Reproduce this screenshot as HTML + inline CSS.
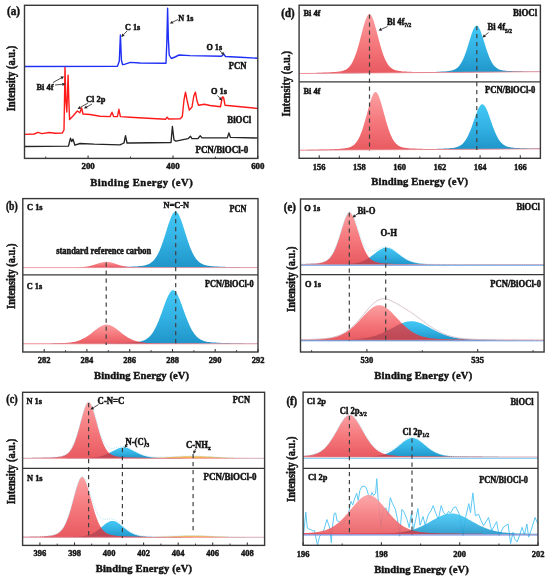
<!DOCTYPE html>
<html><head><meta charset="utf-8"><style>html,body{margin:0;padding:0;background:#fff;width:550px;height:582px;overflow:hidden}</style></head>
<body>
<svg width="550" height="582" viewBox="0 0 550 582" style="display:block;will-change:transform">
<defs>
<linearGradient id="gr" x1="0" y1="0" x2="0" y2="1"><stop offset="0" stop-color="#fba0a2"/><stop offset="0.5" stop-color="#f5797d"/><stop offset="1" stop-color="#e85a60"/></linearGradient>
<linearGradient id="gb" x1="0" y1="0" x2="0" y2="1"><stop offset="0" stop-color="#42c8f5"/><stop offset="0.5" stop-color="#33b2e4"/><stop offset="1" stop-color="#1f94c8"/></linearGradient>
<linearGradient id="go" x1="0" y1="0" x2="0" y2="1"><stop offset="0" stop-color="#fcd27a"/><stop offset="1" stop-color="#f0a838"/></linearGradient>
</defs>
<style>text{stroke:#141414;stroke-width:0.45px}</style>
<rect width="550" height="582" fill="#fff"/>
<g style="font-family:'Liberation Serif',serif;font-weight:bold" fill="#141414" stroke="none">
<polyline points="24.5,146.5 68.5,146.1 69.5,142 70.5,138.1 71.7,141.6 73,139.1 74.9,145.2 80,143.5 94,144.2 120,144.9 124,143 125.5,135.7 127,143 130,143 171,142.5 172.4,126.4 174,140 176,141.2 188,138.7 190.5,136.3 192,138.7 198,138.5 200.3,135.8 202,137.9 227.3,137.9 228.9,133 230.5,137.4 257.8,138" fill="none" stroke="#252525" stroke-width="1.35" stroke-linejoin="round" />
<polyline points="24.5,134.4 34.2,134 38,132.4 41.8,133.6 49.5,132.5 55,133.2 62.2,133.1 64,130 64.5,100 65,67.3 65.8,100 66.8,112 67.4,95 68.1,75.3 68.8,100 69.6,119.6 73,116 77.3,111 79.8,112.8 81.6,108 83,114 90,114.5 100,116.3 110,116.6 112,112.2 113.6,116.6 117.4,116.6 118.9,109.3 120.4,116.6 130,117.2 165.5,119.2 167.2,117.3 168.6,119 180,118.9 182.3,116.5 184,100 185.5,92.1 187,100 189.3,110.1 192,107 193.8,96 195.4,92.1 197,101 198.5,105.2 204.4,104.2 210,105.5 220.5,106.8 222.3,97 223.6,97.5 225,105.2 257.8,108.5" fill="none" stroke="#ff1a1a" stroke-width="1.4" stroke-linejoin="round" />
<polyline points="24.5,66.5 117.5,66.3 119.3,61 120.4,35 121.4,60 122.5,64.6 125,64.2 130.5,62.4 140,63 166,63.2 166.9,40 167.6,8.2 168.4,40 169.2,55 171.3,58.5 175,57 179,55 190,55.6 221.5,56.2 223.8,54.2 225.5,56.5 240,57.3 257.8,58.2" fill="none" stroke="#1f2ff5" stroke-width="1.4" stroke-linejoin="round" />
<rect x="24.5" y="5.3" width="233.3" height="153.1" fill="none" stroke="#383838" stroke-width="1.4"/>
<line x1="88.1" y1="158.4" x2="88.1" y2="155.4" stroke="#383838" stroke-width="1.1"/>
<line x1="173" y1="158.4" x2="173" y2="155.4" stroke="#383838" stroke-width="1.1"/>
<line x1="257.8" y1="158.4" x2="257.8" y2="155.4" stroke="#383838" stroke-width="1.1"/>
<line x1="45.7" y1="158.4" x2="45.7" y2="156.6" stroke="#383838" stroke-width="1"/>
<line x1="130.5" y1="158.4" x2="130.5" y2="156.6" stroke="#383838" stroke-width="1"/>
<line x1="215.4" y1="158.4" x2="215.4" y2="156.6" stroke="#383838" stroke-width="1"/>
<text transform="translate(88.1,169.3) scale(1,0.92)" font-size="8.9" text-anchor="middle" >200</text>
<text transform="translate(173,169.3) scale(1,0.92)" font-size="8.9" text-anchor="middle" >400</text>
<text transform="translate(257.8,169.3) scale(1,0.92)" font-size="8.9" text-anchor="middle" >600</text>
<text transform="translate(7,15.4) scale(1,1.1)" font-size="11" text-anchor="start" textLength="13" lengthAdjust="spacingAndGlyphs" >(a)</text>
<text transform="translate(90.2,185.7) scale(1,1.03)" font-size="10.6" text-anchor="start" textLength="102.5" lengthAdjust="spacing" >Binding Energy (eV)</text>
<text transform="translate(15,78.5) rotate(-90)" font-size="11.8" text-anchor="middle" textLength="65.5" lengthAdjust="spacingAndGlyphs">Intensity (a.u.)</text>
<text transform="translate(125,29.9) scale(1,1.1)" font-size="8.2" text-anchor="start" >C 1s</text>
<line x1="127" y1="31" x2="123.5" y2="34.7" stroke="#222" stroke-width="0.8"/>
<path d="M121.3,37 L122.3,33.6 L124.7,35.8 Z" fill="#222"/>
<text transform="translate(178.2,21) scale(1,1.1)" font-size="8.2" text-anchor="start" >N 1s</text>
<line x1="178" y1="19.5" x2="172.7" y2="22.1" stroke="#222" stroke-width="0.8"/>
<path d="M169.8,23.5 L172,20.7 L173.4,23.5 Z" fill="#222"/>
<text transform="translate(206.4,49.8) scale(1,1.1)" font-size="8.2" text-anchor="start" >O 1s</text>
<line x1="219.5" y1="50.5" x2="222.1" y2="52.9" stroke="#222" stroke-width="0.8"/>
<path d="M224.5,55 L221.1,54 L223.2,51.7 Z" fill="#222"/>
<text transform="translate(228.7,69) scale(1,1.1)" font-size="8.6" text-anchor="start" >PCN</text>
<text transform="translate(36.5,89.6) scale(1,1.1)" font-size="8.4" text-anchor="start" >Bi 4f</text>
<line x1="53" y1="82.5" x2="61.2" y2="78" stroke="#222" stroke-width="0.8"/>
<path d="M64,76.5 L62,79.4 L60.4,76.6 Z" fill="#222"/>
<line x1="55" y1="85" x2="62.3" y2="84.3" stroke="#222" stroke-width="0.8"/>
<path d="M65.5,84 L62.5,85.9 L62.2,82.7 Z" fill="#222"/>
<text transform="translate(86,101.6) scale(1,1.1)" font-size="8.4" text-anchor="start" >Cl 2p</text>
<line x1="88" y1="103" x2="80.3" y2="107.4" stroke="#222" stroke-width="0.8"/>
<path d="M77.5,109 L79.5,106 L81.1,108.8 Z" fill="#222"/>
<line x1="92" y1="104" x2="86.8" y2="106.9" stroke="#222" stroke-width="0.8"/>
<path d="M84,108.5 L86,105.5 L87.6,108.3 Z" fill="#222"/>
<text transform="translate(211,94) scale(1,1.1)" font-size="8.4" text-anchor="start" >O 1s</text>
<line x1="217.5" y1="95.5" x2="219.9" y2="98.1" stroke="#222" stroke-width="0.8"/>
<path d="M222,100.5 L218.7,99.2 L221,97.1 Z" fill="#222"/>
<text transform="translate(227.3,122.7) scale(1,1.1)" font-size="8.8" text-anchor="start" >BiOCl</text>
<text transform="translate(195.4,153) scale(1,1.1)" font-size="8.8" text-anchor="start" textLength="52.8" lengthAdjust="spacingAndGlyphs" >PCN/BiOCl-0</text>
<path d="M22.8,267.5 L23.8,267.5 L24.8,267.5 L25.8,267.5 L26.8,267.5 L27.8,267.5 L28.8,267.5 L29.8,267.5 L30.8,267.5 L31.8,267.5 L32.8,267.5 L33.8,267.5 L34.8,267.5 L35.8,267.5 L36.8,267.5 L37.8,267.5 L38.8,267.5 L39.8,267.5 L40.8,267.5 L41.8,267.5 L42.8,267.5 L43.8,267.5 L44.8,267.5 L45.8,267.5 L46.8,267.5 L47.8,267.5 L48.8,267.5 L49.8,267.5 L50.8,267.5 L51.8,267.5 L52.8,267.5 L53.8,267.5 L54.8,267.5 L55.8,267.5 L56.8,267.5 L57.8,267.5 L58.8,267.5 L59.8,267.5 L60.8,267.5 L61.8,267.4 L62.8,267.4 L63.8,267.4 L64.8,267.4 L65.8,267.4 L66.8,267.4 L67.8,267.4 L68.8,267.4 L69.8,267.4 L70.8,267.4 L71.8,267.4 L72.8,267.4 L73.8,267.4 L74.8,267.4 L75.8,267.4 L76.8,267.4 L77.8,267.4 L78.8,267.4 L79.8,267.4 L80.8,267.4 L81.8,267.4 L82.8,267.4 L83.8,267.4 L84.8,267.4 L85.8,267.4 L86.8,267.4 L87.8,267.3 L88.8,267.3 L89.8,267.3 L90.8,267.3 L91.8,267.3 L92.8,267.3 L93.8,267.3 L94.8,267.3 L95.8,267.3 L96.8,267.3 L97.8,267.3 L98.8,267.3 L99.8,267.3 L100.8,267.3 L101.8,267.2 L102.8,267.2 L103.8,267.2 L104.8,267.2 L105.8,267.2 L106.8,267.2 L107.8,267.2 L108.8,267.2 L109.8,267.2 L110.8,267.1 L111.8,267.1 L112.8,267.1 L113.8,267.1 L114.8,267.1 L115.8,267.1 L116.8,267 L117.8,267 L118.8,267 L119.8,267 L120.8,267 L121.8,266.9 L122.8,266.9 L123.8,266.9 L124.8,266.9 L125.8,266.8 L126.8,266.8 L127.8,266.8 L128.8,266.7 L129.8,266.7 L130.8,266.7 L131.8,266.6 L132.8,266.6 L133.8,266.5 L134.8,266.5 L135.8,266.4 L136.8,266.4 L137.8,266.3 L138.8,266.2 L139.8,266.1 L140.8,266 L141.8,265.9 L142.8,265.7 L143.8,265.6 L144.8,265.4 L145.8,265.1 L146.8,264.8 L147.8,264.4 L148.8,264 L149.8,263.5 L150.8,262.8 L151.8,262.1 L152.8,261.2 L153.8,260.2 L154.8,259 L155.8,257.6 L156.8,256 L157.8,254.2 L158.8,252.2 L159.8,249.9 L160.8,247.5 L161.8,244.8 L162.8,242 L163.8,239 L164.8,235.9 L165.8,232.7 L166.8,229.5 L167.8,226.3 L168.8,223.3 L169.8,220.4 L170.8,217.8 L171.8,215.6 L172.8,213.8 L173.8,212.5 L174.8,211.7 L175.8,211.6 L176.8,212.1 L177.8,213.2 L178.8,214.8 L179.8,216.9 L180.8,219.3 L181.8,222.1 L182.8,225.1 L183.8,228.2 L184.8,231.4 L185.8,234.6 L186.8,237.8 L187.8,240.8 L188.8,243.7 L189.8,246.4 L190.8,249 L191.8,251.3 L192.8,253.4 L193.8,255.3 L194.8,257 L195.8,258.4 L196.8,259.7 L197.8,260.8 L198.8,261.8 L199.8,262.6 L200.8,263.2 L201.8,263.8 L202.8,264.3 L203.8,264.7 L204.8,265 L205.8,265.3 L206.8,265.5 L207.8,265.7 L208.8,265.8 L209.8,266 L210.8,266.1 L211.8,266.2 L212.8,266.3 L213.8,266.3 L214.8,266.4 L215.8,266.5 L216.8,266.5 L217.8,266.6 L218.8,266.6 L219.8,266.7 L220.8,266.7 L221.8,266.7 L222.8,266.8 L223.8,266.8 L224.8,266.8 L225.8,266.9 L226.8,266.9 L227.8,266.9 L228.8,266.9 L229.8,267 L230.8,267 L231.8,267 L232.8,267 L233.8,267 L234.8,267.1 L235.8,267.1 L236.8,267.1 L237.8,267.1 L238.8,267.1 L239.8,267.1 L240.8,267.2 L241.8,267.2 L242.8,267.2 L243.8,267.2 L244.8,267.2 L245.8,267.2 L246.8,267.2 L247.8,267.2 L248.8,267.2 L249.8,267.2 L250.8,267.3 L251.8,267.3 L252.8,267.3 L253.8,267.3 L254.8,267.3 L255.8,267.3 L256.8,267.3 L257.8,267.3 L258,267.3 L258,267.6 L22.8,267.6 Z" fill="url(#gb)" fill-opacity="1.0"/>
<path d="M22.8,267.6 L23.8,267.6 L24.8,267.6 L25.8,267.6 L26.8,267.6 L27.8,267.6 L28.8,267.6 L29.8,267.6 L30.8,267.6 L31.8,267.6 L32.8,267.6 L33.8,267.6 L34.8,267.6 L35.8,267.6 L36.8,267.6 L37.8,267.6 L38.8,267.6 L39.8,267.6 L40.8,267.6 L41.8,267.6 L42.8,267.6 L43.8,267.5 L44.8,267.5 L45.8,267.5 L46.8,267.5 L47.8,267.5 L48.8,267.5 L49.8,267.5 L50.8,267.5 L51.8,267.5 L52.8,267.5 L53.8,267.5 L54.8,267.5 L55.8,267.5 L56.8,267.5 L57.8,267.5 L58.8,267.5 L59.8,267.5 L60.8,267.5 L61.8,267.5 L62.8,267.5 L63.8,267.5 L64.8,267.5 L65.8,267.5 L66.8,267.5 L67.8,267.5 L68.8,267.5 L69.8,267.5 L70.8,267.4 L71.8,267.4 L72.8,267.4 L73.8,267.4 L74.8,267.4 L75.8,267.4 L76.8,267.3 L77.8,267.3 L78.8,267.3 L79.8,267.2 L80.8,267.2 L81.8,267.1 L82.8,267 L83.8,266.9 L84.8,266.8 L85.8,266.7 L86.8,266.5 L87.8,266.4 L88.8,266.2 L89.8,266 L90.8,265.7 L91.8,265.5 L92.8,265.2 L93.8,264.9 L94.8,264.6 L95.8,264.3 L96.8,264 L97.8,263.6 L98.8,263.3 L99.8,263 L100.8,262.7 L101.8,262.4 L102.8,262.2 L103.8,262 L104.8,261.9 L105.8,261.8 L106.8,261.8 L107.8,261.9 L108.8,262 L109.8,262.1 L110.8,262.4 L111.8,262.6 L112.8,262.9 L113.8,263.2 L114.8,263.6 L115.8,263.9 L116.8,264.2 L117.8,264.5 L118.8,264.9 L119.8,265.2 L120.8,265.4 L121.8,265.7 L122.8,265.9 L123.8,266.1 L124.8,266.3 L125.8,266.5 L126.8,266.7 L127.8,266.8 L128.8,266.9 L129.8,267 L130.8,267.1 L131.8,267.2 L132.8,267.2 L133.8,267.3 L134.8,267.3 L135.8,267.3 L136.8,267.4 L137.8,267.4 L138.8,267.4 L139.8,267.4 L140.8,267.4 L141.8,267.4 L142.8,267.5 L143.8,267.5 L144.8,267.5 L145.8,267.5 L146.8,267.5 L147.8,267.5 L148.8,267.5 L149.8,267.5 L150.8,267.5 L151.8,267.5 L152.8,267.5 L153.8,267.5 L154.8,267.5 L155.8,267.5 L156.8,267.5 L157.8,267.5 L158.8,267.5 L159.8,267.5 L160.8,267.5 L161.8,267.5 L162.8,267.5 L163.8,267.5 L164.8,267.5 L165.8,267.5 L166.8,267.5 L167.8,267.5 L168.8,267.5 L169.8,267.6 L170.8,267.6 L171.8,267.6 L172.8,267.6 L173.8,267.6 L174.8,267.6 L175.8,267.6 L176.8,267.6 L177.8,267.6 L178.8,267.6 L179.8,267.6 L180.8,267.6 L181.8,267.6 L182.8,267.6 L183.8,267.6 L184.8,267.6 L185.8,267.6 L186.8,267.6 L187.8,267.6 L188.8,267.6 L189.8,267.6 L190.8,267.6 L191.8,267.6 L192.8,267.6 L193.8,267.6 L194.8,267.6 L195.8,267.6 L196.8,267.6 L197.8,267.6 L198.8,267.6 L199.8,267.6 L200.8,267.6 L201.8,267.6 L202.8,267.6 L203.8,267.6 L204.8,267.6 L205.8,267.6 L206.8,267.6 L207.8,267.6 L208.8,267.6 L209.8,267.6 L210.8,267.6 L211.8,267.6 L212.8,267.6 L213.8,267.6 L214.8,267.6 L215.8,267.6 L216.8,267.6 L217.8,267.6 L218.8,267.6 L219.8,267.6 L220.8,267.6 L221.8,267.6 L222.8,267.6 L223.8,267.6 L224.8,267.6 L225.8,267.6 L226.8,267.6 L227.8,267.6 L228.8,267.6 L229.8,267.6 L230.8,267.6 L231.8,267.6 L232.8,267.6 L233.8,267.6 L234.8,267.6 L235.8,267.6 L236.8,267.6 L237.8,267.6 L238.8,267.6 L239.8,267.6 L240.8,267.6 L241.8,267.6 L242.8,267.6 L243.8,267.6 L244.8,267.6 L245.8,267.6 L246.8,267.6 L247.8,267.6 L248.8,267.6 L249.8,267.6 L250.8,267.6 L251.8,267.6 L252.8,267.6 L253.8,267.6 L254.8,267.6 L255.8,267.6 L256.8,267.6 L257.8,267.6 L258,267.6 L258,267.6 L22.8,267.6 Z" fill="url(#gr)" fill-opacity="1.0"/>
<line x1="22.8" y1="267.6" x2="258" y2="267.6" stroke="#f08890" stroke-width="0.8"/>
<path d="M22.8,343.7 L23.8,343.7 L24.8,343.7 L25.8,343.7 L26.8,343.7 L27.8,343.7 L28.8,343.7 L29.8,343.7 L30.8,343.7 L31.8,343.7 L32.8,343.7 L33.8,343.7 L34.8,343.7 L35.8,343.7 L36.8,343.7 L37.8,343.7 L38.8,343.7 L39.8,343.7 L40.8,343.7 L41.8,343.7 L42.8,343.7 L43.8,343.7 L44.8,343.7 L45.8,343.7 L46.8,343.7 L47.8,343.7 L48.8,343.7 L49.8,343.7 L50.8,343.7 L51.8,343.6 L52.8,343.6 L53.8,343.6 L54.8,343.6 L55.8,343.6 L56.8,343.6 L57.8,343.6 L58.8,343.6 L59.8,343.6 L60.8,343.6 L61.8,343.6 L62.8,343.6 L63.8,343.6 L64.8,343.6 L65.8,343.6 L66.8,343.6 L67.8,343.6 L68.8,343.6 L69.8,343.6 L70.8,343.6 L71.8,343.6 L72.8,343.6 L73.8,343.6 L74.8,343.6 L75.8,343.6 L76.8,343.6 L77.8,343.6 L78.8,343.6 L79.8,343.5 L80.8,343.5 L81.8,343.5 L82.8,343.5 L83.8,343.5 L84.8,343.5 L85.8,343.5 L86.8,343.5 L87.8,343.5 L88.8,343.5 L89.8,343.5 L90.8,343.5 L91.8,343.5 L92.8,343.5 L93.8,343.4 L94.8,343.4 L95.8,343.4 L96.8,343.4 L97.8,343.4 L98.8,343.4 L99.8,343.4 L100.8,343.4 L101.8,343.4 L102.8,343.4 L103.8,343.3 L104.8,343.3 L105.8,343.3 L106.8,343.3 L107.8,343.3 L108.8,343.3 L109.8,343.3 L110.8,343.2 L111.8,343.2 L112.8,343.2 L113.8,343.2 L114.8,343.2 L115.8,343.1 L116.8,343.1 L117.8,343.1 L118.8,343.1 L119.8,343 L120.8,343 L121.8,343 L122.8,343 L123.8,342.9 L124.8,342.9 L125.8,342.9 L126.8,342.8 L127.8,342.8 L128.8,342.7 L129.8,342.7 L130.8,342.6 L131.8,342.6 L132.8,342.5 L133.8,342.4 L134.8,342.3 L135.8,342.2 L136.8,342.1 L137.8,342 L138.8,341.8 L139.8,341.6 L140.8,341.4 L141.8,341.1 L142.8,340.8 L143.8,340.4 L144.8,340 L145.8,339.4 L146.8,338.8 L147.8,338.1 L148.8,337.3 L149.8,336.3 L150.8,335.2 L151.8,333.9 L152.8,332.5 L153.8,330.9 L154.8,329.1 L155.8,327.2 L156.8,325.1 L157.8,322.8 L158.8,320.4 L159.8,317.8 L160.8,315.1 L161.8,312.4 L162.8,309.6 L163.8,306.7 L164.8,304 L165.8,301.3 L166.8,298.8 L167.8,296.5 L168.8,294.5 L169.8,292.8 L170.8,291.5 L171.8,290.6 L172.8,290.2 L173.8,290.3 L174.8,290.9 L175.8,291.9 L176.8,293.4 L177.8,295.2 L178.8,297.4 L179.8,299.8 L180.8,302.4 L181.8,305.1 L182.8,307.9 L183.8,310.7 L184.8,313.5 L185.8,316.2 L186.8,318.8 L187.8,321.3 L188.8,323.7 L189.8,325.9 L190.8,328 L191.8,329.9 L192.8,331.6 L193.8,333.1 L194.8,334.4 L195.8,335.6 L196.8,336.7 L197.8,337.6 L198.8,338.4 L199.8,339.1 L200.8,339.7 L201.8,340.1 L202.8,340.6 L203.8,340.9 L204.8,341.2 L205.8,341.5 L206.8,341.7 L207.8,341.9 L208.8,342 L209.8,342.1 L210.8,342.3 L211.8,342.4 L212.8,342.4 L213.8,342.5 L214.8,342.6 L215.8,342.6 L216.8,342.7 L217.8,342.7 L218.8,342.8 L219.8,342.8 L220.8,342.9 L221.8,342.9 L222.8,342.9 L223.8,343 L224.8,343 L225.8,343 L226.8,343.1 L227.8,343.1 L228.8,343.1 L229.8,343.1 L230.8,343.2 L231.8,343.2 L232.8,343.2 L233.8,343.2 L234.8,343.2 L235.8,343.2 L236.8,343.3 L237.8,343.3 L238.8,343.3 L239.8,343.3 L240.8,343.3 L241.8,343.3 L242.8,343.3 L243.8,343.4 L244.8,343.4 L245.8,343.4 L246.8,343.4 L247.8,343.4 L248.8,343.4 L249.8,343.4 L250.8,343.4 L251.8,343.4 L252.8,343.5 L253.8,343.5 L254.8,343.5 L255.8,343.5 L256.8,343.5 L257.8,343.5 L258,343.5 L258,343.8 L22.8,343.8 Z" fill="url(#gb)" fill-opacity="1.0"/>
<path d="M22.8,343.6 L23.8,343.6 L24.8,343.6 L25.8,343.6 L26.8,343.6 L27.8,343.6 L28.8,343.6 L29.8,343.6 L30.8,343.6 L31.8,343.6 L32.8,343.6 L33.8,343.6 L34.8,343.6 L35.8,343.6 L36.8,343.5 L37.8,343.5 L38.8,343.5 L39.8,343.5 L40.8,343.5 L41.8,343.5 L42.8,343.5 L43.8,343.5 L44.8,343.5 L45.8,343.5 L46.8,343.5 L47.8,343.4 L48.8,343.4 L49.8,343.4 L50.8,343.4 L51.8,343.4 L52.8,343.4 L53.8,343.4 L54.8,343.3 L55.8,343.3 L56.8,343.3 L57.8,343.3 L58.8,343.2 L59.8,343.2 L60.8,343.2 L61.8,343.1 L62.8,343.1 L63.8,343 L64.8,343 L65.8,342.9 L66.8,342.8 L67.8,342.8 L68.8,342.7 L69.8,342.5 L70.8,342.4 L71.8,342.3 L72.8,342.1 L73.8,341.9 L74.8,341.7 L75.8,341.4 L76.8,341.2 L77.8,340.9 L78.8,340.5 L79.8,340.2 L80.8,339.8 L81.8,339.3 L82.8,338.8 L83.8,338.3 L84.8,337.8 L85.8,337.2 L86.8,336.5 L87.8,335.9 L88.8,335.2 L89.8,334.4 L90.8,333.7 L91.8,332.9 L92.8,332.1 L93.8,331.3 L94.8,330.5 L95.8,329.7 L96.8,329 L97.8,328.2 L98.8,327.5 L99.8,326.9 L100.8,326.3 L101.8,325.8 L102.8,325.4 L103.8,325 L104.8,324.8 L105.8,324.6 L106.8,324.6 L107.8,324.7 L108.8,324.9 L109.8,325.1 L110.8,325.5 L111.8,326 L112.8,326.5 L113.8,327.1 L114.8,327.8 L115.8,328.5 L116.8,329.3 L117.8,330.1 L118.8,330.8 L119.8,331.6 L120.8,332.4 L121.8,333.2 L122.8,334 L123.8,334.7 L124.8,335.4 L125.8,336.1 L126.8,336.8 L127.8,337.4 L128.8,338 L129.8,338.5 L130.8,339 L131.8,339.5 L132.8,339.9 L133.8,340.3 L134.8,340.7 L135.8,341 L136.8,341.3 L137.8,341.5 L138.8,341.8 L139.8,342 L140.8,342.2 L141.8,342.3 L142.8,342.5 L143.8,342.6 L144.8,342.7 L145.8,342.8 L146.8,342.9 L147.8,342.9 L148.8,343 L149.8,343.1 L150.8,343.1 L151.8,343.2 L152.8,343.2 L153.8,343.2 L154.8,343.3 L155.8,343.3 L156.8,343.3 L157.8,343.3 L158.8,343.3 L159.8,343.4 L160.8,343.4 L161.8,343.4 L162.8,343.4 L163.8,343.4 L164.8,343.4 L165.8,343.5 L166.8,343.5 L167.8,343.5 L168.8,343.5 L169.8,343.5 L170.8,343.5 L171.8,343.5 L172.8,343.5 L173.8,343.5 L174.8,343.5 L175.8,343.5 L176.8,343.5 L177.8,343.6 L178.8,343.6 L179.8,343.6 L180.8,343.6 L181.8,343.6 L182.8,343.6 L183.8,343.6 L184.8,343.6 L185.8,343.6 L186.8,343.6 L187.8,343.6 L188.8,343.6 L189.8,343.6 L190.8,343.6 L191.8,343.6 L192.8,343.6 L193.8,343.6 L194.8,343.6 L195.8,343.6 L196.8,343.6 L197.8,343.6 L198.8,343.7 L199.8,343.7 L200.8,343.7 L201.8,343.7 L202.8,343.7 L203.8,343.7 L204.8,343.7 L205.8,343.7 L206.8,343.7 L207.8,343.7 L208.8,343.7 L209.8,343.7 L210.8,343.7 L211.8,343.7 L212.8,343.7 L213.8,343.7 L214.8,343.7 L215.8,343.7 L216.8,343.7 L217.8,343.7 L218.8,343.7 L219.8,343.7 L220.8,343.7 L221.8,343.7 L222.8,343.7 L223.8,343.7 L224.8,343.7 L225.8,343.7 L226.8,343.7 L227.8,343.7 L228.8,343.7 L229.8,343.7 L230.8,343.7 L231.8,343.7 L232.8,343.7 L233.8,343.7 L234.8,343.7 L235.8,343.7 L236.8,343.7 L237.8,343.7 L238.8,343.7 L239.8,343.7 L240.8,343.7 L241.8,343.7 L242.8,343.7 L243.8,343.7 L244.8,343.7 L245.8,343.7 L246.8,343.7 L247.8,343.7 L248.8,343.7 L249.8,343.7 L250.8,343.7 L251.8,343.7 L252.8,343.7 L253.8,343.7 L254.8,343.7 L255.8,343.7 L256.8,343.7 L257.8,343.7 L258,343.7 L258,343.8 L22.8,343.8 Z" fill="url(#gr)" fill-opacity="1.0"/>
<path d="M22.8,343.7 L23.8,343.7 L24.8,343.7 L25.8,343.7 L26.8,343.7 L27.8,343.7 L28.8,343.7 L29.8,343.7 L30.8,343.7 L31.8,343.7 L32.8,343.7 L33.8,343.7 L34.8,343.7 L35.8,343.7 L36.8,343.7 L37.8,343.7 L38.8,343.7 L39.8,343.7 L40.8,343.7 L41.8,343.7 L42.8,343.7 L43.8,343.7 L44.8,343.7 L45.8,343.7 L46.8,343.7 L47.8,343.7 L48.8,343.7 L49.8,343.7 L50.8,343.7 L51.8,343.6 L52.8,343.6 L53.8,343.6 L54.8,343.6 L55.8,343.6 L56.8,343.6 L57.8,343.6 L58.8,343.6 L59.8,343.6 L60.8,343.6 L61.8,343.6 L62.8,343.6 L63.8,343.6 L64.8,343.6 L65.8,343.6 L66.8,343.6 L67.8,343.6 L68.8,343.6 L69.8,343.6 L70.8,343.6 L71.8,343.6 L72.8,343.6 L73.8,343.6 L74.8,343.6 L75.8,343.6 L76.8,343.6 L77.8,343.6 L78.8,343.6 L79.8,343.5 L80.8,343.5 L81.8,343.5 L82.8,343.5 L83.8,343.5 L84.8,343.5 L85.8,343.5 L86.8,343.5 L87.8,343.5 L88.8,343.5 L89.8,343.5 L90.8,343.5 L91.8,343.5 L92.8,343.5 L93.8,343.4 L94.8,343.4 L95.8,343.4 L96.8,343.4 L97.8,343.4 L98.8,343.4 L99.8,343.4 L100.8,343.4 L101.8,343.4 L102.8,343.4 L103.8,343.3 L104.8,343.3 L105.8,343.3 L106.8,343.3 L107.8,343.3 L108.8,343.3 L109.8,343.3 L110.8,343.2 L111.8,343.2 L112.8,343.2 L113.8,343.2 L114.8,343.2 L115.8,343.1 L116.8,343.1 L117.8,343.1 L118.8,343.1 L119.8,343 L120.8,343 L121.8,343 L122.8,343 L123.8,342.9 L124.8,342.9 L125.8,342.9 L126.8,342.8 L127.8,342.8 L128.8,342.7 L129.8,342.7 L130.8,342.6 L131.8,342.6 L132.8,342.5 L133.8,342.4 L134.8,342.3 L135.8,342.2 L136.8,342.1 L137.8,342 L138.8,341.8 L139.8,342 L140.8,342.2 L141.8,342.3 L142.8,342.5 L143.8,342.6 L144.8,342.7 L145.8,342.8 L146.8,342.9 L147.8,342.9 L148.8,343 L149.8,343.1 L150.8,343.1 L151.8,343.2 L152.8,343.2 L153.8,343.2 L154.8,343.3 L155.8,343.3 L156.8,343.3 L157.8,343.3 L158.8,343.3 L159.8,343.4 L160.8,343.4 L161.8,343.4 L162.8,343.4 L163.8,343.4 L164.8,343.4 L165.8,343.5 L166.8,343.5 L167.8,343.5 L168.8,343.5 L169.8,343.5 L170.8,343.5 L171.8,343.5 L172.8,343.5 L173.8,343.5 L174.8,343.5 L175.8,343.5 L176.8,343.5 L177.8,343.6 L178.8,343.6 L179.8,343.6 L180.8,343.6 L181.8,343.6 L182.8,343.6 L183.8,343.6 L184.8,343.6 L185.8,343.6 L186.8,343.6 L187.8,343.6 L188.8,343.6 L189.8,343.6 L190.8,343.6 L191.8,343.6 L192.8,343.6 L193.8,343.6 L194.8,343.6 L195.8,343.6 L196.8,343.6 L197.8,343.6 L198.8,343.7 L199.8,343.7 L200.8,343.7 L201.8,343.7 L202.8,343.7 L203.8,343.7 L204.8,343.7 L205.8,343.7 L206.8,343.7 L207.8,343.7 L208.8,343.7 L209.8,343.7 L210.8,343.7 L211.8,343.7 L212.8,343.7 L213.8,343.7 L214.8,343.7 L215.8,343.7 L216.8,343.7 L217.8,343.7 L218.8,343.7 L219.8,343.7 L220.8,343.7 L221.8,343.7 L222.8,343.7 L223.8,343.7 L224.8,343.7 L225.8,343.7 L226.8,343.7 L227.8,343.7 L228.8,343.7 L229.8,343.7 L230.8,343.7 L231.8,343.7 L232.8,343.7 L233.8,343.7 L234.8,343.7 L235.8,343.7 L236.8,343.7 L237.8,343.7 L238.8,343.7 L239.8,343.7 L240.8,343.7 L241.8,343.7 L242.8,343.7 L243.8,343.7 L244.8,343.7 L245.8,343.7 L246.8,343.7 L247.8,343.7 L248.8,343.7 L249.8,343.7 L250.8,343.7 L251.8,343.7 L252.8,343.7 L253.8,343.7 L254.8,343.7 L255.8,343.7 L256.8,343.7 L257.8,343.7 L257.8,343.8 L22.8,343.8 Z" fill="#8e2f45" fill-opacity="0.45"/>
<line x1="22.8" y1="343.8" x2="258" y2="343.8" stroke="#f08890" stroke-width="0.8"/>
<line x1="106.2" y1="262.5" x2="106.2" y2="345" stroke="#404040" stroke-width="1.2" stroke-dasharray="4.2,3.8"/>
<line x1="175.7" y1="211" x2="175.7" y2="345" stroke="#404040" stroke-width="1.2" stroke-dasharray="4.2,3.8"/>
<rect x="22.8" y="198.6" width="235.2" height="153.4" fill="none" stroke="#383838" stroke-width="1.4"/>
<line x1="22.8" y1="274.8" x2="258" y2="274.8" stroke="#383838" stroke-width="1.3"/>
<line x1="44.2" y1="352" x2="44.2" y2="349" stroke="#383838" stroke-width="1.1"/>
<line x1="86.9" y1="352" x2="86.9" y2="349" stroke="#383838" stroke-width="1.1"/>
<line x1="129.7" y1="352" x2="129.7" y2="349" stroke="#383838" stroke-width="1.1"/>
<line x1="172.5" y1="352" x2="172.5" y2="349" stroke="#383838" stroke-width="1.1"/>
<line x1="215.2" y1="352" x2="215.2" y2="349" stroke="#383838" stroke-width="1.1"/>
<line x1="258" y1="352" x2="258" y2="349" stroke="#383838" stroke-width="1.1"/>
<line x1="65.6" y1="352" x2="65.6" y2="350.2" stroke="#383838" stroke-width="1"/>
<line x1="108.3" y1="352" x2="108.3" y2="350.2" stroke="#383838" stroke-width="1"/>
<line x1="151.1" y1="352" x2="151.1" y2="350.2" stroke="#383838" stroke-width="1"/>
<line x1="193.9" y1="352" x2="193.9" y2="350.2" stroke="#383838" stroke-width="1"/>
<line x1="236.6" y1="352" x2="236.6" y2="350.2" stroke="#383838" stroke-width="1"/>
<text transform="translate(44.2,362.7) scale(1,0.92)" font-size="8.5" text-anchor="middle" >282</text>
<text transform="translate(86.9,362.7) scale(1,0.92)" font-size="8.5" text-anchor="middle" >284</text>
<text transform="translate(129.7,362.7) scale(1,0.92)" font-size="8.5" text-anchor="middle" >286</text>
<text transform="translate(172.5,362.7) scale(1,0.92)" font-size="8.5" text-anchor="middle" >288</text>
<text transform="translate(215.2,362.7) scale(1,0.92)" font-size="8.5" text-anchor="middle" >290</text>
<text transform="translate(258,362.7) scale(1,0.92)" font-size="8.5" text-anchor="middle" >292</text>
<text transform="translate(5.9,209.9) scale(1,1.1)" font-size="10.8" text-anchor="start" textLength="11.8" lengthAdjust="spacingAndGlyphs" >(b)</text>
<text transform="translate(27,209.8) scale(1,1.1)" font-size="8.4" text-anchor="start" >C 1s</text>
<text transform="translate(56.2,254) scale(1,1.1)" font-size="8.6" text-anchor="start" textLength="95" lengthAdjust="spacingAndGlyphs" >standard reference carbon</text>
<text transform="translate(163.6,208.4) scale(1,1.1)" font-size="8.4" text-anchor="start" textLength="25.5" lengthAdjust="spacingAndGlyphs" >N=C-N</text>
<text transform="translate(229.5,211.7) scale(1,1.1)" font-size="8.6" text-anchor="start" textLength="16.8" lengthAdjust="spacingAndGlyphs" >PCN</text>
<text transform="translate(26.7,289.2) scale(1,1.1)" font-size="8.4" text-anchor="start" >C 1s</text>
<text transform="translate(204.9,287.4) scale(1,1.1)" font-size="8.6" text-anchor="start" textLength="48.8" lengthAdjust="spacingAndGlyphs" >PCN/BiOCl-0</text>
<text transform="translate(94.1,379.2) scale(1,1.03)" font-size="10.6" text-anchor="start" textLength="95" lengthAdjust="spacing" >Binding Energy (eV)</text>
<text transform="translate(15,276.2) rotate(-90)" font-size="11.8" text-anchor="middle" textLength="65.5" lengthAdjust="spacingAndGlyphs">Intensity (a.u.)</text>
<path d="M22.6,458.3 L23.6,458.3 L24.6,458.3 L25.6,458.3 L26.6,458.3 L27.6,458.3 L28.6,458.3 L29.6,458.3 L30.6,458.3 L31.6,458.3 L32.6,458.3 L33.6,458.3 L34.6,458.3 L35.6,458.3 L36.6,458.3 L37.6,458.3 L38.6,458.3 L39.6,458.3 L40.6,458.3 L41.6,458.3 L42.6,458.3 L43.6,458.3 L44.6,458.3 L45.6,458.3 L46.6,458.3 L47.6,458.3 L48.6,458.3 L49.6,458.3 L50.6,458.3 L51.6,458.3 L52.6,458.3 L53.6,458.3 L54.6,458.3 L55.6,458.3 L56.6,458.3 L57.6,458.3 L58.6,458.3 L59.6,458.3 L60.6,458.3 L61.6,458.3 L62.6,458.3 L63.6,458.3 L64.6,458.3 L65.6,458.3 L66.6,458.3 L67.6,458.3 L68.6,458.3 L69.6,458.3 L70.6,458.3 L71.6,458.3 L72.6,458.3 L73.6,458.3 L74.6,458.3 L75.6,458.3 L76.6,458.3 L77.6,458.3 L78.6,458.3 L79.6,458.3 L80.6,458.3 L81.6,458.3 L82.6,458.3 L83.6,458.3 L84.6,458.3 L85.6,458.3 L86.6,458.3 L87.6,458.3 L88.6,458.3 L89.6,458.3 L90.6,458.3 L91.6,458.3 L92.6,458.3 L93.6,458.3 L94.6,458.3 L95.6,458.3 L96.6,458.3 L97.6,458.3 L98.6,458.3 L99.6,458.3 L100.6,458.3 L101.6,458.3 L102.6,458.3 L103.6,458.3 L104.6,458.3 L105.6,458.3 L106.6,458.3 L107.6,458.3 L108.6,458.3 L109.6,458.2 L110.6,458.2 L111.6,458.2 L112.6,458.2 L113.6,458.2 L114.6,458.2 L115.6,458.2 L116.6,458.2 L117.6,458.2 L118.6,458.2 L119.6,458.2 L120.6,458.2 L121.6,458.2 L122.6,458.2 L123.6,458.2 L124.6,458.2 L125.6,458.2 L126.6,458.2 L127.6,458.2 L128.6,458.2 L129.6,458.2 L130.6,458.2 L131.6,458.2 L132.6,458.2 L133.6,458.2 L134.6,458.2 L135.6,458.2 L136.6,458.1 L137.6,458.1 L138.6,458.1 L139.6,458.1 L140.6,458.1 L141.6,458.1 L142.6,458.1 L143.6,458.1 L144.6,458 L145.6,458 L146.6,458 L147.6,458 L148.6,458 L149.6,457.9 L150.6,457.9 L151.6,457.9 L152.6,457.8 L153.6,457.8 L154.6,457.8 L155.6,457.7 L156.6,457.7 L157.6,457.7 L158.6,457.6 L159.6,457.6 L160.6,457.5 L161.6,457.5 L162.6,457.4 L163.6,457.4 L164.6,457.3 L165.6,457.2 L166.6,457.2 L167.6,457.1 L168.6,457.1 L169.6,457 L170.6,456.9 L171.6,456.9 L172.6,456.8 L173.6,456.7 L174.6,456.7 L175.6,456.6 L176.6,456.5 L177.6,456.5 L178.6,456.4 L179.6,456.4 L180.6,456.3 L181.6,456.2 L182.6,456.2 L183.6,456.1 L184.6,456.1 L185.6,456.1 L186.6,456 L187.6,456 L188.6,456 L189.6,455.9 L190.6,455.9 L191.6,455.9 L192.6,455.9 L193.6,455.9 L194.6,455.9 L195.6,455.9 L196.6,455.9 L197.6,456 L198.6,456 L199.6,456 L200.6,456.1 L201.6,456.1 L202.6,456.2 L203.6,456.2 L204.6,456.3 L205.6,456.3 L206.6,456.4 L207.6,456.4 L208.6,456.5 L209.6,456.6 L210.6,456.6 L211.6,456.7 L212.6,456.8 L213.6,456.8 L214.6,456.9 L215.6,456.9 L216.6,457 L217.6,457.1 L218.6,457.1 L219.6,457.2 L220.6,457.3 L221.6,457.3 L222.6,457.4 L223.6,457.4 L224.6,457.5 L225.6,457.5 L226.6,457.6 L227.6,457.6 L228.6,457.7 L229.6,457.7 L230.6,457.7 L231.6,457.8 L232.6,457.8 L233.6,457.8 L234.6,457.9 L235.6,457.9 L236.6,457.9 L237.6,458 L238.6,458 L239.6,458 L240.6,458 L241.6,458 L242.6,458.1 L243.6,458.1 L244.6,458.1 L245.6,458.1 L246.6,458.1 L247.6,458.1 L248.6,458.1 L249.6,458.2 L250.6,458.2 L251.6,458.2 L252.6,458.2 L253.6,458.2 L254.6,458.2 L255.6,458.2 L256.6,458.2 L257.6,458.2 L258.6,458.2 L259.6,458.2 L260.6,458.2 L261.6,458.2 L262.6,458.2 L263.6,458.2 L264.6,458.2 L264.6,458.3 L22.6,458.3 Z" fill="url(#go)" />
<path d="M22.6,458.2 L23.6,458.2 L24.6,458.2 L25.6,458.2 L26.6,458.2 L27.6,458.2 L28.6,458.2 L29.6,458.2 L30.6,458.2 L31.6,458.2 L32.6,458.2 L33.6,458.2 L34.6,458.2 L35.6,458.2 L36.6,458.2 L37.6,458.2 L38.6,458.2 L39.6,458.2 L40.6,458.2 L41.6,458.2 L42.6,458.2 L43.6,458.2 L44.6,458.2 L45.6,458.2 L46.6,458.2 L47.6,458.2 L48.6,458.2 L49.6,458.2 L50.6,458.2 L51.6,458.2 L52.6,458.2 L53.6,458.2 L54.6,458.2 L55.6,458.2 L56.6,458.2 L57.6,458.2 L58.6,458.2 L59.6,458.2 L60.6,458.2 L61.6,458.2 L62.6,458.2 L63.6,458.2 L64.6,458.2 L65.6,458.2 L66.6,458.1 L67.6,458.1 L68.6,458.1 L69.6,458.1 L70.6,458.1 L71.6,458.1 L72.6,458.1 L73.6,458.1 L74.6,458.1 L75.6,458.1 L76.6,458.1 L77.6,458.1 L78.6,458.1 L79.6,458 L80.6,458 L81.6,458 L82.6,458 L83.6,458 L84.6,458 L85.6,457.9 L86.6,457.9 L87.6,457.9 L88.6,457.8 L89.6,457.8 L90.6,457.7 L91.6,457.6 L92.6,457.6 L93.6,457.5 L94.6,457.4 L95.6,457.2 L96.6,457.1 L97.6,456.9 L98.6,456.7 L99.6,456.5 L100.6,456.3 L101.6,456 L102.6,455.7 L103.6,455.4 L104.6,455 L105.6,454.6 L106.6,454.2 L107.6,453.8 L108.6,453.3 L109.6,452.8 L110.6,452.3 L111.6,451.8 L112.6,451.2 L113.6,450.7 L114.6,450.2 L115.6,449.7 L116.6,449.2 L117.6,448.7 L118.6,448.3 L119.6,448 L120.6,447.7 L121.6,447.5 L122.6,447.4 L123.6,447.4 L124.6,447.5 L125.6,447.6 L126.6,447.8 L127.6,448.1 L128.6,448.5 L129.6,448.9 L130.6,449.4 L131.6,449.9 L132.6,450.4 L133.6,450.9 L134.6,451.4 L135.6,452 L136.6,452.5 L137.6,453 L138.6,453.5 L139.6,454 L140.6,454.4 L141.6,454.8 L142.6,455.2 L143.6,455.5 L144.6,455.9 L145.6,456.1 L146.6,456.4 L147.6,456.6 L148.6,456.8 L149.6,457 L150.6,457.2 L151.6,457.3 L152.6,457.4 L153.6,457.5 L154.6,457.6 L155.6,457.7 L156.6,457.7 L157.6,457.8 L158.6,457.8 L159.6,457.9 L160.6,457.9 L161.6,457.9 L162.6,458 L163.6,458 L164.6,458 L165.6,458 L166.6,458 L167.6,458 L168.6,458.1 L169.6,458.1 L170.6,458.1 L171.6,458.1 L172.6,458.1 L173.6,458.1 L174.6,458.1 L175.6,458.1 L176.6,458.1 L177.6,458.1 L178.6,458.1 L179.6,458.1 L180.6,458.1 L181.6,458.2 L182.6,458.2 L183.6,458.2 L184.6,458.2 L185.6,458.2 L186.6,458.2 L187.6,458.2 L188.6,458.2 L189.6,458.2 L190.6,458.2 L191.6,458.2 L192.6,458.2 L193.6,458.2 L194.6,458.2 L195.6,458.2 L196.6,458.2 L197.6,458.2 L198.6,458.2 L199.6,458.2 L200.6,458.2 L201.6,458.2 L202.6,458.2 L203.6,458.2 L204.6,458.2 L205.6,458.2 L206.6,458.2 L207.6,458.2 L208.6,458.2 L209.6,458.2 L210.6,458.2 L211.6,458.2 L212.6,458.2 L213.6,458.2 L214.6,458.2 L215.6,458.2 L216.6,458.2 L217.6,458.2 L218.6,458.2 L219.6,458.2 L220.6,458.2 L221.6,458.2 L222.6,458.2 L223.6,458.2 L224.6,458.2 L225.6,458.3 L226.6,458.3 L227.6,458.3 L228.6,458.3 L229.6,458.3 L230.6,458.3 L231.6,458.3 L232.6,458.3 L233.6,458.3 L234.6,458.3 L235.6,458.3 L236.6,458.3 L237.6,458.3 L238.6,458.3 L239.6,458.3 L240.6,458.3 L241.6,458.3 L242.6,458.3 L243.6,458.3 L244.6,458.3 L245.6,458.3 L246.6,458.3 L247.6,458.3 L248.6,458.3 L249.6,458.3 L250.6,458.3 L251.6,458.3 L252.6,458.3 L253.6,458.3 L254.6,458.3 L255.6,458.3 L256.6,458.3 L257.6,458.3 L258.6,458.3 L259.6,458.3 L260.6,458.3 L261.6,458.3 L262.6,458.3 L263.6,458.3 L264.6,458.3 L264.6,458.3 L22.6,458.3 Z" fill="url(#gb)" fill-opacity="1.0"/>
<path d="M22.6,458 L23.6,458 L24.6,458 L25.6,457.9 L26.6,457.9 L27.6,457.9 L28.6,457.9 L29.6,457.9 L30.6,457.9 L31.6,457.9 L32.6,457.8 L33.6,457.8 L34.6,457.8 L35.6,457.8 L36.6,457.8 L37.6,457.8 L38.6,457.7 L39.6,457.7 L40.6,457.7 L41.6,457.7 L42.6,457.6 L43.6,457.6 L44.6,457.6 L45.6,457.6 L46.6,457.5 L47.6,457.5 L48.6,457.4 L49.6,457.4 L50.6,457.4 L51.6,457.3 L52.6,457.3 L53.6,457.2 L54.6,457.1 L55.6,457 L56.6,457 L57.6,456.9 L58.6,456.7 L59.6,456.6 L60.6,456.4 L61.6,456.2 L62.6,456 L63.6,455.6 L64.6,455.2 L65.6,454.8 L66.6,454.1 L67.6,453.4 L68.6,452.5 L69.6,451.4 L70.6,450 L71.6,448.5 L72.6,446.6 L73.6,444.5 L74.6,442 L75.6,439.3 L76.6,436.3 L77.6,433 L78.6,429.5 L79.6,425.9 L80.6,422.1 L81.6,418.4 L82.6,414.8 L83.6,411.4 L84.6,408.3 L85.6,405.8 L86.6,403.8 L87.6,402.6 L88.6,402.2 L89.6,402.6 L90.6,403.8 L91.6,405.8 L92.6,408.3 L93.6,411.4 L94.6,414.8 L95.6,418.4 L96.6,422.1 L97.6,425.9 L98.6,429.5 L99.6,433 L100.6,436.3 L101.6,439.3 L102.6,442 L103.6,444.5 L104.6,446.6 L105.6,448.5 L106.6,450 L107.6,451.4 L108.6,452.5 L109.6,453.4 L110.6,454.1 L111.6,454.8 L112.6,455.2 L113.6,455.6 L114.6,456 L115.6,456.2 L116.6,456.4 L117.6,456.6 L118.6,456.7 L119.6,456.9 L120.6,457 L121.6,457 L122.6,457.1 L123.6,457.2 L124.6,457.3 L125.6,457.3 L126.6,457.4 L127.6,457.4 L128.6,457.4 L129.6,457.5 L130.6,457.5 L131.6,457.6 L132.6,457.6 L133.6,457.6 L134.6,457.6 L135.6,457.7 L136.6,457.7 L137.6,457.7 L138.6,457.7 L139.6,457.8 L140.6,457.8 L141.6,457.8 L142.6,457.8 L143.6,457.8 L144.6,457.8 L145.6,457.9 L146.6,457.9 L147.6,457.9 L148.6,457.9 L149.6,457.9 L150.6,457.9 L151.6,457.9 L152.6,458 L153.6,458 L154.6,458 L155.6,458 L156.6,458 L157.6,458 L158.6,458 L159.6,458 L160.6,458 L161.6,458 L162.6,458 L163.6,458 L164.6,458.1 L165.6,458.1 L166.6,458.1 L167.6,458.1 L168.6,458.1 L169.6,458.1 L170.6,458.1 L171.6,458.1 L172.6,458.1 L173.6,458.1 L174.6,458.1 L175.6,458.1 L176.6,458.1 L177.6,458.1 L178.6,458.1 L179.6,458.1 L180.6,458.1 L181.6,458.1 L182.6,458.1 L183.6,458.1 L184.6,458.1 L185.6,458.1 L186.6,458.1 L187.6,458.2 L188.6,458.2 L189.6,458.2 L190.6,458.2 L191.6,458.2 L192.6,458.2 L193.6,458.2 L194.6,458.2 L195.6,458.2 L196.6,458.2 L197.6,458.2 L198.6,458.2 L199.6,458.2 L200.6,458.2 L201.6,458.2 L202.6,458.2 L203.6,458.2 L204.6,458.2 L205.6,458.2 L206.6,458.2 L207.6,458.2 L208.6,458.2 L209.6,458.2 L210.6,458.2 L211.6,458.2 L212.6,458.2 L213.6,458.2 L214.6,458.2 L215.6,458.2 L216.6,458.2 L217.6,458.2 L218.6,458.2 L219.6,458.2 L220.6,458.2 L221.6,458.2 L222.6,458.2 L223.6,458.2 L224.6,458.2 L225.6,458.2 L226.6,458.2 L227.6,458.2 L228.6,458.2 L229.6,458.2 L230.6,458.2 L231.6,458.2 L232.6,458.2 L233.6,458.2 L234.6,458.2 L235.6,458.2 L236.6,458.2 L237.6,458.2 L238.6,458.2 L239.6,458.2 L240.6,458.2 L241.6,458.2 L242.6,458.2 L243.6,458.2 L244.6,458.2 L245.6,458.2 L246.6,458.2 L247.6,458.2 L248.6,458.2 L249.6,458.2 L250.6,458.2 L251.6,458.2 L252.6,458.2 L253.6,458.2 L254.6,458.2 L255.6,458.2 L256.6,458.2 L257.6,458.2 L258.6,458.2 L259.6,458.3 L260.6,458.3 L261.6,458.3 L262.6,458.3 L263.6,458.3 L264.6,458.3 L264.6,458.3 L22.6,458.3 Z" fill="url(#gr)" fill-opacity="1.0"/>
<path d="M22.6,458.2 L23.6,458.2 L24.6,458.2 L25.6,458.2 L26.6,458.2 L27.6,458.2 L28.6,458.2 L29.6,458.2 L30.6,458.2 L31.6,458.2 L32.6,458.2 L33.6,458.2 L34.6,458.2 L35.6,458.2 L36.6,458.2 L37.6,458.2 L38.6,458.2 L39.6,458.2 L40.6,458.2 L41.6,458.2 L42.6,458.2 L43.6,458.2 L44.6,458.2 L45.6,458.2 L46.6,458.2 L47.6,458.2 L48.6,458.2 L49.6,458.2 L50.6,458.2 L51.6,458.2 L52.6,458.2 L53.6,458.2 L54.6,458.2 L55.6,458.2 L56.6,458.2 L57.6,458.2 L58.6,458.2 L59.6,458.2 L60.6,458.2 L61.6,458.2 L62.6,458.2 L63.6,458.2 L64.6,458.2 L65.6,458.2 L66.6,458.1 L67.6,458.1 L68.6,458.1 L69.6,458.1 L70.6,458.1 L71.6,458.1 L72.6,458.1 L73.6,458.1 L74.6,458.1 L75.6,458.1 L76.6,458.1 L77.6,458.1 L78.6,458.1 L79.6,458 L80.6,458 L81.6,458 L82.6,458 L83.6,458 L84.6,458 L85.6,457.9 L86.6,457.9 L87.6,457.9 L88.6,457.8 L89.6,457.8 L90.6,457.7 L91.6,457.6 L92.6,457.6 L93.6,457.5 L94.6,457.4 L95.6,457.2 L96.6,457.1 L97.6,456.9 L98.6,456.7 L99.6,456.5 L100.6,456.3 L101.6,456 L102.6,455.7 L103.6,455.4 L104.6,455 L105.6,454.6 L106.6,454.2 L107.6,453.8 L108.6,453.3 L109.6,453.4 L110.6,454.1 L111.6,454.8 L112.6,455.2 L113.6,455.6 L114.6,456 L115.6,456.2 L116.6,456.4 L117.6,456.6 L118.6,456.7 L119.6,456.9 L120.6,457 L121.6,457 L122.6,457.1 L123.6,457.2 L124.6,457.3 L125.6,457.3 L126.6,457.4 L127.6,457.4 L128.6,457.4 L129.6,457.5 L130.6,457.5 L131.6,457.6 L132.6,457.6 L133.6,457.6 L134.6,457.6 L135.6,457.7 L136.6,457.7 L137.6,457.7 L138.6,457.7 L139.6,457.8 L140.6,457.8 L141.6,457.8 L142.6,457.8 L143.6,457.8 L144.6,457.8 L145.6,457.9 L146.6,457.9 L147.6,457.9 L148.6,457.9 L149.6,457.9 L150.6,457.9 L151.6,457.9 L152.6,458 L153.6,458 L154.6,458 L155.6,458 L156.6,458 L157.6,458 L158.6,458 L159.6,458 L160.6,458 L161.6,458 L162.6,458 L163.6,458 L164.6,458.1 L165.6,458.1 L166.6,458.1 L167.6,458.1 L168.6,458.1 L169.6,458.1 L170.6,458.1 L171.6,458.1 L172.6,458.1 L173.6,458.1 L174.6,458.1 L175.6,458.1 L176.6,458.1 L177.6,458.1 L178.6,458.1 L179.6,458.1 L180.6,458.1 L181.6,458.2 L182.6,458.2 L183.6,458.2 L184.6,458.2 L185.6,458.2 L186.6,458.2 L187.6,458.2 L188.6,458.2 L189.6,458.2 L190.6,458.2 L191.6,458.2 L192.6,458.2 L193.6,458.2 L194.6,458.2 L195.6,458.2 L196.6,458.2 L197.6,458.2 L198.6,458.2 L199.6,458.2 L200.6,458.2 L201.6,458.2 L202.6,458.2 L203.6,458.2 L204.6,458.2 L205.6,458.2 L206.6,458.2 L207.6,458.2 L208.6,458.2 L209.6,458.2 L210.6,458.2 L211.6,458.2 L212.6,458.2 L213.6,458.2 L214.6,458.2 L215.6,458.2 L216.6,458.2 L217.6,458.2 L218.6,458.2 L219.6,458.2 L220.6,458.2 L221.6,458.2 L222.6,458.2 L223.6,458.2 L224.6,458.2 L225.6,458.3 L226.6,458.3 L227.6,458.3 L228.6,458.3 L229.6,458.3 L230.6,458.3 L231.6,458.3 L232.6,458.3 L233.6,458.3 L234.6,458.3 L235.6,458.3 L236.6,458.3 L237.6,458.3 L238.6,458.3 L239.6,458.3 L240.6,458.3 L241.6,458.3 L242.6,458.3 L243.6,458.3 L244.6,458.3 L245.6,458.3 L246.6,458.3 L247.6,458.3 L248.6,458.3 L249.6,458.3 L250.6,458.3 L251.6,458.3 L252.6,458.3 L253.6,458.3 L254.6,458.3 L255.6,458.3 L256.6,458.3 L257.6,458.3 L258.6,458.3 L259.6,458.3 L260.6,458.3 L261.6,458.3 L262.6,458.3 L263.6,458.3 L264.6,458.3 L264.6,458.3 L22.6,458.3 Z" fill="#8e2f45" fill-opacity="0.45"/>
<line x1="22.6" y1="458.3" x2="264.6" y2="458.3" stroke="#f08890" stroke-width="0.8"/>
<polyline points="22.6,458.2 23.6,458.2 24.6,458.2 25.6,458.2 26.6,458.2 27.6,458.1 28.6,458.1 29.6,458.1 30.6,458.1 31.6,458.1 32.6,458.1 33.6,458.1 34.6,458 35.6,458 36.6,458 37.6,458 38.6,458 39.6,457.9 40.6,457.9 41.6,457.9 42.6,457.8 43.6,457.8 44.6,457.8 45.6,457.8 46.6,457.7 47.6,457.7 48.6,457.6 49.6,457.6 50.6,457.5 51.6,457.5 52.6,457.4 53.6,457.4 54.6,457.3 55.6,457.2 56.6,457.1 57.6,457 58.6,456.9 59.6,456.8 60.6,456.6 61.6,456.4 62.6,456.1 63.6,455.8 64.6,455.4 65.6,454.9 66.6,454.3 67.6,453.5 68.6,452.6 69.6,451.5 70.6,450.1 71.6,448.5 72.6,446.7 73.6,444.5 74.6,442.1 75.6,439.4 76.6,436.3 77.6,433.1 78.6,429.6 79.6,425.9 80.6,422.1 81.6,418.4 82.6,414.7 83.6,411.3 84.6,408.2 85.6,405.7 86.6,403.7 87.6,402.4 88.6,402 89.6,402.3 90.6,403.5 91.6,405.4 92.6,407.9 93.6,410.8 94.6,414.1 95.6,417.6 96.6,421.2 97.6,424.8 98.6,428.2 99.6,431.5 100.6,434.6 101.6,437.3 102.6,439.7 103.6,441.8 104.6,443.6 105.6,445.1 106.6,446.2 107.6,447.1 108.6,447.7 109.6,448.1 110.6,448.4 111.6,448.5 112.6,448.4 113.6,448.3 114.6,448.1 115.6,447.8 116.6,447.5 117.6,447.3 118.6,447 119.6,446.8 120.6,446.6 121.6,446.5 122.6,446.5 123.6,446.5 124.6,446.6 125.6,446.8 126.6,447.1 127.6,447.4 128.6,447.8 129.6,448.3 130.6,448.8 131.6,449.3 132.6,449.8 133.6,450.4 134.6,450.9 135.6,451.5 136.6,452 137.6,452.6 138.6,453.1 139.6,453.5 140.6,454 141.6,454.4 142.6,454.8 143.6,455.1 144.6,455.4 145.6,455.7 146.6,456 147.6,456.2 148.6,456.4 149.6,456.6 150.6,456.7 151.6,456.8 152.6,456.9 153.6,457 154.6,457 155.6,457.1 156.6,457.1 157.6,457.1 158.6,457.2 159.6,457.2 160.6,457.1 161.6,457.1 162.6,457.1 163.6,457.1 164.6,457.1 165.6,457 166.6,457 167.6,456.9 168.6,456.9 169.6,456.9 170.6,456.8 171.6,456.8 172.6,456.7 173.6,456.6 174.6,456.6 175.6,456.5 176.6,456.5 177.6,456.4 178.6,456.4 179.6,456.3 180.6,456.3 181.6,456.2 182.6,456.2 183.6,456.1 184.6,456.1 185.6,456.1 186.6,456 187.6,456 188.6,456 189.6,456 190.6,456 191.6,456 192.6,456 193.6,456 194.6,456 195.6,456 196.6,456 197.6,456 198.6,456.1 199.6,456.1 200.6,456.2 201.6,456.2 202.6,456.3 203.6,456.3 204.6,456.4 205.6,456.4 206.6,456.5 207.6,456.6 208.6,456.6 209.6,456.7 210.6,456.8 211.6,456.8 212.6,456.9 213.6,457 214.6,457 215.6,457.1 216.6,457.2 217.6,457.2 218.6,457.3 219.6,457.4 220.6,457.4 221.6,457.5 222.6,457.5 223.6,457.6 224.6,457.6 225.6,457.7 226.6,457.7 227.6,457.8 228.6,457.8 229.6,457.9 230.6,457.9 231.6,458 232.6,458 233.6,458 234.6,458.1 235.6,458.1 236.6,458.1 237.6,458.2 238.6,458.2 239.6,458.2 240.6,458.2 241.6,458.2 242.6,458.3 243.6,458.3 244.6,458.3 245.6,458.3 246.6,458.3 247.6,458.3 248.6,458.4 249.6,458.4 250.6,458.4 251.6,458.4 252.6,458.4 253.6,458.4 254.6,458.4 255.6,458.4 256.6,458.4 257.6,458.4 258.6,458.4 259.6,458.4 260.6,458.4 261.6,458.4 262.6,458.4 263.6,458.5 264.6,458.5" fill="none" stroke="#a8def2" stroke-width="0.9" stroke-linejoin="round" stroke-dasharray="1,1.3"/>
<path d="M22.6,537.3 L23.6,537.3 L24.6,537.3 L25.6,537.3 L26.6,537.3 L27.6,537.3 L28.6,537.3 L29.6,537.3 L30.6,537.3 L31.6,537.3 L32.6,537.3 L33.6,537.3 L34.6,537.3 L35.6,537.3 L36.6,537.3 L37.6,537.3 L38.6,537.3 L39.6,537.3 L40.6,537.3 L41.6,537.3 L42.6,537.3 L43.6,537.3 L44.6,537.3 L45.6,537.3 L46.6,537.3 L47.6,537.3 L48.6,537.3 L49.6,537.3 L50.6,537.3 L51.6,537.3 L52.6,537.3 L53.6,537.3 L54.6,537.3 L55.6,537.3 L56.6,537.3 L57.6,537.3 L58.6,537.3 L59.6,537.3 L60.6,537.3 L61.6,537.3 L62.6,537.3 L63.6,537.3 L64.6,537.3 L65.6,537.3 L66.6,537.3 L67.6,537.3 L68.6,537.3 L69.6,537.3 L70.6,537.3 L71.6,537.3 L72.6,537.3 L73.6,537.3 L74.6,537.3 L75.6,537.3 L76.6,537.3 L77.6,537.3 L78.6,537.3 L79.6,537.3 L80.6,537.3 L81.6,537.3 L82.6,537.3 L83.6,537.3 L84.6,537.3 L85.6,537.3 L86.6,537.3 L87.6,537.3 L88.6,537.3 L89.6,537.3 L90.6,537.3 L91.6,537.3 L92.6,537.3 L93.6,537.3 L94.6,537.3 L95.6,537.3 L96.6,537.3 L97.6,537.3 L98.6,537.3 L99.6,537.3 L100.6,537.3 L101.6,537.3 L102.6,537.3 L103.6,537.3 L104.6,537.3 L105.6,537.3 L106.6,537.3 L107.6,537.3 L108.6,537.3 L109.6,537.3 L110.6,537.3 L111.6,537.3 L112.6,537.3 L113.6,537.3 L114.6,537.3 L115.6,537.3 L116.6,537.3 L117.6,537.3 L118.6,537.3 L119.6,537.2 L120.6,537.2 L121.6,537.2 L122.6,537.2 L123.6,537.2 L124.6,537.2 L125.6,537.2 L126.6,537.2 L127.6,537.2 L128.6,537.2 L129.6,537.2 L130.6,537.2 L131.6,537.2 L132.6,537.2 L133.6,537.2 L134.6,537.2 L135.6,537.2 L136.6,537.2 L137.6,537.2 L138.6,537.2 L139.6,537.2 L140.6,537.2 L141.6,537.1 L142.6,537.1 L143.6,537.1 L144.6,537.1 L145.6,537.1 L146.6,537.1 L147.6,537.1 L148.6,537 L149.6,537 L150.6,537 L151.6,537 L152.6,537 L153.6,536.9 L154.6,536.9 L155.6,536.9 L156.6,536.8 L157.6,536.8 L158.6,536.8 L159.6,536.7 L160.6,536.7 L161.6,536.7 L162.6,536.6 L163.6,536.6 L164.6,536.6 L165.6,536.5 L166.6,536.5 L167.6,536.4 L168.6,536.4 L169.6,536.3 L170.6,536.3 L171.6,536.2 L172.6,536.2 L173.6,536.1 L174.6,536.1 L175.6,536 L176.6,536 L177.6,535.9 L178.6,535.9 L179.6,535.8 L180.6,535.8 L181.6,535.8 L182.6,535.7 L183.6,535.7 L184.6,535.6 L185.6,535.6 L186.6,535.6 L187.6,535.6 L188.6,535.5 L189.6,535.5 L190.6,535.5 L191.6,535.5 L192.6,535.5 L193.6,535.5 L194.6,535.5 L195.6,535.5 L196.6,535.5 L197.6,535.5 L198.6,535.6 L199.6,535.6 L200.6,535.6 L201.6,535.7 L202.6,535.7 L203.6,535.7 L204.6,535.8 L205.6,535.8 L206.6,535.9 L207.6,535.9 L208.6,535.9 L209.6,536 L210.6,536 L211.6,536.1 L212.6,536.1 L213.6,536.2 L214.6,536.2 L215.6,536.3 L216.6,536.3 L217.6,536.4 L218.6,536.4 L219.6,536.5 L220.6,536.5 L221.6,536.6 L222.6,536.6 L223.6,536.6 L224.6,536.7 L225.6,536.7 L226.6,536.8 L227.6,536.8 L228.6,536.8 L229.6,536.9 L230.6,536.9 L231.6,536.9 L232.6,536.9 L233.6,537 L234.6,537 L235.6,537 L236.6,537 L237.6,537 L238.6,537.1 L239.6,537.1 L240.6,537.1 L241.6,537.1 L242.6,537.1 L243.6,537.1 L244.6,537.1 L245.6,537.2 L246.6,537.2 L247.6,537.2 L248.6,537.2 L249.6,537.2 L250.6,537.2 L251.6,537.2 L252.6,537.2 L253.6,537.2 L254.6,537.2 L255.6,537.2 L256.6,537.2 L257.6,537.2 L258.6,537.2 L259.6,537.2 L260.6,537.2 L261.6,537.2 L262.6,537.2 L263.6,537.2 L264.6,537.2 L264.6,537.3 L22.6,537.3 Z" fill="url(#go)" />
<path d="M22.6,537.2 L23.6,537.2 L24.6,537.2 L25.6,537.2 L26.6,537.2 L27.6,537.2 L28.6,537.2 L29.6,537.2 L30.6,537.2 L31.6,537.2 L32.6,537.2 L33.6,537.2 L34.6,537.2 L35.6,537.2 L36.6,537.2 L37.6,537.2 L38.6,537.2 L39.6,537.2 L40.6,537.2 L41.6,537.2 L42.6,537.2 L43.6,537.2 L44.6,537.1 L45.6,537.1 L46.6,537.1 L47.6,537.1 L48.6,537.1 L49.6,537.1 L50.6,537.1 L51.6,537.1 L52.6,537.1 L53.6,537.1 L54.6,537.1 L55.6,537.1 L56.6,537.1 L57.6,537.1 L58.6,537.1 L59.6,537.1 L60.6,537 L61.6,537 L62.6,537 L63.6,537 L64.6,537 L65.6,537 L66.6,537 L67.6,537 L68.6,536.9 L69.6,536.9 L70.6,536.9 L71.6,536.9 L72.6,536.9 L73.6,536.8 L74.6,536.8 L75.6,536.8 L76.6,536.7 L77.6,536.7 L78.6,536.6 L79.6,536.5 L80.6,536.5 L81.6,536.4 L82.6,536.2 L83.6,536.1 L84.6,535.9 L85.6,535.8 L86.6,535.5 L87.6,535.3 L88.6,535 L89.6,534.7 L90.6,534.3 L91.6,533.9 L92.6,533.4 L93.6,532.9 L94.6,532.3 L95.6,531.7 L96.6,531 L97.6,530.3 L98.6,529.5 L99.6,528.7 L100.6,527.9 L101.6,527 L102.6,526.2 L103.6,525.4 L104.6,524.6 L105.6,523.8 L106.6,523.1 L107.6,522.4 L108.6,521.9 L109.6,521.4 L110.6,521.1 L111.6,520.9 L112.6,520.9 L113.6,521 L114.6,521.2 L115.6,521.6 L116.6,522.1 L117.6,522.7 L118.6,523.4 L119.6,524.1 L120.6,524.9 L121.6,525.7 L122.6,526.5 L123.6,527.4 L124.6,528.2 L125.6,529 L126.6,529.8 L127.6,530.5 L128.6,531.3 L129.6,531.9 L130.6,532.5 L131.6,533.1 L132.6,533.6 L133.6,534 L134.6,534.4 L135.6,534.8 L136.6,535.1 L137.6,535.4 L138.6,535.6 L139.6,535.8 L140.6,536 L141.6,536.2 L142.6,536.3 L143.6,536.4 L144.6,536.5 L145.6,536.6 L146.6,536.6 L147.6,536.7 L148.6,536.7 L149.6,536.8 L150.6,536.8 L151.6,536.8 L152.6,536.9 L153.6,536.9 L154.6,536.9 L155.6,536.9 L156.6,537 L157.6,537 L158.6,537 L159.6,537 L160.6,537 L161.6,537 L162.6,537 L163.6,537 L164.6,537 L165.6,537.1 L166.6,537.1 L167.6,537.1 L168.6,537.1 L169.6,537.1 L170.6,537.1 L171.6,537.1 L172.6,537.1 L173.6,537.1 L174.6,537.1 L175.6,537.1 L176.6,537.1 L177.6,537.1 L178.6,537.1 L179.6,537.1 L180.6,537.1 L181.6,537.2 L182.6,537.2 L183.6,537.2 L184.6,537.2 L185.6,537.2 L186.6,537.2 L187.6,537.2 L188.6,537.2 L189.6,537.2 L190.6,537.2 L191.6,537.2 L192.6,537.2 L193.6,537.2 L194.6,537.2 L195.6,537.2 L196.6,537.2 L197.6,537.2 L198.6,537.2 L199.6,537.2 L200.6,537.2 L201.6,537.2 L202.6,537.2 L203.6,537.2 L204.6,537.2 L205.6,537.2 L206.6,537.2 L207.6,537.2 L208.6,537.2 L209.6,537.2 L210.6,537.2 L211.6,537.2 L212.6,537.2 L213.6,537.2 L214.6,537.2 L215.6,537.2 L216.6,537.2 L217.6,537.2 L218.6,537.2 L219.6,537.2 L220.6,537.2 L221.6,537.2 L222.6,537.2 L223.6,537.2 L224.6,537.2 L225.6,537.2 L226.6,537.2 L227.6,537.2 L228.6,537.2 L229.6,537.2 L230.6,537.2 L231.6,537.2 L232.6,537.3 L233.6,537.3 L234.6,537.3 L235.6,537.3 L236.6,537.3 L237.6,537.3 L238.6,537.3 L239.6,537.3 L240.6,537.3 L241.6,537.3 L242.6,537.3 L243.6,537.3 L244.6,537.3 L245.6,537.3 L246.6,537.3 L247.6,537.3 L248.6,537.3 L249.6,537.3 L250.6,537.3 L251.6,537.3 L252.6,537.3 L253.6,537.3 L254.6,537.3 L255.6,537.3 L256.6,537.3 L257.6,537.3 L258.6,537.3 L259.6,537.3 L260.6,537.3 L261.6,537.3 L262.6,537.3 L263.6,537.3 L264.6,537.3 L264.6,537.3 L22.6,537.3 Z" fill="url(#gb)" fill-opacity="1.0"/>
<path d="M22.6,536.8 L23.6,536.8 L24.6,536.8 L25.6,536.8 L26.6,536.7 L27.6,536.7 L28.6,536.7 L29.6,536.7 L30.6,536.6 L31.6,536.6 L32.6,536.6 L33.6,536.6 L34.6,536.5 L35.6,536.5 L36.6,536.5 L37.6,536.4 L38.6,536.4 L39.6,536.4 L40.6,536.3 L41.6,536.3 L42.6,536.2 L43.6,536.2 L44.6,536.1 L45.6,536 L46.6,536 L47.6,535.9 L48.6,535.8 L49.6,535.7 L50.6,535.5 L51.6,535.4 L52.6,535.2 L53.6,534.9 L54.6,534.7 L55.6,534.3 L56.6,533.9 L57.6,533.4 L58.6,532.7 L59.6,532 L60.6,531.1 L61.6,530 L62.6,528.7 L63.6,527.2 L64.6,525.4 L65.6,523.4 L66.6,521.1 L67.6,518.5 L68.6,515.7 L69.6,512.6 L70.6,509.2 L71.6,505.7 L72.6,502.1 L73.6,498.3 L74.6,494.6 L75.6,491 L76.6,487.5 L77.6,484.4 L78.6,481.7 L79.6,479.5 L80.6,478 L81.6,477.1 L82.6,477.1 L83.6,477.7 L84.6,479.2 L85.6,481.2 L86.6,483.8 L87.6,486.9 L88.6,490.3 L89.6,493.9 L90.6,497.6 L91.6,501.3 L92.6,505 L93.6,508.6 L94.6,511.9 L95.6,515.1 L96.6,518 L97.6,520.6 L98.6,522.9 L99.6,525 L100.6,526.8 L101.6,528.4 L102.6,529.7 L103.6,530.9 L104.6,531.8 L105.6,532.6 L106.6,533.3 L107.6,533.8 L108.6,534.2 L109.6,534.6 L110.6,534.9 L111.6,535.1 L112.6,535.3 L113.6,535.5 L114.6,535.6 L115.6,535.7 L116.6,535.9 L117.6,535.9 L118.6,536 L119.6,536.1 L120.6,536.1 L121.6,536.2 L122.6,536.3 L123.6,536.3 L124.6,536.3 L125.6,536.4 L126.6,536.4 L127.6,536.5 L128.6,536.5 L129.6,536.5 L130.6,536.6 L131.6,536.6 L132.6,536.6 L133.6,536.6 L134.6,536.7 L135.6,536.7 L136.6,536.7 L137.6,536.7 L138.6,536.7 L139.6,536.8 L140.6,536.8 L141.6,536.8 L142.6,536.8 L143.6,536.8 L144.6,536.8 L145.6,536.9 L146.6,536.9 L147.6,536.9 L148.6,536.9 L149.6,536.9 L150.6,536.9 L151.6,536.9 L152.6,536.9 L153.6,537 L154.6,537 L155.6,537 L156.6,537 L157.6,537 L158.6,537 L159.6,537 L160.6,537 L161.6,537 L162.6,537 L163.6,537 L164.6,537 L165.6,537 L166.6,537 L167.6,537.1 L168.6,537.1 L169.6,537.1 L170.6,537.1 L171.6,537.1 L172.6,537.1 L173.6,537.1 L174.6,537.1 L175.6,537.1 L176.6,537.1 L177.6,537.1 L178.6,537.1 L179.6,537.1 L180.6,537.1 L181.6,537.1 L182.6,537.1 L183.6,537.1 L184.6,537.1 L185.6,537.1 L186.6,537.1 L187.6,537.1 L188.6,537.1 L189.6,537.1 L190.6,537.1 L191.6,537.1 L192.6,537.2 L193.6,537.2 L194.6,537.2 L195.6,537.2 L196.6,537.2 L197.6,537.2 L198.6,537.2 L199.6,537.2 L200.6,537.2 L201.6,537.2 L202.6,537.2 L203.6,537.2 L204.6,537.2 L205.6,537.2 L206.6,537.2 L207.6,537.2 L208.6,537.2 L209.6,537.2 L210.6,537.2 L211.6,537.2 L212.6,537.2 L213.6,537.2 L214.6,537.2 L215.6,537.2 L216.6,537.2 L217.6,537.2 L218.6,537.2 L219.6,537.2 L220.6,537.2 L221.6,537.2 L222.6,537.2 L223.6,537.2 L224.6,537.2 L225.6,537.2 L226.6,537.2 L227.6,537.2 L228.6,537.2 L229.6,537.2 L230.6,537.2 L231.6,537.2 L232.6,537.2 L233.6,537.2 L234.6,537.2 L235.6,537.2 L236.6,537.2 L237.6,537.2 L238.6,537.2 L239.6,537.2 L240.6,537.2 L241.6,537.2 L242.6,537.2 L243.6,537.2 L244.6,537.2 L245.6,537.2 L246.6,537.2 L247.6,537.2 L248.6,537.2 L249.6,537.2 L250.6,537.2 L251.6,537.2 L252.6,537.2 L253.6,537.2 L254.6,537.2 L255.6,537.2 L256.6,537.2 L257.6,537.2 L258.6,537.2 L259.6,537.2 L260.6,537.2 L261.6,537.2 L262.6,537.2 L263.6,537.2 L264.6,537.2 L264.6,537.3 L22.6,537.3 Z" fill="url(#gr)" fill-opacity="1.0"/>
<path d="M22.6,537.2 L23.6,537.2 L24.6,537.2 L25.6,537.2 L26.6,537.2 L27.6,537.2 L28.6,537.2 L29.6,537.2 L30.6,537.2 L31.6,537.2 L32.6,537.2 L33.6,537.2 L34.6,537.2 L35.6,537.2 L36.6,537.2 L37.6,537.2 L38.6,537.2 L39.6,537.2 L40.6,537.2 L41.6,537.2 L42.6,537.2 L43.6,537.2 L44.6,537.1 L45.6,537.1 L46.6,537.1 L47.6,537.1 L48.6,537.1 L49.6,537.1 L50.6,537.1 L51.6,537.1 L52.6,537.1 L53.6,537.1 L54.6,537.1 L55.6,537.1 L56.6,537.1 L57.6,537.1 L58.6,537.1 L59.6,537.1 L60.6,537 L61.6,537 L62.6,537 L63.6,537 L64.6,537 L65.6,537 L66.6,537 L67.6,537 L68.6,536.9 L69.6,536.9 L70.6,536.9 L71.6,536.9 L72.6,536.9 L73.6,536.8 L74.6,536.8 L75.6,536.8 L76.6,536.7 L77.6,536.7 L78.6,536.6 L79.6,536.5 L80.6,536.5 L81.6,536.4 L82.6,536.2 L83.6,536.1 L84.6,535.9 L85.6,535.8 L86.6,535.5 L87.6,535.3 L88.6,535 L89.6,534.7 L90.6,534.3 L91.6,533.9 L92.6,533.4 L93.6,532.9 L94.6,532.3 L95.6,531.7 L96.6,531 L97.6,530.3 L98.6,529.5 L99.6,528.7 L100.6,527.9 L101.6,528.4 L102.6,529.7 L103.6,530.9 L104.6,531.8 L105.6,532.6 L106.6,533.3 L107.6,533.8 L108.6,534.2 L109.6,534.6 L110.6,534.9 L111.6,535.1 L112.6,535.3 L113.6,535.5 L114.6,535.6 L115.6,535.7 L116.6,535.9 L117.6,535.9 L118.6,536 L119.6,536.1 L120.6,536.1 L121.6,536.2 L122.6,536.3 L123.6,536.3 L124.6,536.3 L125.6,536.4 L126.6,536.4 L127.6,536.5 L128.6,536.5 L129.6,536.5 L130.6,536.6 L131.6,536.6 L132.6,536.6 L133.6,536.6 L134.6,536.7 L135.6,536.7 L136.6,536.7 L137.6,536.7 L138.6,536.7 L139.6,536.8 L140.6,536.8 L141.6,536.8 L142.6,536.8 L143.6,536.8 L144.6,536.8 L145.6,536.9 L146.6,536.9 L147.6,536.9 L148.6,536.9 L149.6,536.9 L150.6,536.9 L151.6,536.9 L152.6,536.9 L153.6,537 L154.6,537 L155.6,537 L156.6,537 L157.6,537 L158.6,537 L159.6,537 L160.6,537 L161.6,537 L162.6,537 L163.6,537 L164.6,537 L165.6,537.1 L166.6,537.1 L167.6,537.1 L168.6,537.1 L169.6,537.1 L170.6,537.1 L171.6,537.1 L172.6,537.1 L173.6,537.1 L174.6,537.1 L175.6,537.1 L176.6,537.1 L177.6,537.1 L178.6,537.1 L179.6,537.1 L180.6,537.1 L181.6,537.2 L182.6,537.2 L183.6,537.2 L184.6,537.2 L185.6,537.2 L186.6,537.2 L187.6,537.2 L188.6,537.2 L189.6,537.2 L190.6,537.2 L191.6,537.2 L192.6,537.2 L193.6,537.2 L194.6,537.2 L195.6,537.2 L196.6,537.2 L197.6,537.2 L198.6,537.2 L199.6,537.2 L200.6,537.2 L201.6,537.2 L202.6,537.2 L203.6,537.2 L204.6,537.2 L205.6,537.2 L206.6,537.2 L207.6,537.2 L208.6,537.2 L209.6,537.2 L210.6,537.2 L211.6,537.2 L212.6,537.2 L213.6,537.2 L214.6,537.2 L215.6,537.2 L216.6,537.2 L217.6,537.2 L218.6,537.2 L219.6,537.2 L220.6,537.2 L221.6,537.2 L222.6,537.2 L223.6,537.2 L224.6,537.2 L225.6,537.2 L226.6,537.2 L227.6,537.2 L228.6,537.2 L229.6,537.2 L230.6,537.2 L231.6,537.2 L232.6,537.3 L233.6,537.3 L234.6,537.3 L235.6,537.3 L236.6,537.3 L237.6,537.3 L238.6,537.3 L239.6,537.3 L240.6,537.3 L241.6,537.3 L242.6,537.3 L243.6,537.3 L244.6,537.3 L245.6,537.3 L246.6,537.3 L247.6,537.3 L248.6,537.3 L249.6,537.3 L250.6,537.3 L251.6,537.3 L252.6,537.3 L253.6,537.3 L254.6,537.3 L255.6,537.3 L256.6,537.3 L257.6,537.3 L258.6,537.3 L259.6,537.3 L260.6,537.3 L261.6,537.3 L262.6,537.3 L263.6,537.3 L264.6,537.3 L264.6,537.3 L22.6,537.3 Z" fill="#8e2f45" fill-opacity="0.45"/>
<line x1="22.6" y1="537.3" x2="264.6" y2="537.3" stroke="#f08890" stroke-width="0.8"/>
<polyline points="22.6,537 23.6,537 24.6,537 25.6,536.9 26.6,536.9 27.6,536.9 28.6,536.9 29.6,536.9 30.6,536.8 31.6,536.8 32.6,536.8 33.6,536.7 34.6,536.7 35.6,536.7 36.6,536.6 37.6,536.6 38.6,536.6 39.6,536.5 40.6,536.5 41.6,536.4 42.6,536.4 43.6,536.3 44.6,536.2 45.6,536.2 46.6,536.1 47.6,536 48.6,535.9 49.6,535.8 50.6,535.6 51.6,535.5 52.6,535.3 53.6,535 54.6,534.7 55.6,534.4 56.6,534 57.6,533.4 58.6,532.8 59.6,532 60.6,531.1 61.6,530 62.6,528.7 63.6,527.2 64.6,525.4 65.6,523.3 66.6,521 67.6,518.4 68.6,515.6 69.6,512.5 70.6,509.1 71.6,505.6 72.6,501.9 73.6,498.2 74.6,494.4 75.6,490.7 76.6,487.2 77.6,484.1 78.6,481.3 79.6,479 80.6,477.4 81.6,476.5 82.6,476.3 83.6,476.8 84.6,478.1 85.6,479.9 86.6,482.3 87.6,485.1 88.6,488.2 89.6,491.5 90.6,494.8 91.6,498.2 92.6,501.4 93.6,504.4 94.6,507.2 95.6,509.7 96.6,511.9 97.6,513.8 98.6,515.4 99.6,516.7 100.6,517.7 101.6,518.4 102.6,518.9 103.6,519.2 104.6,519.3 105.6,519.4 106.6,519.3 107.6,519.2 108.6,519.1 109.6,519 110.6,519 111.6,519 112.6,519.2 113.6,519.5 114.6,519.8 115.6,520.3 116.6,520.9 117.6,521.6 118.6,522.3 119.6,523.1 120.6,524 121.6,524.8 122.6,525.7 123.6,526.6 124.6,527.5 125.6,528.3 126.6,529.2 127.6,529.9 128.6,530.7 129.6,531.4 130.6,532 131.6,532.6 132.6,533.1 133.6,533.6 134.6,534 135.6,534.4 136.6,534.7 137.6,535 138.6,535.2 139.6,535.5 140.6,535.6 141.6,535.8 142.6,535.9 143.6,536 144.6,536.1 145.6,536.2 146.6,536.3 147.6,536.3 148.6,536.4 149.6,536.4 150.6,536.4 151.6,536.5 152.6,536.5 153.6,536.5 154.6,536.5 155.6,536.5 156.6,536.5 157.6,536.5 158.6,536.5 159.6,536.4 160.6,536.4 161.6,536.4 162.6,536.4 163.6,536.4 164.6,536.3 165.6,536.3 166.6,536.3 167.6,536.2 168.6,536.2 169.6,536.2 170.6,536.1 171.6,536.1 172.6,536.1 173.6,536 174.6,536 175.6,536 176.6,535.9 177.6,535.9 178.6,535.8 179.6,535.8 180.6,535.8 181.6,535.7 182.6,535.7 183.6,535.7 184.6,535.6 185.6,535.6 186.6,535.6 187.6,535.6 188.6,535.6 189.6,535.6 190.6,535.5 191.6,535.5 192.6,535.5 193.6,535.5 194.6,535.6 195.6,535.6 196.6,535.6 197.6,535.6 198.6,535.6 199.6,535.7 200.6,535.7 201.6,535.7 202.6,535.8 203.6,535.8 204.6,535.9 205.6,535.9 206.6,536 207.6,536 208.6,536.1 209.6,536.1 210.6,536.2 211.6,536.2 212.6,536.3 213.6,536.3 214.6,536.4 215.6,536.4 216.6,536.5 217.6,536.5 218.6,536.6 219.6,536.6 220.6,536.7 221.6,536.7 222.6,536.8 223.6,536.8 224.6,536.8 225.6,536.9 226.6,536.9 227.6,536.9 228.6,537 229.6,537 230.6,537 231.6,537.1 232.6,537.1 233.6,537.1 234.6,537.2 235.6,537.2 236.6,537.2 237.6,537.2 238.6,537.2 239.6,537.3 240.6,537.3 241.6,537.3 242.6,537.3 243.6,537.3 244.6,537.3 245.6,537.3 246.6,537.4 247.6,537.4 248.6,537.4 249.6,537.4 250.6,537.4 251.6,537.4 252.6,537.4 253.6,537.4 254.6,537.4 255.6,537.4 256.6,537.4 257.6,537.4 258.6,537.4 259.6,537.4 260.6,537.4 261.6,537.5 262.6,537.5 263.6,537.5 264.6,537.5" fill="none" stroke="#a8def2" stroke-width="0.9" stroke-linejoin="round" stroke-dasharray="1,1.3"/>
<line x1="88.6" y1="403" x2="88.6" y2="538" stroke="#404040" stroke-width="1.2" stroke-dasharray="4.2,3.8"/>
<line x1="122.4" y1="448" x2="122.4" y2="538" stroke="#404040" stroke-width="1.2" stroke-dasharray="4.2,3.8"/>
<line x1="193.1" y1="454" x2="193.1" y2="534" stroke="#404040" stroke-width="1.2" stroke-dasharray="4.2,3.8"/>
<rect x="22.6" y="392.3" width="242" height="153.1" fill="none" stroke="#383838" stroke-width="1.4"/>
<line x1="22.6" y1="468.3" x2="264.6" y2="468.3" stroke="#383838" stroke-width="1.3"/>
<line x1="39.9" y1="545.4" x2="39.9" y2="542.4" stroke="#383838" stroke-width="1.1"/>
<line x1="74.5" y1="545.4" x2="74.5" y2="542.4" stroke="#383838" stroke-width="1.1"/>
<line x1="109" y1="545.4" x2="109" y2="542.4" stroke="#383838" stroke-width="1.1"/>
<line x1="143.6" y1="545.4" x2="143.6" y2="542.4" stroke="#383838" stroke-width="1.1"/>
<line x1="178.2" y1="545.4" x2="178.2" y2="542.4" stroke="#383838" stroke-width="1.1"/>
<line x1="212.7" y1="545.4" x2="212.7" y2="542.4" stroke="#383838" stroke-width="1.1"/>
<line x1="247.3" y1="545.4" x2="247.3" y2="542.4" stroke="#383838" stroke-width="1.1"/>
<line x1="57.2" y1="545.4" x2="57.2" y2="543.6" stroke="#383838" stroke-width="1"/>
<line x1="91.7" y1="545.4" x2="91.7" y2="543.6" stroke="#383838" stroke-width="1"/>
<line x1="126.3" y1="545.4" x2="126.3" y2="543.6" stroke="#383838" stroke-width="1"/>
<line x1="160.9" y1="545.4" x2="160.9" y2="543.6" stroke="#383838" stroke-width="1"/>
<line x1="195.5" y1="545.4" x2="195.5" y2="543.6" stroke="#383838" stroke-width="1"/>
<line x1="230" y1="545.4" x2="230" y2="543.6" stroke="#383838" stroke-width="1"/>
<text transform="translate(39.9,556) scale(1,0.92)" font-size="8.5" text-anchor="middle" >396</text>
<text transform="translate(74.5,556) scale(1,0.92)" font-size="8.5" text-anchor="middle" >398</text>
<text transform="translate(109,556) scale(1,0.92)" font-size="8.5" text-anchor="middle" >400</text>
<text transform="translate(143.6,556) scale(1,0.92)" font-size="8.5" text-anchor="middle" >402</text>
<text transform="translate(178.2,556) scale(1,0.92)" font-size="8.5" text-anchor="middle" >404</text>
<text transform="translate(212.7,556) scale(1,0.92)" font-size="8.5" text-anchor="middle" >406</text>
<text transform="translate(247.3,556) scale(1,0.92)" font-size="8.5" text-anchor="middle" >408</text>
<text transform="translate(6.3,403) scale(1,1.1)" font-size="10.8" text-anchor="start" textLength="11.3" lengthAdjust="spacingAndGlyphs" >(c)</text>
<text transform="translate(26.4,403.9) scale(1,1.1)" font-size="8.4" text-anchor="start" >N 1s</text>
<text transform="translate(97.6,404.4) scale(1,1.1)" font-size="8.6" text-anchor="start" textLength="26.7" lengthAdjust="spacingAndGlyphs" >C-N=C</text>
<line x1="98.5" y1="404.5" x2="93.2" y2="407.8" stroke="#222" stroke-width="0.8"/>
<path d="M90.5,409.5 L92.4,406.4 L94.1,409.2 Z" fill="#222"/>
<text transform="translate(125.5,444.9) scale(1,1.1)" font-size="8.6" text-anchor="start" >N-(C)<tspan font-size="5.5" dy="2">3</tspan></text>
<line x1="127" y1="444.5" x2="126.4" y2="445.4" stroke="#222" stroke-width="0.8"/>
<path d="M124.5,448 L125.1,444.5 L127.7,446.3 Z" fill="#222"/>
<text transform="translate(186,447.8) scale(1,1.1)" font-size="8.6" text-anchor="start" >C-NH<tspan font-size="5.5" dy="2">x</tspan></text>
<line x1="195.5" y1="449" x2="194.7" y2="451" stroke="#222" stroke-width="0.8"/>
<path d="M193.5,454 L193.2,450.4 L196.2,451.6 Z" fill="#222"/>
<text transform="translate(232.7,402.8) scale(1,1.1)" font-size="8.6" text-anchor="start" textLength="17.3" lengthAdjust="spacingAndGlyphs" >PCN</text>
<text transform="translate(27,480.9) scale(1,1.1)" font-size="8.4" text-anchor="start" >N 1s</text>
<text transform="translate(203.6,480.3) scale(1,1.1)" font-size="8.6" text-anchor="start" textLength="52.9" lengthAdjust="spacingAndGlyphs" >PCN/BiOCl-0</text>
<text transform="translate(95.8,572.1) scale(1,1.03)" font-size="10.6" text-anchor="start" textLength="96.2" lengthAdjust="spacing" >Binding Energy (eV)</text>
<text transform="translate(15,471.5) rotate(-90)" font-size="11.8" text-anchor="middle" textLength="65.5" lengthAdjust="spacingAndGlyphs">Intensity (a.u.)</text>
<path d="M299.1,73.5 L300.1,73.5 L301.1,73.5 L302.1,73.5 L303.1,73.5 L304.1,73.5 L305.1,73.4 L306.1,73.4 L307.1,73.4 L308.1,73.4 L309.1,73.4 L310.1,73.4 L311.1,73.4 L312.1,73.4 L313.1,73.4 L314.1,73.4 L315.1,73.4 L316.1,73.4 L317.1,73.3 L318.1,73.3 L319.1,73.3 L320.1,73.3 L321.1,73.3 L322.1,73.3 L323.1,73.3 L324.1,73.3 L325.1,73.3 L326.1,73.3 L327.1,73.3 L328.1,73.3 L329.1,73.2 L330.1,73.2 L331.1,73.2 L332.1,73.2 L333.1,73.2 L334.1,73.2 L335.1,73.2 L336.1,73.2 L337.1,73.2 L338.1,73.2 L339.1,73.2 L340.1,73.2 L341.1,73.1 L342.1,73.1 L343.1,73.1 L344.1,73.1 L345.1,73.1 L346.1,73.1 L347.1,73.1 L348.1,73.1 L349.1,73.1 L350.1,73.1 L351.1,73.1 L352.1,73.1 L353.1,73 L354.1,73 L355.1,73 L356.1,73 L357.1,73 L358.1,73 L359.1,73 L360.1,73 L361.1,73 L362.1,73 L363.1,73 L364.1,73 L365.1,72.9 L366.1,72.9 L367.1,72.9 L368.1,72.9 L369.1,72.9 L370.1,72.9 L371.1,72.9 L372.1,72.9 L373.1,72.9 L374.1,72.9 L375.1,72.8 L376.1,72.8 L377.1,72.8 L378.1,72.8 L379.1,72.8 L380.1,72.8 L381.1,72.8 L382.1,72.8 L383.1,72.8 L384.1,72.8 L385.1,72.8 L386.1,72.7 L387.1,72.7 L388.1,72.7 L389.1,72.7 L390.1,72.7 L391.1,72.7 L392.1,72.7 L393.1,72.7 L394.1,72.7 L395.1,72.6 L396.1,72.6 L397.1,72.6 L398.1,72.6 L399.1,72.6 L400.1,72.6 L401.1,72.6 L402.1,72.6 L403.1,72.5 L404.1,72.5 L405.1,72.5 L406.1,72.5 L407.1,72.5 L408.1,72.5 L409.1,72.5 L410.1,72.4 L411.1,72.4 L412.1,72.4 L413.1,72.4 L414.1,72.4 L415.1,72.4 L416.1,72.4 L417.1,72.3 L418.1,72.3 L419.1,72.3 L420.1,72.3 L421.1,72.3 L422.1,72.2 L423.1,72.2 L424.1,72.2 L425.1,72.2 L426.1,72.2 L427.1,72.1 L428.1,72.1 L429.1,72.1 L430.1,72.1 L431.1,72 L432.1,72 L433.1,72 L434.1,71.9 L435.1,71.9 L436.1,71.9 L437.1,71.8 L438.1,71.8 L439.1,71.7 L440.1,71.7 L441.1,71.6 L442.1,71.6 L443.1,71.5 L444.1,71.5 L445.1,71.4 L446.1,71.3 L447.1,71.2 L448.1,71.1 L449.1,71 L450.1,70.8 L451.1,70.6 L452.1,70.4 L453.1,70.1 L454.1,69.7 L455.1,69.2 L456.1,68.6 L457.1,67.9 L458.1,67 L459.1,65.9 L460.1,64.6 L461.1,63.1 L462.1,61.3 L463.1,59.2 L464.1,56.9 L465.1,54.3 L466.1,51.4 L467.1,48.4 L468.1,45.2 L469.1,41.9 L470.1,38.7 L471.1,35.5 L472.1,32.6 L473.1,30.1 L474.1,28 L475.1,26.5 L476.1,25.8 L477.1,25.8 L478.1,26.5 L479.1,28 L480.1,30 L481.1,32.6 L482.1,35.4 L483.1,38.6 L484.1,41.8 L485.1,45.1 L486.1,48.3 L487.1,51.3 L488.1,54.1 L489.1,56.7 L490.1,59 L491.1,61.1 L492.1,62.9 L493.1,64.4 L494.1,65.7 L495.1,66.7 L496.1,67.6 L497.1,68.3 L498.1,68.9 L499.1,69.4 L500.1,69.7 L501.1,70 L502.1,70.2 L503.1,70.4 L504.1,70.6 L505.1,70.7 L506.1,70.8 L507.1,70.9 L508.1,70.9 L509.1,71 L510.1,71 L511.1,71.1 L512.1,71.1 L513.1,71.2 L514.1,71.2 L515.1,71.2 L516.1,71.2 L517.1,71.3 L518.1,71.3 L519.1,71.3 L520.1,71.3 L521.1,71.3 L522.1,71.3 L523.1,71.4 L524.1,71.4 L525.1,71.4 L526.1,71.4 L527.1,71.4 L528.1,71.4 L529.1,71.4 L530.1,71.4 L531.1,71.4 L532.1,71.4 L533.1,71.4 L534.1,71.4 L535.1,71.4 L536.1,71.4 L537.1,71.4 L538.1,71.4 L539.1,71.5 L540.1,71.5 L540.4,71.5 L540.4,71.7 L299.1,73.5 Z" fill="url(#gb)" fill-opacity="1.0"/>
<path d="M299.1,73.2 L300.1,73.2 L301.1,73.2 L302.1,73.2 L303.1,73.1 L304.1,73.1 L305.1,73.1 L306.1,73.1 L307.1,73.1 L308.1,73 L309.1,73 L310.1,73 L311.1,73 L312.1,73 L313.1,72.9 L314.1,72.9 L315.1,72.9 L316.1,72.9 L317.1,72.8 L318.1,72.8 L319.1,72.8 L320.1,72.7 L321.1,72.7 L322.1,72.7 L323.1,72.6 L324.1,72.6 L325.1,72.6 L326.1,72.5 L327.1,72.5 L328.1,72.4 L329.1,72.4 L330.1,72.3 L331.1,72.3 L332.1,72.2 L333.1,72.1 L334.1,72.1 L335.1,72 L336.1,71.9 L337.1,71.8 L338.1,71.7 L339.1,71.5 L340.1,71.4 L341.1,71.2 L342.1,71 L343.1,70.7 L344.1,70.3 L345.1,69.9 L346.1,69.4 L347.1,68.7 L348.1,67.9 L349.1,66.9 L350.1,65.8 L351.1,64.4 L352.1,62.7 L353.1,60.8 L354.1,58.6 L355.1,56.1 L356.1,53.3 L357.1,50.2 L358.1,46.8 L359.1,43.2 L360.1,39.4 L361.1,35.6 L362.1,31.7 L363.1,27.9 L364.1,24.4 L365.1,21.1 L366.1,18.4 L367.1,16.2 L368.1,14.7 L369.1,14 L370.1,14.2 L371.1,15.2 L372.1,16.9 L373.1,19.3 L374.1,22.3 L375.1,25.7 L376.1,29.3 L377.1,33.1 L378.1,37 L379.1,40.8 L380.1,44.5 L381.1,48 L382.1,51.2 L383.1,54.2 L384.1,56.9 L385.1,59.3 L386.1,61.3 L387.1,63.1 L388.1,64.7 L389.1,66 L390.1,67 L391.1,67.9 L392.1,68.6 L393.1,69.2 L394.1,69.7 L395.1,70.1 L396.1,70.4 L397.1,70.6 L398.1,70.8 L399.1,71 L400.1,71.1 L401.1,71.3 L402.1,71.4 L403.1,71.4 L404.1,71.5 L405.1,71.6 L406.1,71.6 L407.1,71.7 L408.1,71.7 L409.1,71.8 L410.1,71.8 L411.1,71.8 L412.1,71.9 L413.1,71.9 L414.1,71.9 L415.1,71.9 L416.1,71.9 L417.1,72 L418.1,72 L419.1,72 L420.1,72 L421.1,72 L422.1,72 L423.1,72.1 L424.1,72.1 L425.1,72.1 L426.1,72.1 L427.1,72.1 L428.1,72.1 L429.1,72.1 L430.1,72.1 L431.1,72.1 L432.1,72.1 L433.1,72.1 L434.1,72.1 L435.1,72.1 L436.1,72.1 L437.1,72.1 L438.1,72.2 L439.1,72.2 L440.1,72.2 L441.1,72.2 L442.1,72.2 L443.1,72.2 L444.1,72.2 L445.1,72.2 L446.1,72.2 L447.1,72.2 L448.1,72.2 L449.1,72.2 L450.1,72.2 L451.1,72.1 L452.1,72.1 L453.1,72.1 L454.1,72.1 L455.1,72.1 L456.1,72.1 L457.1,72.1 L458.1,72.1 L459.1,72.1 L460.1,72.1 L461.1,72.1 L462.1,72.1 L463.1,72.1 L464.1,72.1 L465.1,72.1 L466.1,72.1 L467.1,72.1 L468.1,72.1 L469.1,72.1 L470.1,72.1 L471.1,72.1 L472.1,72.1 L473.1,72.1 L474.1,72.1 L475.1,72.1 L476.1,72.1 L477.1,72.1 L478.1,72 L479.1,72 L480.1,72 L481.1,72 L482.1,72 L483.1,72 L484.1,72 L485.1,72 L486.1,72 L487.1,72 L488.1,72 L489.1,72 L490.1,72 L491.1,72 L492.1,72 L493.1,72 L494.1,72 L495.1,72 L496.1,71.9 L497.1,71.9 L498.1,71.9 L499.1,71.9 L500.1,71.9 L501.1,71.9 L502.1,71.9 L503.1,71.9 L504.1,71.9 L505.1,71.9 L506.1,71.9 L507.1,71.9 L508.1,71.9 L509.1,71.9 L510.1,71.9 L511.1,71.9 L512.1,71.8 L513.1,71.8 L514.1,71.8 L515.1,71.8 L516.1,71.8 L517.1,71.8 L518.1,71.8 L519.1,71.8 L520.1,71.8 L521.1,71.8 L522.1,71.8 L523.1,71.8 L524.1,71.8 L525.1,71.8 L526.1,71.8 L527.1,71.8 L528.1,71.7 L529.1,71.7 L530.1,71.7 L531.1,71.7 L532.1,71.7 L533.1,71.7 L534.1,71.7 L535.1,71.7 L536.1,71.7 L537.1,71.7 L538.1,71.7 L539.1,71.7 L540.1,71.7 L540.4,71.7 L540.4,71.7 L299.1,73.5 Z" fill="url(#gr)" fill-opacity="1.0"/>
<line x1="299.1" y1="73.5" x2="540.4" y2="71.7" stroke="#f08890" stroke-width="0.8"/>
<path d="M299.1,150.2 L300.1,150.2 L301.1,150.2 L302.1,150.2 L303.1,150.2 L304.1,150.2 L305.1,150.2 L306.1,150.1 L307.1,150.1 L308.1,150.1 L309.1,150.1 L310.1,150.1 L311.1,150.1 L312.1,150.1 L313.1,150.1 L314.1,150.1 L315.1,150.1 L316.1,150.1 L317.1,150.1 L318.1,150.1 L319.1,150.1 L320.1,150.1 L321.1,150.1 L322.1,150.1 L323.1,150 L324.1,150 L325.1,150 L326.1,150 L327.1,150 L328.1,150 L329.1,150 L330.1,150 L331.1,150 L332.1,150 L333.1,150 L334.1,150 L335.1,150 L336.1,150 L337.1,150 L338.1,149.9 L339.1,149.9 L340.1,149.9 L341.1,149.9 L342.1,149.9 L343.1,149.9 L344.1,149.9 L345.1,149.9 L346.1,149.9 L347.1,149.9 L348.1,149.9 L349.1,149.9 L350.1,149.9 L351.1,149.9 L352.1,149.9 L353.1,149.9 L354.1,149.8 L355.1,149.8 L356.1,149.8 L357.1,149.8 L358.1,149.8 L359.1,149.8 L360.1,149.8 L361.1,149.8 L362.1,149.8 L363.1,149.8 L364.1,149.8 L365.1,149.8 L366.1,149.8 L367.1,149.8 L368.1,149.7 L369.1,149.7 L370.1,149.7 L371.1,149.7 L372.1,149.7 L373.1,149.7 L374.1,149.7 L375.1,149.7 L376.1,149.7 L377.1,149.7 L378.1,149.7 L379.1,149.7 L380.1,149.7 L381.1,149.6 L382.1,149.6 L383.1,149.6 L384.1,149.6 L385.1,149.6 L386.1,149.6 L387.1,149.6 L388.1,149.6 L389.1,149.6 L390.1,149.6 L391.1,149.6 L392.1,149.6 L393.1,149.5 L394.1,149.5 L395.1,149.5 L396.1,149.5 L397.1,149.5 L398.1,149.5 L399.1,149.5 L400.1,149.5 L401.1,149.5 L402.1,149.5 L403.1,149.4 L404.1,149.4 L405.1,149.4 L406.1,149.4 L407.1,149.4 L408.1,149.4 L409.1,149.4 L410.1,149.4 L411.1,149.4 L412.1,149.3 L413.1,149.3 L414.1,149.3 L415.1,149.3 L416.1,149.3 L417.1,149.3 L418.1,149.3 L419.1,149.2 L420.1,149.2 L421.1,149.2 L422.1,149.2 L423.1,149.2 L424.1,149.2 L425.1,149.1 L426.1,149.1 L427.1,149.1 L428.1,149.1 L429.1,149.1 L430.1,149 L431.1,149 L432.1,149 L433.1,149 L434.1,149 L435.1,148.9 L436.1,148.9 L437.1,148.9 L438.1,148.8 L439.1,148.8 L440.1,148.8 L441.1,148.7 L442.1,148.7 L443.1,148.7 L444.1,148.6 L445.1,148.6 L446.1,148.5 L447.1,148.4 L448.1,148.4 L449.1,148.3 L450.1,148.2 L451.1,148.1 L452.1,148 L453.1,147.9 L454.1,147.7 L455.1,147.5 L456.1,147.3 L457.1,147 L458.1,146.6 L459.1,146.2 L460.1,145.6 L461.1,145 L462.1,144.2 L463.1,143.2 L464.1,142.1 L465.1,140.8 L466.1,139.2 L467.1,137.5 L468.1,135.5 L469.1,133.3 L470.1,131 L471.1,128.4 L472.1,125.7 L473.1,122.8 L474.1,119.9 L475.1,117 L476.1,114.2 L477.1,111.6 L478.1,109.2 L479.1,107.2 L480.1,105.7 L481.1,104.6 L482.1,104.2 L483.1,104.4 L484.1,105.2 L485.1,106.5 L486.1,108.3 L487.1,110.6 L488.1,113.1 L489.1,115.8 L490.1,118.7 L491.1,121.6 L492.1,124.4 L493.1,127.2 L494.1,129.8 L495.1,132.3 L496.1,134.5 L497.1,136.6 L498.1,138.4 L499.1,140 L500.1,141.4 L501.1,142.6 L502.1,143.6 L503.1,144.4 L504.1,145.1 L505.1,145.7 L506.1,146.2 L507.1,146.6 L508.1,146.9 L509.1,147.1 L510.1,147.3 L511.1,147.5 L512.1,147.6 L513.1,147.7 L514.1,147.8 L515.1,147.9 L516.1,148 L517.1,148 L518.1,148.1 L519.1,148.1 L520.1,148.2 L521.1,148.2 L522.1,148.2 L523.1,148.3 L524.1,148.3 L525.1,148.3 L526.1,148.3 L527.1,148.4 L528.1,148.4 L529.1,148.4 L530.1,148.4 L531.1,148.4 L532.1,148.4 L533.1,148.4 L534.1,148.5 L535.1,148.5 L536.1,148.5 L537.1,148.5 L538.1,148.5 L539.1,148.5 L540.1,148.5 L540.4,148.5 L540.4,148.9 L299.1,150.2 Z" fill="url(#gb)" fill-opacity="1.0"/>
<path d="M299.1,150 L300.1,149.9 L301.1,149.9 L302.1,149.9 L303.1,149.9 L304.1,149.9 L305.1,149.9 L306.1,149.9 L307.1,149.9 L308.1,149.8 L309.1,149.8 L310.1,149.8 L311.1,149.8 L312.1,149.8 L313.1,149.8 L314.1,149.7 L315.1,149.7 L316.1,149.7 L317.1,149.7 L318.1,149.7 L319.1,149.6 L320.1,149.6 L321.1,149.6 L322.1,149.6 L323.1,149.5 L324.1,149.5 L325.1,149.5 L326.1,149.5 L327.1,149.4 L328.1,149.4 L329.1,149.4 L330.1,149.3 L331.1,149.3 L332.1,149.2 L333.1,149.2 L334.1,149.2 L335.1,149.1 L336.1,149.1 L337.1,149 L338.1,148.9 L339.1,148.9 L340.1,148.8 L341.1,148.7 L342.1,148.6 L343.1,148.5 L344.1,148.4 L345.1,148.3 L346.1,148.1 L347.1,147.9 L348.1,147.7 L349.1,147.4 L350.1,147.1 L351.1,146.7 L352.1,146.1 L353.1,145.5 L354.1,144.7 L355.1,143.7 L356.1,142.6 L357.1,141.2 L358.1,139.6 L359.1,137.7 L360.1,135.5 L361.1,133.1 L362.1,130.4 L363.1,127.3 L364.1,124.1 L365.1,120.6 L366.1,117 L367.1,113.2 L368.1,109.5 L369.1,105.8 L370.1,102.3 L371.1,99.2 L372.1,96.4 L373.1,94.3 L374.1,92.8 L375.1,92.1 L376.1,92.1 L377.1,93 L378.1,94.6 L379.1,96.9 L380.1,99.7 L381.1,102.9 L382.1,106.4 L383.1,110.1 L384.1,113.9 L385.1,117.6 L386.1,121.2 L387.1,124.6 L388.1,127.8 L389.1,130.8 L390.1,133.4 L391.1,135.8 L392.1,137.9 L393.1,139.7 L394.1,141.3 L395.1,142.6 L396.1,143.7 L397.1,144.6 L398.1,145.4 L399.1,146 L400.1,146.5 L401.1,146.9 L402.1,147.2 L403.1,147.5 L404.1,147.7 L405.1,147.8 L406.1,148 L407.1,148.1 L408.1,148.2 L409.1,148.3 L410.1,148.4 L411.1,148.4 L412.1,148.5 L413.1,148.5 L414.1,148.6 L415.1,148.6 L416.1,148.7 L417.1,148.7 L418.1,148.7 L419.1,148.8 L420.1,148.8 L421.1,148.8 L422.1,148.8 L423.1,148.9 L424.1,148.9 L425.1,148.9 L426.1,148.9 L427.1,148.9 L428.1,149 L429.1,149 L430.1,149 L431.1,149 L432.1,149 L433.1,149 L434.1,149 L435.1,149 L436.1,149 L437.1,149 L438.1,149.1 L439.1,149.1 L440.1,149.1 L441.1,149.1 L442.1,149.1 L443.1,149.1 L444.1,149.1 L445.1,149.1 L446.1,149.1 L447.1,149.1 L448.1,149.1 L449.1,149.1 L450.1,149.1 L451.1,149.1 L452.1,149.1 L453.1,149.1 L454.1,149.1 L455.1,149.1 L456.1,149.1 L457.1,149.1 L458.1,149.1 L459.1,149.1 L460.1,149.1 L461.1,149.1 L462.1,149.1 L463.1,149.1 L464.1,149.1 L465.1,149.1 L466.1,149.1 L467.1,149.1 L468.1,149.1 L469.1,149.1 L470.1,149.1 L471.1,149.1 L472.1,149.1 L473.1,149.1 L474.1,149.1 L475.1,149.1 L476.1,149.1 L477.1,149.1 L478.1,149.1 L479.1,149.1 L480.1,149.1 L481.1,149.1 L482.1,149.1 L483.1,149.1 L484.1,149.1 L485.1,149.1 L486.1,149.1 L487.1,149 L488.1,149 L489.1,149 L490.1,149 L491.1,149 L492.1,149 L493.1,149 L494.1,149 L495.1,149 L496.1,149 L497.1,149 L498.1,149 L499.1,149 L500.1,149 L501.1,149 L502.1,149 L503.1,149 L504.1,149 L505.1,149 L506.1,149 L507.1,149 L508.1,149 L509.1,149 L510.1,149 L511.1,149 L512.1,149 L513.1,148.9 L514.1,148.9 L515.1,148.9 L516.1,148.9 L517.1,148.9 L518.1,148.9 L519.1,148.9 L520.1,148.9 L521.1,148.9 L522.1,148.9 L523.1,148.9 L524.1,148.9 L525.1,148.9 L526.1,148.9 L527.1,148.9 L528.1,148.9 L529.1,148.9 L530.1,148.9 L531.1,148.9 L532.1,148.9 L533.1,148.9 L534.1,148.8 L535.1,148.8 L536.1,148.8 L537.1,148.8 L538.1,148.8 L539.1,148.8 L540.1,148.8 L540.4,148.8 L540.4,148.9 L299.1,150.2 Z" fill="url(#gr)" fill-opacity="1.0"/>
<line x1="299.1" y1="150.2" x2="540.4" y2="148.9" stroke="#f08890" stroke-width="0.8"/>
<line x1="369.5" y1="14.5" x2="369.5" y2="151" stroke="#404040" stroke-width="1.2" stroke-dasharray="4.2,3.8"/>
<line x1="476.8" y1="26" x2="476.8" y2="150" stroke="#404040" stroke-width="1.2" stroke-dasharray="4.2,3.8"/>
<rect x="299.1" y="5.2" width="241.3" height="153.1" fill="none" stroke="#383838" stroke-width="1.4"/>
<line x1="299.1" y1="81.8" x2="540.4" y2="81.8" stroke="#383838" stroke-width="1.3"/>
<line x1="319.2" y1="158.3" x2="319.2" y2="155.3" stroke="#383838" stroke-width="1.1"/>
<line x1="359.4" y1="158.3" x2="359.4" y2="155.3" stroke="#383838" stroke-width="1.1"/>
<line x1="399.6" y1="158.3" x2="399.6" y2="155.3" stroke="#383838" stroke-width="1.1"/>
<line x1="439.9" y1="158.3" x2="439.9" y2="155.3" stroke="#383838" stroke-width="1.1"/>
<line x1="480.1" y1="158.3" x2="480.1" y2="155.3" stroke="#383838" stroke-width="1.1"/>
<line x1="520.3" y1="158.3" x2="520.3" y2="155.3" stroke="#383838" stroke-width="1.1"/>
<line x1="339.3" y1="158.3" x2="339.3" y2="156.5" stroke="#383838" stroke-width="1"/>
<line x1="379.5" y1="158.3" x2="379.5" y2="156.5" stroke="#383838" stroke-width="1"/>
<line x1="419.8" y1="158.3" x2="419.8" y2="156.5" stroke="#383838" stroke-width="1"/>
<line x1="460" y1="158.3" x2="460" y2="156.5" stroke="#383838" stroke-width="1"/>
<line x1="500.2" y1="158.3" x2="500.2" y2="156.5" stroke="#383838" stroke-width="1"/>
<text transform="translate(319.2,169.6) scale(1,0.92)" font-size="8.5" text-anchor="middle" >156</text>
<text transform="translate(359.4,169.6) scale(1,0.92)" font-size="8.5" text-anchor="middle" >158</text>
<text transform="translate(399.6,169.6) scale(1,0.92)" font-size="8.5" text-anchor="middle" >160</text>
<text transform="translate(439.9,169.6) scale(1,0.92)" font-size="8.5" text-anchor="middle" >162</text>
<text transform="translate(480.1,169.6) scale(1,0.92)" font-size="8.5" text-anchor="middle" >164</text>
<text transform="translate(520.3,169.6) scale(1,0.92)" font-size="8.5" text-anchor="middle" >166</text>
<text transform="translate(281.3,17) scale(1,1.1)" font-size="10.8" text-anchor="start" >(d)</text>
<text transform="translate(303.4,16.2) scale(1,1.1)" font-size="8.4" text-anchor="start" >Bi 4f</text>
<text transform="translate(386.9,25.2) scale(1,1.1)" font-size="8.6" text-anchor="start" >Bi 4f<tspan font-size="5.5" dy="2">7/2</tspan></text>
<line x1="387.5" y1="26.5" x2="381.4" y2="29.2" stroke="#222" stroke-width="0.8"/>
<path d="M378.5,30.5 L380.8,27.7 L382.1,30.7 Z" fill="#222"/>
<text transform="translate(513,16.3) scale(1,1.1)" font-size="8.8" text-anchor="start" textLength="24.2" lengthAdjust="spacingAndGlyphs" >BiOCl</text>
<text transform="translate(487.6,30.3) scale(1,1.1)" font-size="8.6" text-anchor="start" >Bi 4f<tspan font-size="5.5" dy="2">5/2</tspan></text>
<line x1="488.5" y1="32.5" x2="485" y2="35.5" stroke="#222" stroke-width="0.8"/>
<path d="M482.5,37.5 L483.9,34.2 L486,36.7 Z" fill="#222"/>
<text transform="translate(303.4,93.9) scale(1,1.1)" font-size="8.4" text-anchor="start" >Bi 4f</text>
<text transform="translate(485,92.7) scale(1,1.1)" font-size="8.6" text-anchor="start" textLength="50.4" lengthAdjust="spacingAndGlyphs" >PCN/BiOCl-0</text>
<text transform="translate(371.3,185.3) scale(1,1.03)" font-size="10.6" text-anchor="start" textLength="96.7" lengthAdjust="spacing" >Binding Energy (eV)</text>
<text transform="translate(290,83.7) rotate(-90)" font-size="11.8" text-anchor="middle" textLength="65.5" lengthAdjust="spacingAndGlyphs">Intensity (a.u.)</text>
<path d="M300.5,264.5 L301.5,264.5 L302.5,264.5 L303.5,264.5 L304.5,264.5 L305.5,264.5 L306.5,264.5 L307.5,264.5 L308.5,264.4 L309.5,264.4 L310.5,264.4 L311.5,264.4 L312.5,264.4 L313.5,264.4 L314.5,264.4 L315.5,264.4 L316.5,264.4 L317.5,264.4 L318.5,264.4 L319.5,264.4 L320.5,264.4 L321.5,264.4 L322.5,264.4 L323.5,264.4 L324.5,264.4 L325.5,264.4 L326.5,264.3 L327.5,264.3 L328.5,264.3 L329.5,264.3 L330.5,264.3 L331.5,264.3 L332.5,264.3 L333.5,264.3 L334.5,264.3 L335.5,264.3 L336.5,264.2 L337.5,264.2 L338.5,264.2 L339.5,264.2 L340.5,264.2 L341.5,264.1 L342.5,264.1 L343.5,264.1 L344.5,264.1 L345.5,264 L346.5,264 L347.5,263.9 L348.5,263.9 L349.5,263.8 L350.5,263.7 L351.5,263.6 L352.5,263.5 L353.5,263.4 L354.5,263.3 L355.5,263.1 L356.5,262.9 L357.5,262.7 L358.5,262.5 L359.5,262.2 L360.5,261.9 L361.5,261.5 L362.5,261.2 L363.5,260.7 L364.5,260.3 L365.5,259.8 L366.5,259.2 L367.5,258.7 L368.5,258 L369.5,257.4 L370.5,256.7 L371.5,256 L372.5,255.2 L373.5,254.4 L374.5,253.7 L375.5,252.9 L376.5,252.1 L377.5,251.4 L378.5,250.7 L379.5,250 L380.5,249.4 L381.5,248.9 L382.5,248.4 L383.5,248 L384.5,247.8 L385.5,247.6 L386.5,247.6 L387.5,247.7 L388.5,247.9 L389.5,248.2 L390.5,248.6 L391.5,249.1 L392.5,249.6 L393.5,250.3 L394.5,251 L395.5,251.7 L396.5,252.4 L397.5,253.2 L398.5,254 L399.5,254.8 L400.5,255.5 L401.5,256.2 L402.5,257 L403.5,257.6 L404.5,258.3 L405.5,258.9 L406.5,259.5 L407.5,260 L408.5,260.5 L409.5,260.9 L410.5,261.3 L411.5,261.7 L412.5,262 L413.5,262.3 L414.5,262.6 L415.5,262.8 L416.5,263 L417.5,263.2 L418.5,263.3 L419.5,263.5 L420.5,263.6 L421.5,263.7 L422.5,263.8 L423.5,263.8 L424.5,263.9 L425.5,263.9 L426.5,264 L427.5,264 L428.5,264.1 L429.5,264.1 L430.5,264.1 L431.5,264.2 L432.5,264.2 L433.5,264.2 L434.5,264.2 L435.5,264.2 L436.5,264.2 L437.5,264.3 L438.5,264.3 L439.5,264.3 L440.5,264.3 L441.5,264.3 L442.5,264.3 L443.5,264.3 L444.5,264.3 L445.5,264.3 L446.5,264.4 L447.5,264.4 L448.5,264.4 L449.5,264.4 L450.5,264.4 L451.5,264.4 L452.5,264.4 L453.5,264.4 L454.5,264.4 L455.5,264.4 L456.5,264.4 L457.5,264.4 L458.5,264.4 L459.5,264.4 L460.5,264.4 L461.5,264.4 L462.5,264.4 L463.5,264.4 L464.5,264.4 L465.5,264.5 L466.5,264.5 L467.5,264.5 L468.5,264.5 L469.5,264.5 L470.5,264.5 L471.5,264.5 L472.5,264.5 L473.5,264.5 L474.5,264.5 L475.5,264.5 L476.5,264.5 L477.5,264.5 L478.5,264.5 L479.5,264.5 L480.5,264.5 L481.5,264.5 L482.5,264.5 L483.5,264.5 L484.5,264.5 L485.5,264.5 L486.5,264.5 L487.5,264.5 L488.5,264.5 L489.5,264.5 L490.5,264.5 L491.5,264.5 L492.5,264.5 L493.5,264.5 L494.5,264.5 L495.5,264.5 L496.5,264.5 L497.5,264.5 L498.5,264.5 L499.5,264.5 L500.5,264.5 L501.5,264.5 L502.5,264.5 L503.5,264.5 L504.5,264.5 L505.5,264.5 L506.5,264.5 L507.5,264.5 L508.5,264.5 L509.5,264.5 L510.5,264.5 L511.5,264.5 L512.5,264.5 L513.5,264.5 L514.5,264.5 L515.5,264.5 L516.5,264.5 L517.5,264.5 L518.5,264.5 L519.5,264.5 L520.5,264.5 L521.5,264.5 L522.5,264.5 L523.5,264.5 L524.5,264.6 L525.5,264.6 L526.5,264.6 L527.5,264.6 L528.5,264.6 L529.5,264.6 L530.5,264.6 L531.5,264.6 L532.5,264.6 L533.5,264.6 L534.5,264.6 L535.5,264.6 L536.5,264.6 L537.5,264.6 L538.5,264.6 L539.5,264.6 L540.5,264.6 L541.5,264.6 L542.5,264.6 L543.5,264.6 L544.1,264.6 L544.1,264.6 L300.5,264.6 Z" fill="url(#gb)" fill-opacity="1.0"/>
<path d="M300.5,264 L301.5,264 L302.5,264 L303.5,263.9 L304.5,263.9 L305.5,263.9 L306.5,263.8 L307.5,263.8 L308.5,263.8 L309.5,263.7 L310.5,263.7 L311.5,263.6 L312.5,263.6 L313.5,263.5 L314.5,263.4 L315.5,263.4 L316.5,263.3 L317.5,263.2 L318.5,263.1 L319.5,262.9 L320.5,262.8 L321.5,262.6 L322.5,262.3 L323.5,262 L324.5,261.6 L325.5,261.2 L326.5,260.6 L327.5,260 L328.5,259.1 L329.5,258.2 L330.5,257 L331.5,255.6 L332.5,254 L333.5,252.2 L334.5,250.1 L335.5,247.8 L336.5,245.3 L337.5,242.5 L338.5,239.5 L339.5,236.4 L340.5,233.2 L341.5,229.9 L342.5,226.6 L343.5,223.5 L344.5,220.6 L345.5,217.9 L346.5,215.8 L347.5,214.1 L348.5,213 L349.5,212.6 L350.5,212.9 L351.5,213.8 L352.5,215.4 L353.5,217.5 L354.5,220 L355.5,222.9 L356.5,226 L357.5,229.2 L358.5,232.5 L359.5,235.8 L360.5,238.9 L361.5,241.9 L362.5,244.7 L363.5,247.3 L364.5,249.7 L365.5,251.8 L366.5,253.7 L367.5,255.3 L368.5,256.7 L369.5,257.9 L370.5,259 L371.5,259.8 L372.5,260.5 L373.5,261.1 L374.5,261.6 L375.5,262 L376.5,262.3 L377.5,262.5 L378.5,262.7 L379.5,262.9 L380.5,263.1 L381.5,263.2 L382.5,263.3 L383.5,263.4 L384.5,263.4 L385.5,263.5 L386.5,263.6 L387.5,263.6 L388.5,263.7 L389.5,263.7 L390.5,263.8 L391.5,263.8 L392.5,263.8 L393.5,263.9 L394.5,263.9 L395.5,263.9 L396.5,263.9 L397.5,264 L398.5,264 L399.5,264 L400.5,264 L401.5,264.1 L402.5,264.1 L403.5,264.1 L404.5,264.1 L405.5,264.1 L406.5,264.1 L407.5,264.2 L408.5,264.2 L409.5,264.2 L410.5,264.2 L411.5,264.2 L412.5,264.2 L413.5,264.2 L414.5,264.2 L415.5,264.3 L416.5,264.3 L417.5,264.3 L418.5,264.3 L419.5,264.3 L420.5,264.3 L421.5,264.3 L422.5,264.3 L423.5,264.3 L424.5,264.3 L425.5,264.3 L426.5,264.3 L427.5,264.4 L428.5,264.4 L429.5,264.4 L430.5,264.4 L431.5,264.4 L432.5,264.4 L433.5,264.4 L434.5,264.4 L435.5,264.4 L436.5,264.4 L437.5,264.4 L438.5,264.4 L439.5,264.4 L440.5,264.4 L441.5,264.4 L442.5,264.4 L443.5,264.4 L444.5,264.4 L445.5,264.4 L446.5,264.4 L447.5,264.4 L448.5,264.4 L449.5,264.4 L450.5,264.5 L451.5,264.5 L452.5,264.5 L453.5,264.5 L454.5,264.5 L455.5,264.5 L456.5,264.5 L457.5,264.5 L458.5,264.5 L459.5,264.5 L460.5,264.5 L461.5,264.5 L462.5,264.5 L463.5,264.5 L464.5,264.5 L465.5,264.5 L466.5,264.5 L467.5,264.5 L468.5,264.5 L469.5,264.5 L470.5,264.5 L471.5,264.5 L472.5,264.5 L473.5,264.5 L474.5,264.5 L475.5,264.5 L476.5,264.5 L477.5,264.5 L478.5,264.5 L479.5,264.5 L480.5,264.5 L481.5,264.5 L482.5,264.5 L483.5,264.5 L484.5,264.5 L485.5,264.5 L486.5,264.5 L487.5,264.5 L488.5,264.5 L489.5,264.5 L490.5,264.5 L491.5,264.5 L492.5,264.5 L493.5,264.5 L494.5,264.5 L495.5,264.5 L496.5,264.5 L497.5,264.5 L498.5,264.5 L499.5,264.5 L500.5,264.5 L501.5,264.5 L502.5,264.5 L503.5,264.5 L504.5,264.5 L505.5,264.5 L506.5,264.5 L507.5,264.5 L508.5,264.5 L509.5,264.5 L510.5,264.5 L511.5,264.5 L512.5,264.5 L513.5,264.5 L514.5,264.5 L515.5,264.5 L516.5,264.5 L517.5,264.5 L518.5,264.5 L519.5,264.5 L520.5,264.5 L521.5,264.5 L522.5,264.5 L523.5,264.6 L524.5,264.6 L525.5,264.6 L526.5,264.6 L527.5,264.6 L528.5,264.6 L529.5,264.6 L530.5,264.6 L531.5,264.6 L532.5,264.6 L533.5,264.6 L534.5,264.6 L535.5,264.6 L536.5,264.6 L537.5,264.6 L538.5,264.6 L539.5,264.6 L540.5,264.6 L541.5,264.6 L542.5,264.6 L543.5,264.6 L544.1,264.6 L544.1,264.6 L300.5,264.6 Z" fill="url(#gr)" fill-opacity="1.0"/>
<path d="M300.5,264.5 L301.5,264.5 L302.5,264.5 L303.5,264.5 L304.5,264.5 L305.5,264.5 L306.5,264.5 L307.5,264.5 L308.5,264.4 L309.5,264.4 L310.5,264.4 L311.5,264.4 L312.5,264.4 L313.5,264.4 L314.5,264.4 L315.5,264.4 L316.5,264.4 L317.5,264.4 L318.5,264.4 L319.5,264.4 L320.5,264.4 L321.5,264.4 L322.5,264.4 L323.5,264.4 L324.5,264.4 L325.5,264.4 L326.5,264.3 L327.5,264.3 L328.5,264.3 L329.5,264.3 L330.5,264.3 L331.5,264.3 L332.5,264.3 L333.5,264.3 L334.5,264.3 L335.5,264.3 L336.5,264.2 L337.5,264.2 L338.5,264.2 L339.5,264.2 L340.5,264.2 L341.5,264.1 L342.5,264.1 L343.5,264.1 L344.5,264.1 L345.5,264 L346.5,264 L347.5,263.9 L348.5,263.9 L349.5,263.8 L350.5,263.7 L351.5,263.6 L352.5,263.5 L353.5,263.4 L354.5,263.3 L355.5,263.1 L356.5,262.9 L357.5,262.7 L358.5,262.5 L359.5,262.2 L360.5,261.9 L361.5,261.5 L362.5,261.2 L363.5,260.7 L364.5,260.3 L365.5,259.8 L366.5,259.2 L367.5,258.7 L368.5,258 L369.5,257.9 L370.5,259 L371.5,259.8 L372.5,260.5 L373.5,261.1 L374.5,261.6 L375.5,262 L376.5,262.3 L377.5,262.5 L378.5,262.7 L379.5,262.9 L380.5,263.1 L381.5,263.2 L382.5,263.3 L383.5,263.4 L384.5,263.4 L385.5,263.5 L386.5,263.6 L387.5,263.6 L388.5,263.7 L389.5,263.7 L390.5,263.8 L391.5,263.8 L392.5,263.8 L393.5,263.9 L394.5,263.9 L395.5,263.9 L396.5,263.9 L397.5,264 L398.5,264 L399.5,264 L400.5,264 L401.5,264.1 L402.5,264.1 L403.5,264.1 L404.5,264.1 L405.5,264.1 L406.5,264.1 L407.5,264.2 L408.5,264.2 L409.5,264.2 L410.5,264.2 L411.5,264.2 L412.5,264.2 L413.5,264.2 L414.5,264.2 L415.5,264.3 L416.5,264.3 L417.5,264.3 L418.5,264.3 L419.5,264.3 L420.5,264.3 L421.5,264.3 L422.5,264.3 L423.5,264.3 L424.5,264.3 L425.5,264.3 L426.5,264.3 L427.5,264.4 L428.5,264.4 L429.5,264.4 L430.5,264.4 L431.5,264.4 L432.5,264.4 L433.5,264.4 L434.5,264.4 L435.5,264.4 L436.5,264.4 L437.5,264.4 L438.5,264.4 L439.5,264.4 L440.5,264.4 L441.5,264.4 L442.5,264.4 L443.5,264.4 L444.5,264.4 L445.5,264.4 L446.5,264.4 L447.5,264.4 L448.5,264.4 L449.5,264.4 L450.5,264.5 L451.5,264.5 L452.5,264.5 L453.5,264.5 L454.5,264.5 L455.5,264.5 L456.5,264.5 L457.5,264.5 L458.5,264.5 L459.5,264.5 L460.5,264.5 L461.5,264.5 L462.5,264.5 L463.5,264.5 L464.5,264.5 L465.5,264.5 L466.5,264.5 L467.5,264.5 L468.5,264.5 L469.5,264.5 L470.5,264.5 L471.5,264.5 L472.5,264.5 L473.5,264.5 L474.5,264.5 L475.5,264.5 L476.5,264.5 L477.5,264.5 L478.5,264.5 L479.5,264.5 L480.5,264.5 L481.5,264.5 L482.5,264.5 L483.5,264.5 L484.5,264.5 L485.5,264.5 L486.5,264.5 L487.5,264.5 L488.5,264.5 L489.5,264.5 L490.5,264.5 L491.5,264.5 L492.5,264.5 L493.5,264.5 L494.5,264.5 L495.5,264.5 L496.5,264.5 L497.5,264.5 L498.5,264.5 L499.5,264.5 L500.5,264.5 L501.5,264.5 L502.5,264.5 L503.5,264.5 L504.5,264.5 L505.5,264.5 L506.5,264.5 L507.5,264.5 L508.5,264.5 L509.5,264.5 L510.5,264.5 L511.5,264.5 L512.5,264.5 L513.5,264.5 L514.5,264.5 L515.5,264.5 L516.5,264.5 L517.5,264.5 L518.5,264.5 L519.5,264.5 L520.5,264.5 L521.5,264.5 L522.5,264.5 L523.5,264.6 L524.5,264.6 L525.5,264.6 L526.5,264.6 L527.5,264.6 L528.5,264.6 L529.5,264.6 L530.5,264.6 L531.5,264.6 L532.5,264.6 L533.5,264.6 L534.5,264.6 L535.5,264.6 L536.5,264.6 L537.5,264.6 L538.5,264.6 L539.5,264.6 L540.5,264.6 L541.5,264.6 L542.5,264.6 L543.5,264.6 L543.5,264.6 L300.5,264.6 Z" fill="#8e2f45" fill-opacity="0.45"/>
<line x1="300.5" y1="264.6" x2="544.1" y2="264.6" stroke="#f08890" stroke-width="0.8"/>
<line x1="300.5" y1="265.2" x2="544.1" y2="265.2" stroke="#5a9ae0" stroke-width="1.0"/>
<polyline points="300.5,264.2 301.5,264.1 302.5,264.1 303.5,264.1 304.5,264.1 305.5,264 306.5,264 307.5,263.9 308.5,263.9 309.5,263.9 310.5,263.8 311.5,263.8 312.5,263.7 313.5,263.6 314.5,263.6 315.5,263.5 316.5,263.4 317.5,263.3 318.5,263.2 319.5,263 320.5,262.9 321.5,262.7 322.5,262.4 323.5,262.1 324.5,261.7 325.5,261.2 326.5,260.7 327.5,260 328.5,259.2 329.5,258.2 330.5,257 331.5,255.6 332.5,254 333.5,252.2 334.5,250.1 335.5,247.8 336.5,245.2 337.5,242.4 338.5,239.4 339.5,236.3 340.5,233 341.5,229.7 342.5,226.4 343.5,223.3 344.5,220.3 345.5,217.7 346.5,215.4 347.5,213.7 348.5,212.6 349.5,212.1 350.5,212.3 351.5,213.1 352.5,214.6 353.5,216.6 354.5,219 355.5,221.7 356.5,224.6 357.5,227.6 358.5,230.7 359.5,233.6 360.5,236.5 361.5,239.2 362.5,241.6 363.5,243.8 364.5,245.7 365.5,247.3 366.5,248.6 367.5,249.7 368.5,250.5 369.5,251 370.5,251.3 371.5,251.5 372.5,251.4 373.5,251.2 374.5,250.9 375.5,250.5 376.5,250.1 377.5,249.6 378.5,249.1 379.5,248.6 380.5,248.2 381.5,247.7 382.5,247.4 383.5,247.1 384.5,246.9 385.5,246.8 386.5,246.9 387.5,247 388.5,247.2 389.5,247.6 390.5,248 391.5,248.6 392.5,249.2 393.5,249.8 394.5,250.6 395.5,251.3 396.5,252.1 397.5,252.9 398.5,253.7 399.5,254.5 400.5,255.2 401.5,256 402.5,256.7 403.5,257.4 404.5,258.1 405.5,258.7 406.5,259.3 407.5,259.9 408.5,260.4 409.5,260.8 410.5,261.2 411.5,261.6 412.5,261.9 413.5,262.2 414.5,262.5 415.5,262.8 416.5,263 417.5,263.1 418.5,263.3 419.5,263.4 420.5,263.6 421.5,263.7 422.5,263.8 423.5,263.9 424.5,263.9 425.5,264 426.5,264 427.5,264.1 428.5,264.1 429.5,264.2 430.5,264.2 431.5,264.2 432.5,264.3 433.5,264.3 434.5,264.3 435.5,264.3 436.5,264.3 437.5,264.4 438.5,264.4 439.5,264.4 440.5,264.4 441.5,264.4 442.5,264.4 443.5,264.5 444.5,264.5 445.5,264.5 446.5,264.5 447.5,264.5 448.5,264.5 449.5,264.5 450.5,264.5 451.5,264.5 452.5,264.6 453.5,264.6 454.5,264.6 455.5,264.6 456.5,264.6 457.5,264.6 458.5,264.6 459.5,264.6 460.5,264.6 461.5,264.6 462.5,264.6 463.5,264.6 464.5,264.6 465.5,264.6 466.5,264.6 467.5,264.7 468.5,264.7 469.5,264.7 470.5,264.7 471.5,264.7 472.5,264.7 473.5,264.7 474.5,264.7 475.5,264.7 476.5,264.7 477.5,264.7 478.5,264.7 479.5,264.7 480.5,264.7 481.5,264.7 482.5,264.7 483.5,264.7 484.5,264.7 485.5,264.7 486.5,264.7 487.5,264.7 488.5,264.7 489.5,264.7 490.5,264.7 491.5,264.7 492.5,264.7 493.5,264.7 494.5,264.7 495.5,264.8 496.5,264.8 497.5,264.8 498.5,264.8 499.5,264.8 500.5,264.8 501.5,264.8 502.5,264.8 503.5,264.8 504.5,264.8 505.5,264.8 506.5,264.8 507.5,264.8 508.5,264.8 509.5,264.8 510.5,264.8 511.5,264.8 512.5,264.8 513.5,264.8 514.5,264.8 515.5,264.8 516.5,264.8 517.5,264.8 518.5,264.8 519.5,264.8 520.5,264.8 521.5,264.8 522.5,264.8 523.5,264.8 524.5,264.8 525.5,264.8 526.5,264.8 527.5,264.8 528.5,264.8 529.5,264.8 530.5,264.8 531.5,264.8 532.5,264.8 533.5,264.8 534.5,264.8 535.5,264.8 536.5,264.8 537.5,264.8 538.5,264.8 539.5,264.8 540.5,264.8 541.5,264.8 542.5,264.8 543.5,264.8 544.1,264.8" fill="none" stroke="#a8def2" stroke-width="0.9" stroke-linejoin="round" stroke-dasharray="1,1.3"/>
<path d="M300.5,340 L301.5,340 L302.5,340 L303.5,340 L304.5,340 L305.5,340 L306.5,340 L307.5,340 L308.5,340 L309.5,339.9 L310.5,339.9 L311.5,339.9 L312.5,339.9 L313.5,339.9 L314.5,339.9 L315.5,339.9 L316.5,339.9 L317.5,339.9 L318.5,339.9 L319.5,339.9 L320.5,339.9 L321.5,339.9 L322.5,339.9 L323.5,339.9 L324.5,339.9 L325.5,339.9 L326.5,339.8 L327.5,339.8 L328.5,339.8 L329.5,339.8 L330.5,339.8 L331.5,339.8 L332.5,339.8 L333.5,339.8 L334.5,339.8 L335.5,339.8 L336.5,339.7 L337.5,339.7 L338.5,339.7 L339.5,339.7 L340.5,339.7 L341.5,339.7 L342.5,339.6 L343.5,339.6 L344.5,339.6 L345.5,339.6 L346.5,339.5 L347.5,339.5 L348.5,339.5 L349.5,339.4 L350.5,339.4 L351.5,339.3 L352.5,339.3 L353.5,339.2 L354.5,339.2 L355.5,339.1 L356.5,339.1 L357.5,339 L358.5,338.9 L359.5,338.8 L360.5,338.7 L361.5,338.6 L362.5,338.5 L363.5,338.3 L364.5,338.2 L365.5,338 L366.5,337.9 L367.5,337.7 L368.5,337.5 L369.5,337.3 L370.5,337.1 L371.5,336.8 L372.5,336.6 L373.5,336.3 L374.5,336 L375.5,335.7 L376.5,335.4 L377.5,335 L378.5,334.6 L379.5,334.3 L380.5,333.9 L381.5,333.4 L382.5,333 L383.5,332.5 L384.5,332.1 L385.5,331.6 L386.5,331.1 L387.5,330.6 L388.5,330.1 L389.5,329.6 L390.5,329 L391.5,328.5 L392.5,327.9 L393.5,327.4 L394.5,326.9 L395.5,326.3 L396.5,325.8 L397.5,325.3 L398.5,324.8 L399.5,324.3 L400.5,323.9 L401.5,323.4 L402.5,323 L403.5,322.7 L404.5,322.3 L405.5,322 L406.5,321.8 L407.5,321.6 L408.5,321.4 L409.5,321.3 L410.5,321.2 L411.5,321.2 L412.5,321.2 L413.5,321.3 L414.5,321.5 L415.5,321.6 L416.5,321.9 L417.5,322.1 L418.5,322.5 L419.5,322.8 L420.5,323.2 L421.5,323.6 L422.5,324 L423.5,324.5 L424.5,325 L425.5,325.5 L426.5,326 L427.5,326.5 L428.5,327.1 L429.5,327.6 L430.5,328.2 L431.5,328.7 L432.5,329.2 L433.5,329.8 L434.5,330.3 L435.5,330.8 L436.5,331.3 L437.5,331.8 L438.5,332.3 L439.5,332.7 L440.5,333.2 L441.5,333.6 L442.5,334 L443.5,334.4 L444.5,334.8 L445.5,335.1 L446.5,335.5 L447.5,335.8 L448.5,336.1 L449.5,336.4 L450.5,336.7 L451.5,336.9 L452.5,337.1 L453.5,337.4 L454.5,337.6 L455.5,337.8 L456.5,337.9 L457.5,338.1 L458.5,338.2 L459.5,338.4 L460.5,338.5 L461.5,338.6 L462.5,338.7 L463.5,338.8 L464.5,338.9 L465.5,339 L466.5,339.1 L467.5,339.1 L468.5,339.2 L469.5,339.3 L470.5,339.3 L471.5,339.4 L472.5,339.4 L473.5,339.4 L474.5,339.5 L475.5,339.5 L476.5,339.5 L477.5,339.6 L478.5,339.6 L479.5,339.6 L480.5,339.6 L481.5,339.7 L482.5,339.7 L483.5,339.7 L484.5,339.7 L485.5,339.7 L486.5,339.7 L487.5,339.8 L488.5,339.8 L489.5,339.8 L490.5,339.8 L491.5,339.8 L492.5,339.8 L493.5,339.8 L494.5,339.8 L495.5,339.8 L496.5,339.8 L497.5,339.9 L498.5,339.9 L499.5,339.9 L500.5,339.9 L501.5,339.9 L502.5,339.9 L503.5,339.9 L504.5,339.9 L505.5,339.9 L506.5,339.9 L507.5,339.9 L508.5,339.9 L509.5,339.9 L510.5,339.9 L511.5,339.9 L512.5,339.9 L513.5,340 L514.5,340 L515.5,340 L516.5,340 L517.5,340 L518.5,340 L519.5,340 L520.5,340 L521.5,340 L522.5,340 L523.5,340 L524.5,340 L525.5,340 L526.5,340 L527.5,340 L528.5,340 L529.5,340 L530.5,340 L531.5,340 L532.5,340 L533.5,340 L534.5,340 L535.5,340 L536.5,340 L537.5,340 L538.5,340 L539.5,340 L540.5,340 L541.5,340 L542.5,340 L543.5,340 L544.1,340 L544.1,340.2 L300.5,340.2 Z" fill="url(#gb)" fill-opacity="1.0"/>
<path d="M300.5,339.6 L301.5,339.5 L302.5,339.5 L303.5,339.5 L304.5,339.5 L305.5,339.5 L306.5,339.5 L307.5,339.4 L308.5,339.4 L309.5,339.4 L310.5,339.4 L311.5,339.3 L312.5,339.3 L313.5,339.3 L314.5,339.2 L315.5,339.2 L316.5,339.2 L317.5,339.1 L318.5,339.1 L319.5,339 L320.5,338.9 L321.5,338.9 L322.5,338.8 L323.5,338.7 L324.5,338.6 L325.5,338.5 L326.5,338.4 L327.5,338.3 L328.5,338.2 L329.5,338 L330.5,337.9 L331.5,337.7 L332.5,337.5 L333.5,337.3 L334.5,337 L335.5,336.8 L336.5,336.5 L337.5,336.2 L338.5,335.8 L339.5,335.4 L340.5,335 L341.5,334.6 L342.5,334.1 L343.5,333.6 L344.5,333.1 L345.5,332.5 L346.5,331.9 L347.5,331.2 L348.5,330.5 L349.5,329.8 L350.5,329 L351.5,328.2 L352.5,327.3 L353.5,326.4 L354.5,325.5 L355.5,324.5 L356.5,323.5 L357.5,322.5 L358.5,321.5 L359.5,320.4 L360.5,319.3 L361.5,318.2 L362.5,317.2 L363.5,316.1 L364.5,315 L365.5,313.9 L366.5,312.9 L367.5,311.9 L368.5,310.9 L369.5,310 L370.5,309.2 L371.5,308.4 L372.5,307.6 L373.5,307 L374.5,306.4 L375.5,306 L376.5,305.6 L377.5,305.4 L378.5,305.2 L379.5,305.2 L380.5,305.3 L381.5,305.5 L382.5,305.8 L383.5,306.2 L384.5,306.7 L385.5,307.2 L386.5,307.9 L387.5,308.7 L388.5,309.5 L389.5,310.4 L390.5,311.3 L391.5,312.3 L392.5,313.3 L393.5,314.4 L394.5,315.4 L395.5,316.5 L396.5,317.6 L397.5,318.7 L398.5,319.8 L399.5,320.8 L400.5,321.9 L401.5,322.9 L402.5,323.9 L403.5,324.9 L404.5,325.8 L405.5,326.8 L406.5,327.6 L407.5,328.5 L408.5,329.3 L409.5,330.1 L410.5,330.8 L411.5,331.5 L412.5,332.1 L413.5,332.7 L414.5,333.3 L415.5,333.8 L416.5,334.3 L417.5,334.8 L418.5,335.2 L419.5,335.6 L420.5,335.9 L421.5,336.3 L422.5,336.6 L423.5,336.9 L424.5,337.1 L425.5,337.3 L426.5,337.6 L427.5,337.7 L428.5,337.9 L429.5,338.1 L430.5,338.2 L431.5,338.4 L432.5,338.5 L433.5,338.6 L434.5,338.7 L435.5,338.8 L436.5,338.8 L437.5,338.9 L438.5,339 L439.5,339 L440.5,339.1 L441.5,339.1 L442.5,339.2 L443.5,339.2 L444.5,339.2 L445.5,339.3 L446.5,339.3 L447.5,339.3 L448.5,339.4 L449.5,339.4 L450.5,339.4 L451.5,339.4 L452.5,339.5 L453.5,339.5 L454.5,339.5 L455.5,339.5 L456.5,339.5 L457.5,339.6 L458.5,339.6 L459.5,339.6 L460.5,339.6 L461.5,339.6 L462.5,339.6 L463.5,339.6 L464.5,339.7 L465.5,339.7 L466.5,339.7 L467.5,339.7 L468.5,339.7 L469.5,339.7 L470.5,339.7 L471.5,339.7 L472.5,339.7 L473.5,339.7 L474.5,339.8 L475.5,339.8 L476.5,339.8 L477.5,339.8 L478.5,339.8 L479.5,339.8 L480.5,339.8 L481.5,339.8 L482.5,339.8 L483.5,339.8 L484.5,339.8 L485.5,339.8 L486.5,339.8 L487.5,339.9 L488.5,339.9 L489.5,339.9 L490.5,339.9 L491.5,339.9 L492.5,339.9 L493.5,339.9 L494.5,339.9 L495.5,339.9 L496.5,339.9 L497.5,339.9 L498.5,339.9 L499.5,339.9 L500.5,339.9 L501.5,339.9 L502.5,339.9 L503.5,339.9 L504.5,339.9 L505.5,339.9 L506.5,339.9 L507.5,339.9 L508.5,340 L509.5,340 L510.5,340 L511.5,340 L512.5,340 L513.5,340 L514.5,340 L515.5,340 L516.5,340 L517.5,340 L518.5,340 L519.5,340 L520.5,340 L521.5,340 L522.5,340 L523.5,340 L524.5,340 L525.5,340 L526.5,340 L527.5,340 L528.5,340 L529.5,340 L530.5,340 L531.5,340 L532.5,340 L533.5,340 L534.5,340 L535.5,340 L536.5,340 L537.5,340 L538.5,340 L539.5,340 L540.5,340 L541.5,340 L542.5,340 L543.5,340 L544.1,340 L544.1,340.2 L300.5,340.2 Z" fill="url(#gr)" fill-opacity="1.0"/>
<path d="M300.5,340 L301.5,340 L302.5,340 L303.5,340 L304.5,340 L305.5,340 L306.5,340 L307.5,340 L308.5,340 L309.5,339.9 L310.5,339.9 L311.5,339.9 L312.5,339.9 L313.5,339.9 L314.5,339.9 L315.5,339.9 L316.5,339.9 L317.5,339.9 L318.5,339.9 L319.5,339.9 L320.5,339.9 L321.5,339.9 L322.5,339.9 L323.5,339.9 L324.5,339.9 L325.5,339.9 L326.5,339.8 L327.5,339.8 L328.5,339.8 L329.5,339.8 L330.5,339.8 L331.5,339.8 L332.5,339.8 L333.5,339.8 L334.5,339.8 L335.5,339.8 L336.5,339.7 L337.5,339.7 L338.5,339.7 L339.5,339.7 L340.5,339.7 L341.5,339.7 L342.5,339.6 L343.5,339.6 L344.5,339.6 L345.5,339.6 L346.5,339.5 L347.5,339.5 L348.5,339.5 L349.5,339.4 L350.5,339.4 L351.5,339.3 L352.5,339.3 L353.5,339.2 L354.5,339.2 L355.5,339.1 L356.5,339.1 L357.5,339 L358.5,338.9 L359.5,338.8 L360.5,338.7 L361.5,338.6 L362.5,338.5 L363.5,338.3 L364.5,338.2 L365.5,338 L366.5,337.9 L367.5,337.7 L368.5,337.5 L369.5,337.3 L370.5,337.1 L371.5,336.8 L372.5,336.6 L373.5,336.3 L374.5,336 L375.5,335.7 L376.5,335.4 L377.5,335 L378.5,334.6 L379.5,334.3 L380.5,333.9 L381.5,333.4 L382.5,333 L383.5,332.5 L384.5,332.1 L385.5,331.6 L386.5,331.1 L387.5,330.6 L388.5,330.1 L389.5,329.6 L390.5,329 L391.5,328.5 L392.5,327.9 L393.5,327.4 L394.5,326.9 L395.5,326.3 L396.5,325.8 L397.5,325.3 L398.5,324.8 L399.5,324.3 L400.5,323.9 L401.5,323.4 L402.5,323.9 L403.5,324.9 L404.5,325.8 L405.5,326.8 L406.5,327.6 L407.5,328.5 L408.5,329.3 L409.5,330.1 L410.5,330.8 L411.5,331.5 L412.5,332.1 L413.5,332.7 L414.5,333.3 L415.5,333.8 L416.5,334.3 L417.5,334.8 L418.5,335.2 L419.5,335.6 L420.5,335.9 L421.5,336.3 L422.5,336.6 L423.5,336.9 L424.5,337.1 L425.5,337.3 L426.5,337.6 L427.5,337.7 L428.5,337.9 L429.5,338.1 L430.5,338.2 L431.5,338.4 L432.5,338.5 L433.5,338.6 L434.5,338.7 L435.5,338.8 L436.5,338.8 L437.5,338.9 L438.5,339 L439.5,339 L440.5,339.1 L441.5,339.1 L442.5,339.2 L443.5,339.2 L444.5,339.2 L445.5,339.3 L446.5,339.3 L447.5,339.3 L448.5,339.4 L449.5,339.4 L450.5,339.4 L451.5,339.4 L452.5,339.5 L453.5,339.5 L454.5,339.5 L455.5,339.5 L456.5,339.5 L457.5,339.6 L458.5,339.6 L459.5,339.6 L460.5,339.6 L461.5,339.6 L462.5,339.6 L463.5,339.6 L464.5,339.7 L465.5,339.7 L466.5,339.7 L467.5,339.7 L468.5,339.7 L469.5,339.7 L470.5,339.7 L471.5,339.7 L472.5,339.7 L473.5,339.7 L474.5,339.8 L475.5,339.8 L476.5,339.8 L477.5,339.8 L478.5,339.8 L479.5,339.8 L480.5,339.8 L481.5,339.8 L482.5,339.8 L483.5,339.8 L484.5,339.8 L485.5,339.8 L486.5,339.8 L487.5,339.9 L488.5,339.9 L489.5,339.9 L490.5,339.9 L491.5,339.9 L492.5,339.9 L493.5,339.9 L494.5,339.9 L495.5,339.9 L496.5,339.9 L497.5,339.9 L498.5,339.9 L499.5,339.9 L500.5,339.9 L501.5,339.9 L502.5,339.9 L503.5,339.9 L504.5,339.9 L505.5,339.9 L506.5,339.9 L507.5,339.9 L508.5,340 L509.5,340 L510.5,340 L511.5,340 L512.5,340 L513.5,340 L514.5,340 L515.5,340 L516.5,340 L517.5,340 L518.5,340 L519.5,340 L520.5,340 L521.5,340 L522.5,340 L523.5,340 L524.5,340 L525.5,340 L526.5,340 L527.5,340 L528.5,340 L529.5,340 L530.5,340 L531.5,340 L532.5,340 L533.5,340 L534.5,340 L535.5,340 L536.5,340 L537.5,340 L538.5,340 L539.5,340 L540.5,340 L541.5,340 L542.5,340 L543.5,340 L543.5,340.2 L300.5,340.2 Z" fill="#8e2f45" fill-opacity="0.45"/>
<line x1="300.5" y1="340.2" x2="544.1" y2="340.2" stroke="#f08890" stroke-width="0.8"/>
<line x1="300.5" y1="340.8" x2="544.1" y2="340.8" stroke="#5a9ae0" stroke-width="1.0"/>
<polyline points="300.5,339.7 301.5,339.6 302.5,339.6 303.5,339.6 304.5,339.6 305.5,339.5 306.5,339.5 307.5,339.5 308.5,339.5 309.5,339.4 310.5,339.4 311.5,339.4 312.5,339.3 313.5,339.3 314.5,339.3 315.5,339.2 316.5,339.2 317.5,339.1 318.5,339.1 319.5,339 320.5,338.9 321.5,338.9 322.5,338.8 323.5,338.7 324.5,338.6 325.5,338.5 326.5,338.4 327.5,338.2 328.5,338.1 329.5,337.9 330.5,337.8 331.5,337.6 332.5,337.4 333.5,337.1 334.5,336.9 335.5,336.6 336.5,336.3 337.5,336 338.5,335.6 339.5,335.2 340.5,334.8 341.5,334.4 342.5,333.9 343.5,333.3 344.5,332.8 345.5,332.1 346.5,331.5 347.5,330.8 348.5,330.1 349.5,329.3 350.5,328.5 351.5,327.6 352.5,326.7 353.5,325.7 354.5,324.8 355.5,323.7 356.5,322.7 357.5,321.6 358.5,320.4 359.5,319.3 360.5,318.1 361.5,316.9 362.5,315.7 363.5,314.5 364.5,313.3 365.5,312.1 366.5,310.9 367.5,309.7 368.5,308.5 369.5,307.4 370.5,306.3 371.5,305.3 372.5,304.3 373.5,303.4 374.5,302.5 375.5,301.8 376.5,301.1 377.5,300.5 378.5,300 379.5,299.6 380.5,299.2 381.5,299 382.5,298.9 383.5,298.8 384.5,298.8 385.5,298.9 386.5,299.1 387.5,299.4 388.5,299.7 389.5,300 390.5,300.4 391.5,300.9 392.5,301.4 393.5,301.9 394.5,302.4 395.5,302.9 396.5,303.5 397.5,304.1 398.5,304.7 399.5,305.2 400.5,305.8 401.5,306.4 402.5,307 403.5,307.7 404.5,308.3 405.5,308.9 406.5,309.5 407.5,310.1 408.5,310.8 409.5,311.4 410.5,312.1 411.5,312.8 412.5,313.5 413.5,314.1 414.5,314.8 415.5,315.6 416.5,316.3 417.5,317 418.5,317.8 419.5,318.5 420.5,319.2 421.5,320 422.5,320.7 423.5,321.5 424.5,322.2 425.5,322.9 426.5,323.7 427.5,324.4 428.5,325.1 429.5,325.8 430.5,326.5 431.5,327.1 432.5,327.8 433.5,328.4 434.5,329.1 435.5,329.7 436.5,330.2 437.5,330.8 438.5,331.3 439.5,331.9 440.5,332.4 441.5,332.8 442.5,333.3 443.5,333.7 444.5,334.1 445.5,334.5 446.5,334.9 447.5,335.2 448.5,335.6 449.5,335.9 450.5,336.2 451.5,336.5 452.5,336.7 453.5,337 454.5,337.2 455.5,337.4 456.5,337.6 457.5,337.8 458.5,337.9 459.5,338.1 460.5,338.2 461.5,338.3 462.5,338.5 463.5,338.6 464.5,338.7 465.5,338.8 466.5,338.9 467.5,338.9 468.5,339 469.5,339.1 470.5,339.1 471.5,339.2 472.5,339.2 473.5,339.3 474.5,339.3 475.5,339.4 476.5,339.4 477.5,339.5 478.5,339.5 479.5,339.5 480.5,339.6 481.5,339.6 482.5,339.6 483.5,339.6 484.5,339.6 485.5,339.7 486.5,339.7 487.5,339.7 488.5,339.7 489.5,339.7 490.5,339.8 491.5,339.8 492.5,339.8 493.5,339.8 494.5,339.8 495.5,339.8 496.5,339.9 497.5,339.9 498.5,339.9 499.5,339.9 500.5,339.9 501.5,339.9 502.5,339.9 503.5,339.9 504.5,339.9 505.5,340 506.5,340 507.5,340 508.5,340 509.5,340 510.5,340 511.5,340 512.5,340 513.5,340 514.5,340 515.5,340 516.5,340 517.5,340.1 518.5,340.1 519.5,340.1 520.5,340.1 521.5,340.1 522.5,340.1 523.5,340.1 524.5,340.1 525.5,340.1 526.5,340.1 527.5,340.1 528.5,340.1 529.5,340.1 530.5,340.1 531.5,340.1 532.5,340.1 533.5,340.1 534.5,340.2 535.5,340.2 536.5,340.2 537.5,340.2 538.5,340.2 539.5,340.2 540.5,340.2 541.5,340.2 542.5,340.2 543.5,340.2 544.1,340.2" fill="none" stroke="#f0a0a8" stroke-width="0.7" stroke-linejoin="round" />
<polyline points="300.5,339.7 301.5,339.6 302.5,339.6 303.5,339.6 304.5,339.6 305.5,339.5 306.5,339.5 307.5,339.5 308.5,339.5 309.5,339.4 310.5,339.4 311.5,339.4 312.5,339.3 313.5,339.3 314.5,339.3 315.5,339.2 316.5,339.2 317.5,339.1 318.5,339.1 319.5,339 320.5,338.9 321.5,338.9 322.5,338.8 323.5,338.7 324.5,338.6 325.5,338.5 326.5,338.4 327.5,338.2 328.5,338.1 329.5,337.9 330.5,337.8 331.5,337.6 332.5,337.4 333.5,337.1 334.5,336.9 335.5,336.6 336.5,336.3 337.5,336 338.5,335.6 339.5,335.2 340.5,334.8 341.5,334.4 342.5,333.9 343.5,333.3 344.5,332.8 345.5,332.1 346.5,331.5 347.5,330.8 348.5,330.1 349.5,329.3 350.5,328.5 351.5,327.6 352.5,326.7 353.5,325.7 354.5,324.8 355.5,323.7 356.5,322.7 357.5,321.6 358.5,320.4 359.5,319.3 360.5,318.1 361.5,316.9 362.5,315.7 363.5,314.5 364.5,313.3 365.5,312.1 366.5,310.9 367.5,309.7 368.5,308.5 369.5,307.4 370.5,306.3 371.5,305.3 372.5,304.3 373.5,303.4 374.5,302.5 375.5,301.8 376.5,301.1 377.5,300.5 378.5,300 379.5,299.6 380.5,299.2 381.5,299 382.5,298.9 383.5,298.8 384.5,298.8 385.5,298.9 386.5,299.1 387.5,299.4 388.5,299.7 389.5,300 390.5,300.4 391.5,300.9 392.5,301.4 393.5,301.9 394.5,302.4 395.5,302.9 396.5,303.5 397.5,304.1 398.5,304.7 399.5,305.2 400.5,305.8 401.5,306.4 402.5,307 403.5,307.7 404.5,308.3 405.5,308.9 406.5,309.5 407.5,310.1 408.5,310.8 409.5,311.4 410.5,312.1 411.5,312.8 412.5,313.5 413.5,314.1 414.5,314.8 415.5,315.6 416.5,316.3 417.5,317 418.5,317.8 419.5,318.5 420.5,319.2 421.5,320 422.5,320.7 423.5,321.5 424.5,322.2 425.5,322.9 426.5,323.7 427.5,324.4 428.5,325.1 429.5,325.8 430.5,326.5 431.5,327.1 432.5,327.8 433.5,328.4 434.5,329.1 435.5,329.7 436.5,330.2 437.5,330.8 438.5,331.3 439.5,331.9 440.5,332.4 441.5,332.8 442.5,333.3 443.5,333.7 444.5,334.1 445.5,334.5 446.5,334.9 447.5,335.2 448.5,335.6 449.5,335.9 450.5,336.2 451.5,336.5 452.5,336.7 453.5,337 454.5,337.2 455.5,337.4 456.5,337.6 457.5,337.8 458.5,337.9 459.5,338.1 460.5,338.2 461.5,338.3 462.5,338.5 463.5,338.6 464.5,338.7 465.5,338.8 466.5,338.9 467.5,338.9 468.5,339 469.5,339.1 470.5,339.1 471.5,339.2 472.5,339.2 473.5,339.3 474.5,339.3 475.5,339.4 476.5,339.4 477.5,339.5 478.5,339.5 479.5,339.5 480.5,339.6 481.5,339.6 482.5,339.6 483.5,339.6 484.5,339.6 485.5,339.7 486.5,339.7 487.5,339.7 488.5,339.7 489.5,339.7 490.5,339.8 491.5,339.8 492.5,339.8 493.5,339.8 494.5,339.8 495.5,339.8 496.5,339.9 497.5,339.9 498.5,339.9 499.5,339.9 500.5,339.9 501.5,339.9 502.5,339.9 503.5,339.9 504.5,339.9 505.5,340 506.5,340 507.5,340 508.5,340 509.5,340 510.5,340 511.5,340 512.5,340 513.5,340 514.5,340 515.5,340 516.5,340 517.5,340.1 518.5,340.1 519.5,340.1 520.5,340.1 521.5,340.1 522.5,340.1 523.5,340.1 524.5,340.1 525.5,340.1 526.5,340.1 527.5,340.1 528.5,340.1 529.5,340.1 530.5,340.1 531.5,340.1 532.5,340.1 533.5,340.1 534.5,340.2 535.5,340.2 536.5,340.2 537.5,340.2 538.5,340.2 539.5,340.2 540.5,340.2 541.5,340.2 542.5,340.2 543.5,340.2 544.1,340.2" fill="none" stroke="#a8def2" stroke-width="0.9" stroke-linejoin="round" stroke-dasharray="1,1.3"/>
<line x1="349.3" y1="212.5" x2="349.3" y2="341" stroke="#404040" stroke-width="1.2" stroke-dasharray="4.2,3.8"/>
<line x1="385.7" y1="247.5" x2="385.7" y2="341" stroke="#404040" stroke-width="1.2" stroke-dasharray="4.2,3.8"/>
<rect x="300.5" y="199" width="243.6" height="153" fill="none" stroke="#383838" stroke-width="1.4"/>
<line x1="300.5" y1="274.7" x2="544.1" y2="274.7" stroke="#383838" stroke-width="1.3"/>
<line x1="366.9" y1="352" x2="366.9" y2="349" stroke="#383838" stroke-width="1.1"/>
<line x1="477.7" y1="352" x2="477.7" y2="349" stroke="#383838" stroke-width="1.1"/>
<line x1="311.6" y1="352" x2="311.6" y2="350.2" stroke="#383838" stroke-width="1"/>
<line x1="422.3" y1="352" x2="422.3" y2="350.2" stroke="#383838" stroke-width="1"/>
<line x1="533" y1="352" x2="533" y2="350.2" stroke="#383838" stroke-width="1"/>
<text transform="translate(366.9,363.2) scale(1,0.92)" font-size="8.5" text-anchor="middle" >530</text>
<text transform="translate(477.7,363.2) scale(1,0.92)" font-size="8.5" text-anchor="middle" >535</text>
<text transform="translate(283.8,210.7) scale(1,1.1)" font-size="10.8" text-anchor="start" >(e)</text>
<text transform="translate(304.2,210.7) scale(1,1.1)" font-size="8.4" text-anchor="start" >O 1s</text>
<text transform="translate(357.6,214.4) scale(1,1.1)" font-size="8.6" text-anchor="start" textLength="17.8" lengthAdjust="spacingAndGlyphs" >Bi-O</text>
<line x1="358" y1="213.5" x2="355.1" y2="215.6" stroke="#222" stroke-width="0.8"/>
<path d="M352.5,217.5 L354.1,214.3 L356,216.9 Z" fill="#222"/>
<text transform="translate(380.5,235.5) scale(1,1.1)" font-size="8.6" text-anchor="start" textLength="16.5" lengthAdjust="spacingAndGlyphs" >O-H</text>
<text transform="translate(516.4,210.1) scale(1,1.1)" font-size="8.8" text-anchor="start" textLength="23.4" lengthAdjust="spacingAndGlyphs" >BiOCl</text>
<text transform="translate(305,286.8) scale(1,1.1)" font-size="8.4" text-anchor="start" >O 1s</text>
<text transform="translate(490.2,286.8) scale(1,1.1)" font-size="8.6" text-anchor="start" textLength="50.8" lengthAdjust="spacingAndGlyphs" >PCN/BiOCl-0</text>
<text transform="translate(374.3,378.7) scale(1,1.03)" font-size="10.6" text-anchor="start" textLength="98" lengthAdjust="spacing" >Binding Energy (eV)</text>
<text transform="translate(294.8,279.2) rotate(-90)" font-size="11.8" text-anchor="middle" textLength="65.5" lengthAdjust="spacingAndGlyphs">Intensity (a.u.)</text>
<path d="M303.1,456.9 L304.1,456.9 L305.1,456.9 L306.1,456.9 L307.1,456.9 L308.1,456.9 L309.1,456.9 L310.1,456.9 L311.1,456.9 L312.1,456.9 L313.1,456.9 L314.1,456.9 L315.1,456.9 L316.1,456.9 L317.1,456.9 L318.1,456.9 L319.1,456.9 L320.1,456.9 L321.1,456.9 L322.1,456.9 L323.1,456.9 L324.1,456.9 L325.1,456.9 L326.1,456.9 L327.1,456.8 L328.1,456.8 L329.1,456.8 L330.1,456.8 L331.1,456.8 L332.1,456.8 L333.1,456.8 L334.1,456.8 L335.1,456.8 L336.1,456.8 L337.1,456.8 L338.1,456.8 L339.1,456.8 L340.1,456.8 L341.1,456.8 L342.1,456.8 L343.1,456.8 L344.1,456.8 L345.1,456.8 L346.1,456.8 L347.1,456.7 L348.1,456.7 L349.1,456.7 L350.1,456.7 L351.1,456.7 L352.1,456.7 L353.1,456.7 L354.1,456.7 L355.1,456.7 L356.1,456.7 L357.1,456.6 L358.1,456.6 L359.1,456.6 L360.1,456.6 L361.1,456.6 L362.1,456.6 L363.1,456.6 L364.1,456.5 L365.1,456.5 L366.1,456.5 L367.1,456.5 L368.1,456.4 L369.1,456.4 L370.1,456.3 L371.1,456.3 L372.1,456.2 L373.1,456.2 L374.1,456.1 L375.1,456 L376.1,455.9 L377.1,455.8 L378.1,455.7 L379.1,455.5 L380.1,455.4 L381.1,455.2 L382.1,455 L383.1,454.7 L384.1,454.4 L385.1,454.1 L386.1,453.8 L387.1,453.4 L388.1,453 L389.1,452.5 L390.1,452 L391.1,451.4 L392.1,450.8 L393.1,450.2 L394.1,449.5 L395.1,448.8 L396.1,448 L397.1,447.2 L398.1,446.4 L399.1,445.6 L400.1,444.7 L401.1,443.9 L402.1,443.1 L403.1,442.2 L404.1,441.5 L405.1,440.7 L406.1,440.1 L407.1,439.5 L408.1,438.9 L409.1,438.5 L410.1,438.2 L411.1,438 L412.1,437.9 L413.1,437.9 L414.1,438.1 L415.1,438.4 L416.1,438.8 L417.1,439.2 L418.1,439.8 L419.1,440.5 L420.1,441.2 L421.1,441.9 L422.1,442.7 L423.1,443.6 L424.1,444.4 L425.1,445.2 L426.1,446.1 L427.1,446.9 L428.1,447.7 L429.1,448.5 L430.1,449.2 L431.1,449.9 L432.1,450.6 L433.1,451.2 L434.1,451.8 L435.1,452.3 L436.1,452.8 L437.1,453.2 L438.1,453.6 L439.1,454 L440.1,454.3 L441.1,454.6 L442.1,454.9 L443.1,455.1 L444.1,455.3 L445.1,455.5 L446.1,455.6 L447.1,455.8 L448.1,455.9 L449.1,456 L450.1,456.1 L451.1,456.2 L452.1,456.2 L453.1,456.3 L454.1,456.3 L455.1,456.4 L456.1,456.4 L457.1,456.4 L458.1,456.5 L459.1,456.5 L460.1,456.5 L461.1,456.5 L462.1,456.6 L463.1,456.6 L464.1,456.6 L465.1,456.6 L466.1,456.6 L467.1,456.6 L468.1,456.7 L469.1,456.7 L470.1,456.7 L471.1,456.7 L472.1,456.7 L473.1,456.7 L474.1,456.7 L475.1,456.7 L476.1,456.7 L477.1,456.7 L478.1,456.7 L479.1,456.8 L480.1,456.8 L481.1,456.8 L482.1,456.8 L483.1,456.8 L484.1,456.8 L485.1,456.8 L486.1,456.8 L487.1,456.8 L488.1,456.8 L489.1,456.8 L490.1,456.8 L491.1,456.8 L492.1,456.8 L493.1,456.8 L494.1,456.8 L495.1,456.8 L496.1,456.8 L497.1,456.8 L498.1,456.8 L499.1,456.9 L500.1,456.9 L501.1,456.9 L502.1,456.9 L503.1,456.9 L504.1,456.9 L505.1,456.9 L506.1,456.9 L507.1,456.9 L508.1,456.9 L509.1,456.9 L510.1,456.9 L511.1,456.9 L512.1,456.9 L513.1,456.9 L514.1,456.9 L515.1,456.9 L516.1,456.9 L517.1,456.9 L518.1,456.9 L519.1,456.9 L520.1,456.9 L521.1,456.9 L522.1,456.9 L523.1,456.9 L524.1,456.9 L525.1,456.9 L526.1,456.9 L527.1,456.9 L528.1,456.9 L529.1,456.9 L530.1,456.9 L531.1,456.9 L532.1,456.9 L533.1,456.9 L534.1,456.9 L535.1,456.9 L536.1,456.9 L537.1,456.9 L538,456.9 L538,457 L303.1,457 Z" fill="url(#gb)" fill-opacity="1.0"/>
<path d="M303.1,455.8 L304.1,455.7 L305.1,455.7 L306.1,455.6 L307.1,455.5 L308.1,455.4 L309.1,455.2 L310.1,455.1 L311.1,454.9 L312.1,454.7 L313.1,454.5 L314.1,454.2 L315.1,453.9 L316.1,453.6 L317.1,453.2 L318.1,452.7 L319.1,452.2 L320.1,451.7 L321.1,451 L322.1,450.3 L323.1,449.6 L324.1,448.7 L325.1,447.7 L326.1,446.7 L327.1,445.6 L328.1,444.3 L329.1,443 L330.1,441.6 L331.1,440.1 L332.1,438.6 L333.1,437 L334.1,435.3 L335.1,433.5 L336.1,431.8 L337.1,430 L338.1,428.2 L339.1,426.4 L340.1,424.7 L341.1,423 L342.1,421.4 L343.1,419.9 L344.1,418.6 L345.1,417.5 L346.1,416.5 L347.1,415.7 L348.1,415.2 L349.1,414.9 L350.1,414.9 L351.1,415.1 L352.1,415.6 L353.1,416.3 L354.1,417.3 L355.1,418.4 L356.1,419.7 L357.1,421.1 L358.1,422.7 L359.1,424.3 L360.1,426 L361.1,427.8 L362.1,429.6 L363.1,431.4 L364.1,433.2 L365.1,434.9 L366.1,436.6 L367.1,438.3 L368.1,439.8 L369.1,441.3 L370.1,442.8 L371.1,444.1 L372.1,445.3 L373.1,446.5 L374.1,447.5 L375.1,448.5 L376.1,449.4 L377.1,450.2 L378.1,450.9 L379.1,451.6 L380.1,452.1 L381.1,452.6 L382.1,453.1 L383.1,453.5 L384.1,453.8 L385.1,454.2 L386.1,454.4 L387.1,454.7 L388.1,454.9 L389.1,455 L390.1,455.2 L391.1,455.3 L392.1,455.4 L393.1,455.5 L394.1,455.6 L395.1,455.7 L396.1,455.8 L397.1,455.9 L398.1,455.9 L399.1,456 L400.1,456 L401.1,456 L402.1,456.1 L403.1,456.1 L404.1,456.2 L405.1,456.2 L406.1,456.2 L407.1,456.2 L408.1,456.3 L409.1,456.3 L410.1,456.3 L411.1,456.3 L412.1,456.3 L413.1,456.4 L414.1,456.4 L415.1,456.4 L416.1,456.4 L417.1,456.4 L418.1,456.5 L419.1,456.5 L420.1,456.5 L421.1,456.5 L422.1,456.5 L423.1,456.5 L424.1,456.5 L425.1,456.5 L426.1,456.6 L427.1,456.6 L428.1,456.6 L429.1,456.6 L430.1,456.6 L431.1,456.6 L432.1,456.6 L433.1,456.6 L434.1,456.6 L435.1,456.6 L436.1,456.7 L437.1,456.7 L438.1,456.7 L439.1,456.7 L440.1,456.7 L441.1,456.7 L442.1,456.7 L443.1,456.7 L444.1,456.7 L445.1,456.7 L446.1,456.7 L447.1,456.7 L448.1,456.7 L449.1,456.7 L450.1,456.7 L451.1,456.7 L452.1,456.7 L453.1,456.8 L454.1,456.8 L455.1,456.8 L456.1,456.8 L457.1,456.8 L458.1,456.8 L459.1,456.8 L460.1,456.8 L461.1,456.8 L462.1,456.8 L463.1,456.8 L464.1,456.8 L465.1,456.8 L466.1,456.8 L467.1,456.8 L468.1,456.8 L469.1,456.8 L470.1,456.8 L471.1,456.8 L472.1,456.8 L473.1,456.8 L474.1,456.8 L475.1,456.8 L476.1,456.8 L477.1,456.8 L478.1,456.8 L479.1,456.8 L480.1,456.8 L481.1,456.8 L482.1,456.8 L483.1,456.9 L484.1,456.9 L485.1,456.9 L486.1,456.9 L487.1,456.9 L488.1,456.9 L489.1,456.9 L490.1,456.9 L491.1,456.9 L492.1,456.9 L493.1,456.9 L494.1,456.9 L495.1,456.9 L496.1,456.9 L497.1,456.9 L498.1,456.9 L499.1,456.9 L500.1,456.9 L501.1,456.9 L502.1,456.9 L503.1,456.9 L504.1,456.9 L505.1,456.9 L506.1,456.9 L507.1,456.9 L508.1,456.9 L509.1,456.9 L510.1,456.9 L511.1,456.9 L512.1,456.9 L513.1,456.9 L514.1,456.9 L515.1,456.9 L516.1,456.9 L517.1,456.9 L518.1,456.9 L519.1,456.9 L520.1,456.9 L521.1,456.9 L522.1,456.9 L523.1,456.9 L524.1,456.9 L525.1,456.9 L526.1,456.9 L527.1,456.9 L528.1,456.9 L529.1,456.9 L530.1,456.9 L531.1,456.9 L532.1,456.9 L533.1,456.9 L534.1,456.9 L535.1,456.9 L536.1,456.9 L537.1,456.9 L538,456.9 L538,457 L303.1,457 Z" fill="url(#gr)" fill-opacity="1.0"/>
<path d="M303.1,456.9 L304.1,456.9 L305.1,456.9 L306.1,456.9 L307.1,456.9 L308.1,456.9 L309.1,456.9 L310.1,456.9 L311.1,456.9 L312.1,456.9 L313.1,456.9 L314.1,456.9 L315.1,456.9 L316.1,456.9 L317.1,456.9 L318.1,456.9 L319.1,456.9 L320.1,456.9 L321.1,456.9 L322.1,456.9 L323.1,456.9 L324.1,456.9 L325.1,456.9 L326.1,456.9 L327.1,456.8 L328.1,456.8 L329.1,456.8 L330.1,456.8 L331.1,456.8 L332.1,456.8 L333.1,456.8 L334.1,456.8 L335.1,456.8 L336.1,456.8 L337.1,456.8 L338.1,456.8 L339.1,456.8 L340.1,456.8 L341.1,456.8 L342.1,456.8 L343.1,456.8 L344.1,456.8 L345.1,456.8 L346.1,456.8 L347.1,456.7 L348.1,456.7 L349.1,456.7 L350.1,456.7 L351.1,456.7 L352.1,456.7 L353.1,456.7 L354.1,456.7 L355.1,456.7 L356.1,456.7 L357.1,456.6 L358.1,456.6 L359.1,456.6 L360.1,456.6 L361.1,456.6 L362.1,456.6 L363.1,456.6 L364.1,456.5 L365.1,456.5 L366.1,456.5 L367.1,456.5 L368.1,456.4 L369.1,456.4 L370.1,456.3 L371.1,456.3 L372.1,456.2 L373.1,456.2 L374.1,456.1 L375.1,456 L376.1,455.9 L377.1,455.8 L378.1,455.7 L379.1,455.5 L380.1,455.4 L381.1,455.2 L382.1,455 L383.1,454.7 L384.1,454.4 L385.1,454.2 L386.1,454.4 L387.1,454.7 L388.1,454.9 L389.1,455 L390.1,455.2 L391.1,455.3 L392.1,455.4 L393.1,455.5 L394.1,455.6 L395.1,455.7 L396.1,455.8 L397.1,455.9 L398.1,455.9 L399.1,456 L400.1,456 L401.1,456 L402.1,456.1 L403.1,456.1 L404.1,456.2 L405.1,456.2 L406.1,456.2 L407.1,456.2 L408.1,456.3 L409.1,456.3 L410.1,456.3 L411.1,456.3 L412.1,456.3 L413.1,456.4 L414.1,456.4 L415.1,456.4 L416.1,456.4 L417.1,456.4 L418.1,456.5 L419.1,456.5 L420.1,456.5 L421.1,456.5 L422.1,456.5 L423.1,456.5 L424.1,456.5 L425.1,456.5 L426.1,456.6 L427.1,456.6 L428.1,456.6 L429.1,456.6 L430.1,456.6 L431.1,456.6 L432.1,456.6 L433.1,456.6 L434.1,456.6 L435.1,456.6 L436.1,456.7 L437.1,456.7 L438.1,456.7 L439.1,456.7 L440.1,456.7 L441.1,456.7 L442.1,456.7 L443.1,456.7 L444.1,456.7 L445.1,456.7 L446.1,456.7 L447.1,456.7 L448.1,456.7 L449.1,456.7 L450.1,456.7 L451.1,456.7 L452.1,456.7 L453.1,456.8 L454.1,456.8 L455.1,456.8 L456.1,456.8 L457.1,456.8 L458.1,456.8 L459.1,456.8 L460.1,456.8 L461.1,456.8 L462.1,456.8 L463.1,456.8 L464.1,456.8 L465.1,456.8 L466.1,456.8 L467.1,456.8 L468.1,456.8 L469.1,456.8 L470.1,456.8 L471.1,456.8 L472.1,456.8 L473.1,456.8 L474.1,456.8 L475.1,456.8 L476.1,456.8 L477.1,456.8 L478.1,456.8 L479.1,456.8 L480.1,456.8 L481.1,456.8 L482.1,456.8 L483.1,456.9 L484.1,456.9 L485.1,456.9 L486.1,456.9 L487.1,456.9 L488.1,456.9 L489.1,456.9 L490.1,456.9 L491.1,456.9 L492.1,456.9 L493.1,456.9 L494.1,456.9 L495.1,456.9 L496.1,456.9 L497.1,456.9 L498.1,456.9 L499.1,456.9 L500.1,456.9 L501.1,456.9 L502.1,456.9 L503.1,456.9 L504.1,456.9 L505.1,456.9 L506.1,456.9 L507.1,456.9 L508.1,456.9 L509.1,456.9 L510.1,456.9 L511.1,456.9 L512.1,456.9 L513.1,456.9 L514.1,456.9 L515.1,456.9 L516.1,456.9 L517.1,456.9 L518.1,456.9 L519.1,456.9 L520.1,456.9 L521.1,456.9 L522.1,456.9 L523.1,456.9 L524.1,456.9 L525.1,456.9 L526.1,456.9 L527.1,456.9 L528.1,456.9 L529.1,456.9 L530.1,456.9 L531.1,456.9 L532.1,456.9 L533.1,456.9 L534.1,456.9 L535.1,456.9 L536.1,456.9 L537.1,456.9 L537.1,457 L303.1,457 Z" fill="#8e2f45" fill-opacity="0.45"/>
<line x1="303.1" y1="457" x2="538" y2="457" stroke="#f08890" stroke-width="0.8"/>
<line x1="303.1" y1="458.3" x2="538" y2="458.3" stroke="#90d0f0" stroke-width="1.3"/>
<polyline points="303.1,456 304.1,455.9 305.1,455.9 306.1,455.8 307.1,455.7 308.1,455.5 309.1,455.4 310.1,455.3 311.1,455.1 312.1,454.9 313.1,454.7 314.1,454.4 315.1,454.1 316.1,453.7 317.1,453.4 318.1,452.9 319.1,452.4 320.1,451.8 321.1,451.2 322.1,450.5 323.1,449.7 324.1,448.8 325.1,447.9 326.1,446.8 327.1,445.7 328.1,444.5 329.1,443.2 330.1,441.8 331.1,440.3 332.1,438.7 333.1,437.1 334.1,435.4 335.1,433.6 336.1,431.9 337.1,430.1 338.1,428.3 339.1,426.5 340.1,424.7 341.1,423.1 342.1,421.5 343.1,420 344.1,418.7 345.1,417.5 346.1,416.5 347.1,415.8 348.1,415.3 349.1,415 350.1,414.9 351.1,415.2 352.1,415.6 353.1,416.3 354.1,417.2 355.1,418.3 356.1,419.6 357.1,421.1 358.1,422.6 359.1,424.2 360.1,425.9 361.1,427.7 362.1,429.5 363.1,431.3 364.1,433 365.1,434.7 366.1,436.4 367.1,438 368.1,439.6 369.1,441 370.1,442.4 371.1,443.7 372.1,444.9 373.1,446 374.1,446.9 375.1,447.8 376.1,448.6 377.1,449.3 378.1,449.9 379.1,450.4 380.1,450.8 381.1,451.1 382.1,451.4 383.1,451.5 384.1,451.6 385.1,451.6 386.1,451.5 387.1,451.4 388.1,451.1 389.1,450.8 390.1,450.5 391.1,450 392.1,449.6 393.1,449 394.1,448.4 395.1,447.8 396.1,447.1 397.1,446.4 398.1,445.6 399.1,444.8 400.1,444 401.1,443.2 402.1,442.4 403.1,441.7 404.1,440.9 405.1,440.2 406.1,439.6 407.1,439 408.1,438.5 409.1,438.1 410.1,437.8 411.1,437.6 412.1,437.6 413.1,437.6 414.1,437.8 415.1,438.1 416.1,438.5 417.1,439 418.1,439.6 419.1,440.2 420.1,441 421.1,441.7 422.1,442.5 423.1,443.4 424.1,444.2 425.1,445.1 426.1,445.9 427.1,446.8 428.1,447.6 429.1,448.3 430.1,449.1 431.1,449.8 432.1,450.5 433.1,451.1 434.1,451.7 435.1,452.2 436.1,452.7 437.1,453.2 438.1,453.6 439.1,454 440.1,454.3 441.1,454.6 442.1,454.9 443.1,455.1 444.1,455.3 445.1,455.5 446.1,455.7 447.1,455.8 448.1,455.9 449.1,456 450.1,456.1 451.1,456.2 452.1,456.3 453.1,456.3 454.1,456.4 455.1,456.4 456.1,456.5 457.1,456.5 458.1,456.6 459.1,456.6 460.1,456.6 461.1,456.6 462.1,456.7 463.1,456.7 464.1,456.7 465.1,456.7 466.1,456.7 467.1,456.8 468.1,456.8 469.1,456.8 470.1,456.8 471.1,456.8 472.1,456.8 473.1,456.8 474.1,456.8 475.1,456.9 476.1,456.9 477.1,456.9 478.1,456.9 479.1,456.9 480.1,456.9 481.1,456.9 482.1,456.9 483.1,456.9 484.1,456.9 485.1,456.9 486.1,457 487.1,457 488.1,457 489.1,457 490.1,457 491.1,457 492.1,457 493.1,457 494.1,457 495.1,457 496.1,457 497.1,457 498.1,457 499.1,457 500.1,457 501.1,457 502.1,457 503.1,457.1 504.1,457.1 505.1,457.1 506.1,457.1 507.1,457.1 508.1,457.1 509.1,457.1 510.1,457.1 511.1,457.1 512.1,457.1 513.1,457.1 514.1,457.1 515.1,457.1 516.1,457.1 517.1,457.1 518.1,457.1 519.1,457.1 520.1,457.1 521.1,457.1 522.1,457.1 523.1,457.1 524.1,457.1 525.1,457.1 526.1,457.1 527.1,457.1 528.1,457.1 529.1,457.1 530.1,457.1 531.1,457.1 532.1,457.1 533.1,457.1 534.1,457.1 535.1,457.1 536.1,457.1 537.1,457.2 538,457.2" fill="none" stroke="#a8def2" stroke-width="0.9" stroke-linejoin="round" stroke-dasharray="1,1.3"/>
<polyline points="303.6,534 305.8,512.2 307.3,528.2 308.7,528.9 310.9,529.6 313.1,531.1 314.5,530.4 316,538.4 317.5,544.9 319.6,536.2 321.8,534 324,529.6 326.9,519.5 328.4,523.8 329.8,528.2 331.3,542.7 332.3,528.2 334.2,513.6 335.6,512.9 337.1,520.9 339.3,521.6 341.5,525.3 343.6,523.8 345.8,518 348,516.5 349.5,507.8 350.9,501.3 352.7,504.9 354.5,499.1 356.7,493.3 358.2,500.5 359.9,490.4 361.8,486.7 364,486 366.2,487.5 368.4,494.7 369.8,498.4 372,492.5 373.5,495.5 375.6,493.3 376.8,478.7 377.9,496.2 380.1,518 380.8,526.7 383,510.7 385.9,507.8 388.1,516.5 390.3,497.6 392.5,503.5 395.4,509.3 397.5,519.5 399.7,536.2 401.9,509.3 404.1,512.2 407,519.5 409.2,527.5 411.4,513.6 413.5,529.6 415.7,519.5 417.9,508.5 420.1,525.3 423,516.5 425.2,525.3 428.1,515.1 431,510.7 433.2,505.6 435.4,512.2 438.3,519.5 441.2,505.6 443.4,512.2 446.3,515.1 448.5,511.5 450.6,512.9 453.5,507.8 455.7,506.8 459,513.4 463.1,535.5 465.5,517.5 468.8,503.6 470.5,512.6 472.9,492.9 475.4,515.8 478.6,514.2 481.1,520.7 483.6,525.6 488.5,517.5 491.7,530.6 496.6,521.6 499.1,535.5 503.5,527 508.1,524 510.6,543.6 513,532.2 514.6,538.7 517.1,542 519.6,535.5 522,527.3 524.5,534.6 526.9,524 528.6,537.1 531,530.6 535.1,517.5 537.9,524" fill="none" stroke="#5cc8f5" stroke-width="1.0" stroke-linejoin="round" />
<path d="M303.1,534.1 L304.1,534.1 L305.1,534.1 L306.1,534.1 L307.1,534 L308.1,534 L309.1,534 L310.1,534 L311.1,534 L312.1,534 L313.1,534 L314.1,534 L315.1,534 L316.1,534 L317.1,534 L318.1,534 L319.1,534 L320.1,534 L321.1,534 L322.1,534 L323.1,534 L324.1,534 L325.1,534 L326.1,534 L327.1,534 L328.1,534 L329.1,534 L330.1,534 L331.1,534 L332.1,534 L333.1,534 L334.1,534 L335.1,534 L336.1,534 L337.1,534 L338.1,534 L339.1,534 L340.1,534 L341.1,533.9 L342.1,533.9 L343.1,533.9 L344.1,533.9 L345.1,533.9 L346.1,533.9 L347.1,533.9 L348.1,533.9 L349.1,533.9 L350.1,533.9 L351.1,533.9 L352.1,533.9 L353.1,533.9 L354.1,533.9 L355.1,533.9 L356.1,533.9 L357.1,533.9 L358.1,533.9 L359.1,533.8 L360.1,533.8 L361.1,533.8 L362.1,533.8 L363.1,533.8 L364.1,533.8 L365.1,533.8 L366.1,533.8 L367.1,533.8 L368.1,533.8 L369.1,533.8 L370.1,533.7 L371.1,533.7 L372.1,533.7 L373.1,533.7 L374.1,533.7 L375.1,533.7 L376.1,533.7 L377.1,533.6 L378.1,533.6 L379.1,533.6 L380.1,533.6 L381.1,533.6 L382.1,533.5 L383.1,533.5 L384.1,533.5 L385.1,533.4 L386.1,533.4 L387.1,533.4 L388.1,533.3 L389.1,533.3 L390.1,533.2 L391.1,533.2 L392.1,533.1 L393.1,533 L394.1,533 L395.1,532.9 L396.1,532.8 L397.1,532.7 L398.1,532.6 L399.1,532.5 L400.1,532.4 L401.1,532.2 L402.1,532.1 L403.1,531.9 L404.1,531.8 L405.1,531.6 L406.1,531.4 L407.1,531.2 L408.1,530.9 L409.1,530.7 L410.1,530.5 L411.1,530.2 L412.1,529.9 L413.1,529.6 L414.1,529.3 L415.1,528.9 L416.1,528.5 L417.1,528.2 L418.1,527.8 L419.1,527.3 L420.1,526.9 L421.1,526.5 L422.1,526 L423.1,525.5 L424.1,525 L425.1,524.5 L426.1,524 L427.1,523.4 L428.1,522.9 L429.1,522.3 L430.1,521.8 L431.1,521.2 L432.1,520.6 L433.1,520.1 L434.1,519.5 L435.1,518.9 L436.1,518.4 L437.1,517.8 L438.1,517.3 L439.1,516.8 L440.1,516.3 L441.1,515.9 L442.1,515.5 L443.1,515.1 L444.1,514.7 L445.1,514.4 L446.1,514.1 L447.1,513.9 L448.1,513.7 L449.1,513.5 L450.1,513.4 L451.1,513.4 L452.1,513.4 L453.1,513.5 L454.1,513.6 L455.1,513.7 L456.1,514 L457.1,514.2 L458.1,514.5 L459.1,514.8 L460.1,515.2 L461.1,515.6 L462.1,516.1 L463.1,516.5 L464.1,517 L465.1,517.5 L466.1,518.1 L467.1,518.6 L468.1,519.2 L469.1,519.7 L470.1,520.3 L471.1,520.8 L472.1,521.4 L473.1,522 L474.1,522.5 L475.1,523.1 L476.1,523.6 L477.1,524.2 L478.1,524.7 L479.1,525.2 L480.1,525.7 L481.1,526.2 L482.1,526.6 L483.1,527.1 L484.1,527.5 L485.1,527.9 L486.1,528.3 L487.1,528.7 L488.1,529 L489.1,529.4 L490.1,529.7 L491.1,530 L492.1,530.3 L493.1,530.6 L494.1,530.8 L495.1,531 L496.1,531.3 L497.1,531.5 L498.1,531.7 L499.1,531.8 L500.1,532 L501.1,532.1 L502.1,532.3 L503.1,532.4 L504.1,532.5 L505.1,532.6 L506.1,532.7 L507.1,532.8 L508.1,532.9 L509.1,533 L510.1,533.1 L511.1,533.1 L512.1,533.2 L513.1,533.2 L514.1,533.3 L515.1,533.3 L516.1,533.4 L517.1,533.4 L518.1,533.4 L519.1,533.5 L520.1,533.5 L521.1,533.5 L522.1,533.6 L523.1,533.6 L524.1,533.6 L525.1,533.6 L526.1,533.6 L527.1,533.7 L528.1,533.7 L529.1,533.7 L530.1,533.7 L531.1,533.7 L532.1,533.7 L533.1,533.7 L534.1,533.8 L535.1,533.8 L536.1,533.8 L537.1,533.8 L538,533.8 L538,534.2 L303.1,534.2 Z" fill="url(#gb)" fill-opacity="0.9"/>
<path d="M303.1,533.1 L304.1,533.1 L305.1,533.1 L306.1,533 L307.1,533 L308.1,532.9 L309.1,532.8 L310.1,532.8 L311.1,532.7 L312.1,532.6 L313.1,532.5 L314.1,532.4 L315.1,532.3 L316.1,532.2 L317.1,532 L318.1,531.9 L319.1,531.7 L320.1,531.5 L321.1,531.3 L322.1,531.1 L323.1,530.8 L324.1,530.5 L325.1,530.2 L326.1,529.9 L327.1,529.5 L328.1,529.1 L329.1,528.7 L330.1,528.2 L331.1,527.7 L332.1,527.2 L333.1,526.6 L334.1,526 L335.1,525.3 L336.1,524.6 L337.1,523.8 L338.1,523 L339.1,522.2 L340.1,521.3 L341.1,520.3 L342.1,519.3 L343.1,518.3 L344.1,517.3 L345.1,516.2 L346.1,515.1 L347.1,513.9 L348.1,512.7 L349.1,511.5 L350.1,510.3 L351.1,509.1 L352.1,507.9 L353.1,506.7 L354.1,505.5 L355.1,504.3 L356.1,503.2 L357.1,502.1 L358.1,501 L359.1,500 L360.1,499.1 L361.1,498.2 L362.1,497.4 L363.1,496.8 L364.1,496.2 L365.1,495.7 L366.1,495.4 L367.1,495.1 L368.1,495 L369.1,495 L370.1,495.2 L371.1,495.4 L372.1,495.8 L373.1,496.3 L374.1,496.9 L375.1,497.6 L376.1,498.4 L377.1,499.3 L378.1,500.2 L379.1,501.2 L380.1,502.3 L381.1,503.4 L382.1,504.6 L383.1,505.7 L384.1,506.9 L385.1,508.1 L386.1,509.4 L387.1,510.6 L388.1,511.8 L389.1,513 L390.1,514.1 L391.1,515.3 L392.1,516.4 L393.1,517.5 L394.1,518.5 L395.1,519.5 L396.1,520.5 L397.1,521.4 L398.1,522.3 L399.1,523.2 L400.1,524 L401.1,524.7 L402.1,525.4 L403.1,526.1 L404.1,526.7 L405.1,527.3 L406.1,527.8 L407.1,528.3 L408.1,528.8 L409.1,529.2 L410.1,529.6 L411.1,530 L412.1,530.3 L413.1,530.6 L414.1,530.9 L415.1,531.1 L416.1,531.3 L417.1,531.5 L418.1,531.7 L419.1,531.9 L420.1,532 L421.1,532.2 L422.1,532.3 L423.1,532.4 L424.1,532.5 L425.1,532.6 L426.1,532.7 L427.1,532.8 L428.1,532.8 L429.1,532.9 L430.1,533 L431.1,533 L432.1,533.1 L433.1,533.1 L434.1,533.1 L435.1,533.2 L436.1,533.2 L437.1,533.3 L438.1,533.3 L439.1,533.3 L440.1,533.3 L441.1,533.4 L442.1,533.4 L443.1,533.4 L444.1,533.4 L445.1,533.4 L446.1,533.5 L447.1,533.5 L448.1,533.5 L449.1,533.5 L450.1,533.5 L451.1,533.5 L452.1,533.6 L453.1,533.6 L454.1,533.6 L455.1,533.6 L456.1,533.6 L457.1,533.6 L458.1,533.6 L459.1,533.7 L460.1,533.7 L461.1,533.7 L462.1,533.7 L463.1,533.7 L464.1,533.7 L465.1,533.7 L466.1,533.7 L467.1,533.7 L468.1,533.7 L469.1,533.8 L470.1,533.8 L471.1,533.8 L472.1,533.8 L473.1,533.8 L474.1,533.8 L475.1,533.8 L476.1,533.8 L477.1,533.8 L478.1,533.8 L479.1,533.8 L480.1,533.8 L481.1,533.8 L482.1,533.8 L483.1,533.9 L484.1,533.9 L485.1,533.9 L486.1,533.9 L487.1,533.9 L488.1,533.9 L489.1,533.9 L490.1,533.9 L491.1,533.9 L492.1,533.9 L493.1,533.9 L494.1,533.9 L495.1,533.9 L496.1,533.9 L497.1,533.9 L498.1,533.9 L499.1,533.9 L500.1,533.9 L501.1,533.9 L502.1,533.9 L503.1,533.9 L504.1,533.9 L505.1,534 L506.1,534 L507.1,534 L508.1,534 L509.1,534 L510.1,534 L511.1,534 L512.1,534 L513.1,534 L514.1,534 L515.1,534 L516.1,534 L517.1,534 L518.1,534 L519.1,534 L520.1,534 L521.1,534 L522.1,534 L523.1,534 L524.1,534 L525.1,534 L526.1,534 L527.1,534 L528.1,534 L529.1,534 L530.1,534 L531.1,534 L532.1,534 L533.1,534 L534.1,534 L535.1,534 L536.1,534 L537.1,534 L538,534 L538,534.2 L303.1,534.2 Z" fill="url(#gr)" fill-opacity="0.9"/>
<path d="M303.1,534.1 L304.1,534.1 L305.1,534.1 L306.1,534.1 L307.1,534 L308.1,534 L309.1,534 L310.1,534 L311.1,534 L312.1,534 L313.1,534 L314.1,534 L315.1,534 L316.1,534 L317.1,534 L318.1,534 L319.1,534 L320.1,534 L321.1,534 L322.1,534 L323.1,534 L324.1,534 L325.1,534 L326.1,534 L327.1,534 L328.1,534 L329.1,534 L330.1,534 L331.1,534 L332.1,534 L333.1,534 L334.1,534 L335.1,534 L336.1,534 L337.1,534 L338.1,534 L339.1,534 L340.1,534 L341.1,533.9 L342.1,533.9 L343.1,533.9 L344.1,533.9 L345.1,533.9 L346.1,533.9 L347.1,533.9 L348.1,533.9 L349.1,533.9 L350.1,533.9 L351.1,533.9 L352.1,533.9 L353.1,533.9 L354.1,533.9 L355.1,533.9 L356.1,533.9 L357.1,533.9 L358.1,533.9 L359.1,533.8 L360.1,533.8 L361.1,533.8 L362.1,533.8 L363.1,533.8 L364.1,533.8 L365.1,533.8 L366.1,533.8 L367.1,533.8 L368.1,533.8 L369.1,533.8 L370.1,533.7 L371.1,533.7 L372.1,533.7 L373.1,533.7 L374.1,533.7 L375.1,533.7 L376.1,533.7 L377.1,533.6 L378.1,533.6 L379.1,533.6 L380.1,533.6 L381.1,533.6 L382.1,533.5 L383.1,533.5 L384.1,533.5 L385.1,533.4 L386.1,533.4 L387.1,533.4 L388.1,533.3 L389.1,533.3 L390.1,533.2 L391.1,533.2 L392.1,533.1 L393.1,533 L394.1,533 L395.1,532.9 L396.1,532.8 L397.1,532.7 L398.1,532.6 L399.1,532.5 L400.1,532.4 L401.1,532.2 L402.1,532.1 L403.1,531.9 L404.1,531.8 L405.1,531.6 L406.1,531.4 L407.1,531.2 L408.1,530.9 L409.1,530.7 L410.1,530.5 L411.1,530.2 L412.1,530.3 L413.1,530.6 L414.1,530.9 L415.1,531.1 L416.1,531.3 L417.1,531.5 L418.1,531.7 L419.1,531.9 L420.1,532 L421.1,532.2 L422.1,532.3 L423.1,532.4 L424.1,532.5 L425.1,532.6 L426.1,532.7 L427.1,532.8 L428.1,532.8 L429.1,532.9 L430.1,533 L431.1,533 L432.1,533.1 L433.1,533.1 L434.1,533.1 L435.1,533.2 L436.1,533.2 L437.1,533.3 L438.1,533.3 L439.1,533.3 L440.1,533.3 L441.1,533.4 L442.1,533.4 L443.1,533.4 L444.1,533.4 L445.1,533.4 L446.1,533.5 L447.1,533.5 L448.1,533.5 L449.1,533.5 L450.1,533.5 L451.1,533.5 L452.1,533.6 L453.1,533.6 L454.1,533.6 L455.1,533.6 L456.1,533.6 L457.1,533.6 L458.1,533.6 L459.1,533.7 L460.1,533.7 L461.1,533.7 L462.1,533.7 L463.1,533.7 L464.1,533.7 L465.1,533.7 L466.1,533.7 L467.1,533.7 L468.1,533.7 L469.1,533.8 L470.1,533.8 L471.1,533.8 L472.1,533.8 L473.1,533.8 L474.1,533.8 L475.1,533.8 L476.1,533.8 L477.1,533.8 L478.1,533.8 L479.1,533.8 L480.1,533.8 L481.1,533.8 L482.1,533.8 L483.1,533.9 L484.1,533.9 L485.1,533.9 L486.1,533.9 L487.1,533.9 L488.1,533.9 L489.1,533.9 L490.1,533.9 L491.1,533.9 L492.1,533.9 L493.1,533.9 L494.1,533.9 L495.1,533.9 L496.1,533.9 L497.1,533.9 L498.1,533.9 L499.1,533.9 L500.1,533.9 L501.1,533.9 L502.1,533.9 L503.1,533.9 L504.1,533.9 L505.1,534 L506.1,534 L507.1,534 L508.1,534 L509.1,534 L510.1,534 L511.1,534 L512.1,534 L513.1,534 L514.1,534 L515.1,534 L516.1,534 L517.1,534 L518.1,534 L519.1,534 L520.1,534 L521.1,534 L522.1,534 L523.1,534 L524.1,534 L525.1,534 L526.1,534 L527.1,534 L528.1,534 L529.1,534 L530.1,534 L531.1,534 L532.1,534 L533.1,534 L534.1,534 L535.1,534 L536.1,534 L537.1,534 L537.1,534.2 L303.1,534.2 Z" fill="#8e2f45" fill-opacity="0.45"/>
<line x1="303.1" y1="534.2" x2="538" y2="534.2" stroke="none" stroke-width="0.8"/>
<line x1="303.1" y1="533.7" x2="420" y2="533.7" stroke="#f04050" stroke-width="0.7"/>
<line x1="303.1" y1="535" x2="538" y2="535" stroke="#6a88e0" stroke-width="1.0"/>
<line x1="349.4" y1="416" x2="349.4" y2="535" stroke="#404040" stroke-width="1.2" stroke-dasharray="4.2,3.8"/>
<line x1="412" y1="438.5" x2="412" y2="535" stroke="#404040" stroke-width="1.2" stroke-dasharray="4.2,3.8"/>
<rect x="303.1" y="392.2" width="234.9" height="153.1" fill="none" stroke="#383838" stroke-width="1.4"/>
<line x1="303.1" y1="468.4" x2="538" y2="468.4" stroke="#383838" stroke-width="1.3"/>
<line x1="303.1" y1="545.3" x2="303.1" y2="542.3" stroke="#383838" stroke-width="1.1"/>
<line x1="381.4" y1="545.3" x2="381.4" y2="542.3" stroke="#383838" stroke-width="1.1"/>
<line x1="459.7" y1="545.3" x2="459.7" y2="542.3" stroke="#383838" stroke-width="1.1"/>
<line x1="538" y1="545.3" x2="538" y2="542.3" stroke="#383838" stroke-width="1.1"/>
<line x1="342.2" y1="545.3" x2="342.2" y2="543.5" stroke="#383838" stroke-width="1"/>
<line x1="420.6" y1="545.3" x2="420.6" y2="543.5" stroke="#383838" stroke-width="1"/>
<line x1="498.9" y1="545.3" x2="498.9" y2="543.5" stroke="#383838" stroke-width="1"/>
<text transform="translate(303.1,556.6) scale(1,0.92)" font-size="8.5" text-anchor="middle" >196</text>
<text transform="translate(381.4,556.6) scale(1,0.92)" font-size="8.5" text-anchor="middle" >198</text>
<text transform="translate(459.7,556.6) scale(1,0.92)" font-size="8.5" text-anchor="middle" >200</text>
<text transform="translate(538,556.6) scale(1,0.92)" font-size="8.5" text-anchor="middle" >202</text>
<text transform="translate(286.4,404.7) scale(1,1.1)" font-size="10.8" text-anchor="start" >(f)</text>
<text transform="translate(306.7,403.9) scale(1,1.1)" font-size="8.4" text-anchor="start" >Cl 2p</text>
<text transform="translate(339.8,414) scale(1,1.1)" font-size="8.6" text-anchor="start" >Cl 2p<tspan font-size="5.5" dy="2">3/2</tspan></text>
<text transform="translate(402.5,434.5) scale(1,1.1)" font-size="8.6" text-anchor="start" >Cl 2p<tspan font-size="5.5" dy="2">1/2</tspan></text>
<text transform="translate(510.4,405) scale(1,1.1)" font-size="8.8" text-anchor="start" textLength="23.2" lengthAdjust="spacingAndGlyphs" >BiOCl</text>
<text transform="translate(308,480.1) scale(1,1.1)" font-size="8.4" text-anchor="start" >Cl 2p</text>
<text transform="translate(479.3,482.5) scale(1,1.1)" font-size="8.6" text-anchor="start" textLength="48.7" lengthAdjust="spacingAndGlyphs" >PCN/BiOCl-0</text>
<text transform="translate(374.2,573) scale(1,1.03)" font-size="10.6" text-anchor="start" textLength="94.5" lengthAdjust="spacing" >Binding Energy (eV)</text>
<text transform="translate(294.9,469.2) rotate(-90)" font-size="11.8" text-anchor="middle" textLength="65.5" lengthAdjust="spacingAndGlyphs">Intensity (a.u.)</text>
</g></svg>
</body></html>
